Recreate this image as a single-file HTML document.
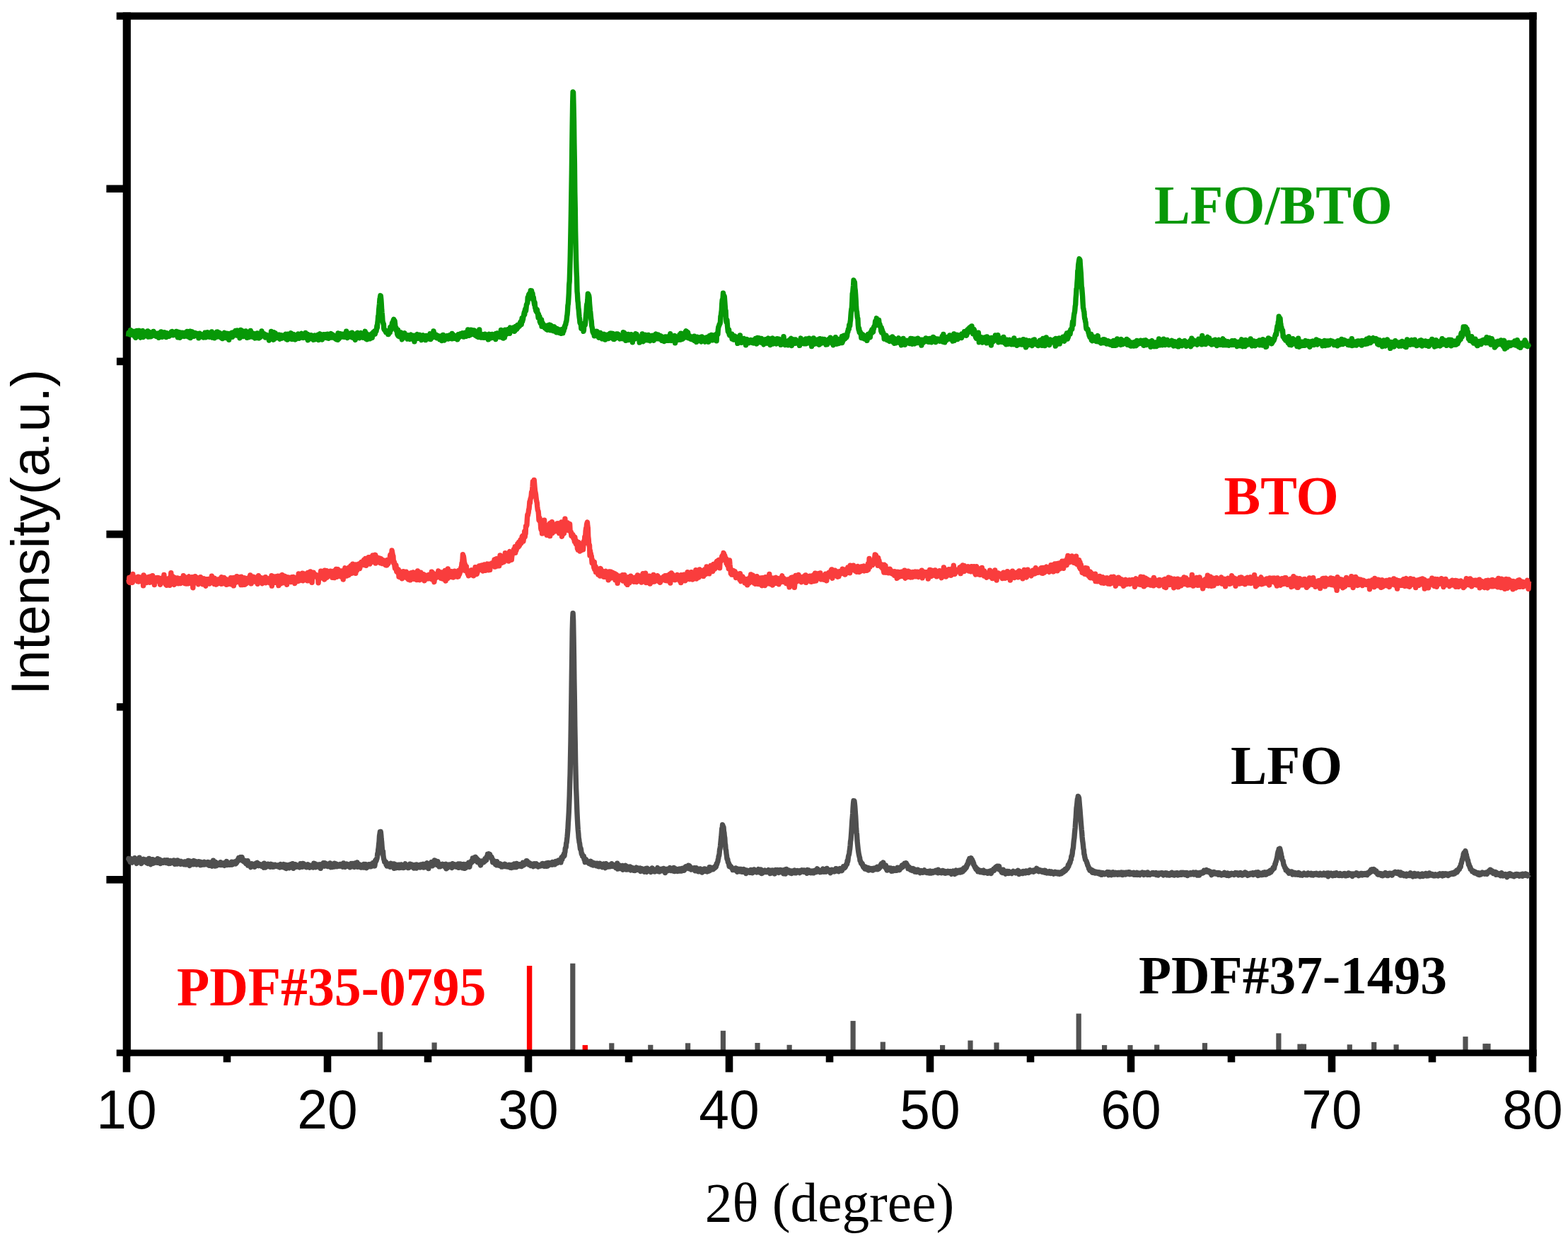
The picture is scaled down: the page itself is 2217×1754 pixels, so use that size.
<!DOCTYPE html>
<html lang="en"><head><meta charset="utf-8"><title>XRD patterns</title>
<style>html,body{margin:0;padding:0;background:#fff;overflow:hidden}svg{display:block}</style></head>
<body>
<svg width="2217" height="1754" viewBox="0 0 2217 1754">
<rect width="2217" height="1754" fill="#fff"/>
<g stroke="#000" stroke-width="10.5" fill="none" stroke-linecap="butt">
<line x1="164.70000000000002" y1="22.6" x2="2172.65" y2="22.6" stroke-width="10.4"/>
<line x1="179.3" y1="17.400000000000002" x2="179.3" y2="1492.75" stroke-width="11.2"/>
<line x1="2167.4" y1="17.400000000000002" x2="2167.4" y2="1492.75"/>
<line x1="179.0" y1="1488.1" x2="179.0" y2="1515.3999999999999" stroke-width="10.6"/>
<line x1="321.0" y1="1488.1" x2="321.0" y2="1501.3999999999999" stroke-width="10.6"/>
<line x1="463.0" y1="1488.1" x2="463.0" y2="1515.3999999999999" stroke-width="10.6"/>
<line x1="605.0" y1="1488.1" x2="605.0" y2="1501.3999999999999" stroke-width="10.6"/>
<line x1="747.0" y1="1488.1" x2="747.0" y2="1515.3999999999999" stroke-width="10.6"/>
<line x1="889.0" y1="1488.1" x2="889.0" y2="1501.3999999999999" stroke-width="10.6"/>
<line x1="1031.0" y1="1488.1" x2="1031.0" y2="1515.3999999999999" stroke-width="10.6"/>
<line x1="1173.0" y1="1488.1" x2="1173.0" y2="1501.3999999999999" stroke-width="10.6"/>
<line x1="1315.0" y1="1488.1" x2="1315.0" y2="1515.3999999999999" stroke-width="10.6"/>
<line x1="1457.0" y1="1488.1" x2="1457.0" y2="1501.3999999999999" stroke-width="10.6"/>
<line x1="1599.0" y1="1488.1" x2="1599.0" y2="1515.3999999999999" stroke-width="10.6"/>
<line x1="1741.0" y1="1488.1" x2="1741.0" y2="1501.3999999999999" stroke-width="10.6"/>
<line x1="1883.0" y1="1488.1" x2="1883.0" y2="1515.3999999999999" stroke-width="10.6"/>
<line x1="2025.0" y1="1488.1" x2="2025.0" y2="1501.3999999999999" stroke-width="10.6"/>
<line x1="2167.0" y1="1488.1" x2="2167.0" y2="1515.3999999999999" stroke-width="10.6"/>
<line x1="178.9" y1="266.8" x2="150.4" y2="266.8" stroke-width="10.6"/>
<line x1="178.9" y1="510.9" x2="164.9" y2="510.9" stroke-width="10.6"/>
<line x1="178.9" y1="755.1" x2="150.4" y2="755.1" stroke-width="10.6"/>
<line x1="178.9" y1="999.2" x2="164.9" y2="999.2" stroke-width="10.6"/>
<line x1="178.9" y1="1243.3" x2="150.4" y2="1243.3" stroke-width="10.6"/>
</g>
<g stroke="#525252" stroke-width="7.2" stroke-linecap="butt">
<line x1="537.4" y1="1488.1" x2="537.4" y2="1458.6"/>
<line x1="614.1" y1="1488.1" x2="614.1" y2="1473.5"/>
<line x1="809.8" y1="1488.1" x2="809.8" y2="1361.7"/>
<line x1="864.8" y1="1488.1" x2="864.8" y2="1474.3"/>
<line x1="919.8" y1="1488.1" x2="919.8" y2="1476.8"/>
<line x1="972.6" y1="1488.1" x2="972.6" y2="1474.3"/>
<line x1="1022.4" y1="1488.1" x2="1022.4" y2="1456.8"/>
<line x1="1071.0" y1="1488.1" x2="1071.0" y2="1474.0"/>
<line x1="1116.1" y1="1488.1" x2="1116.1" y2="1476.8"/>
<line x1="1206.1" y1="1488.1" x2="1206.1" y2="1442.9"/>
<line x1="1248.3" y1="1488.1" x2="1248.3" y2="1472.6"/>
<line x1="1332.6" y1="1488.1" x2="1332.6" y2="1477.1"/>
<line x1="1372.0" y1="1488.1" x2="1372.0" y2="1470.6"/>
<line x1="1409.0" y1="1488.1" x2="1409.0" y2="1473.5"/>
<line x1="1525.2" y1="1488.1" x2="1525.2" y2="1432.6"/>
<line x1="1561.6" y1="1488.1" x2="1561.6" y2="1477.1"/>
<line x1="1598.0" y1="1488.1" x2="1598.0" y2="1477.1"/>
<line x1="1635.7" y1="1488.1" x2="1635.7" y2="1476.6"/>
<line x1="1703.5" y1="1488.1" x2="1703.5" y2="1474.1"/>
<line x1="1807.9" y1="1488.1" x2="1807.9" y2="1460.4"/>
<line x1="1838.0" y1="1488.1" x2="1838.0" y2="1475.6"/>
<line x1="1843.5" y1="1488.1" x2="1843.5" y2="1475.6"/>
<line x1="1908.3" y1="1488.1" x2="1908.3" y2="1476.3"/>
<line x1="1942.7" y1="1488.1" x2="1942.7" y2="1472.9"/>
<line x1="1974.1" y1="1488.1" x2="1974.1" y2="1476.3"/>
<line x1="2072.0" y1="1488.1" x2="2072.0" y2="1465.1"/>
<line x1="2100.0" y1="1488.1" x2="2100.0" y2="1475.1"/>
<line x1="2104.0" y1="1488.1" x2="2104.0" y2="1475.1"/>
</g>
<g stroke="#f00" stroke-width="7.4" stroke-linecap="butt">
<line x1="748.6" y1="1488.1" x2="748.6" y2="1365.1"/>
<line x1="827.3" y1="1488.1" x2="827.3" y2="1477.1"/>
</g>
<line x1="164.70000000000002" y1="1488.1" x2="2172.65" y2="1488.1" stroke="#000" stroke-width="9.3"/>
<path d="M181.5,1215.8 L181.9,1213.6 L182.4,1215.1 L182.8,1214.6 L183.3,1216.1 L183.7,1215.8 L184.2,1218.3 L184.6,1217.5 L185.1,1218.7 L185.5,1216.7 L186.0,1213.8 L186.4,1217.9 L186.9,1219.1 L187.3,1215.3 L187.8,1218.1 L188.2,1215.9 L188.7,1216.6 L189.1,1216.2 L189.6,1215.0 L190.0,1214.8 L190.5,1212.7 L190.9,1215.9 L191.4,1216.5 L191.8,1217.9 L192.3,1217.0 L192.7,1217.7 L193.2,1220.4 L193.6,1218.3 L194.1,1216.2 L194.5,1216.5 L195.0,1215.9 L195.4,1218.0 L195.9,1215.2 L196.3,1217.6 L196.8,1216.6 L197.2,1212.2 L197.7,1217.4 L198.1,1216.2 L198.6,1215.9 L199.0,1217.1 L199.5,1217.4 L199.9,1220.5 L200.4,1216.8 L200.8,1215.4 L201.3,1216.5 L201.7,1217.2 L202.2,1214.9 L202.6,1216.0 L203.1,1214.2 L203.5,1215.0 L204.0,1216.3 L204.4,1218.0 L204.9,1215.3 L205.3,1215.3 L205.8,1216.4 L206.2,1215.1 L206.7,1215.9 L207.1,1215.4 L207.6,1219.6 L208.0,1216.5 L208.5,1219.6 L208.9,1217.9 L209.4,1220.4 L209.8,1216.0 L210.3,1217.6 L210.7,1213.4 L211.2,1219.1 L211.6,1218.1 L212.1,1216.7 L212.5,1220.4 L213.0,1221.7 L213.4,1219.5 L213.9,1219.4 L214.3,1216.8 L214.8,1215.6 L215.2,1214.8 L215.7,1219.0 L216.1,1214.7 L216.6,1217.3 L217.0,1220.2 L217.5,1218.1 L217.9,1215.5 L218.4,1216.0 L218.8,1219.4 L219.3,1216.1 L219.7,1217.3 L220.2,1215.9 L220.6,1217.9 L221.1,1216.8 L221.5,1219.1 L222.0,1215.8 L222.4,1216.6 L222.9,1213.7 L223.3,1219.4 L223.8,1219.2 L224.2,1217.0 L224.7,1217.9 L225.1,1218.6 L225.6,1219.4 L226.0,1214.9 L226.5,1215.7 L226.9,1220.5 L227.4,1219.0 L227.8,1218.2 L228.3,1217.4 L228.7,1218.7 L229.2,1219.0 L229.6,1219.2 L230.1,1216.5 L230.5,1218.5 L231.0,1219.3 L231.4,1219.2 L231.9,1216.8 L232.3,1217.6 L232.8,1215.9 L233.2,1216.5 L233.7,1217.4 L234.1,1218.2 L234.6,1218.6 L235.0,1219.4 L235.5,1218.0 L235.9,1215.8 L236.4,1218.0 L236.8,1217.5 L237.3,1215.9 L237.7,1217.8 L238.2,1219.6 L238.6,1220.5 L239.1,1218.7 L239.5,1216.6 L240.0,1218.6 L240.4,1217.4 L240.9,1220.3 L241.3,1216.5 L241.8,1219.8 L242.2,1218.1 L242.7,1219.1 L243.1,1217.4 L243.6,1219.2 L244.0,1218.3 L244.5,1218.0 L244.9,1216.7 L245.4,1217.7 L245.8,1216.0 L246.3,1219.9 L246.7,1218.7 L247.2,1221.3 L247.6,1216.4 L248.1,1221.0 L248.5,1219.1 L249.0,1217.7 L249.4,1219.3 L249.9,1216.9 L250.3,1217.0 L250.8,1221.0 L251.2,1215.9 L251.7,1218.6 L252.1,1220.4 L252.6,1218.3 L253.0,1220.2 L253.5,1217.9 L253.9,1217.5 L254.4,1220.6 L254.8,1220.5 L255.3,1219.1 L255.7,1221.3 L256.2,1217.3 L256.6,1220.4 L257.1,1218.0 L257.5,1218.9 L258.0,1218.6 L258.4,1218.8 L258.9,1219.5 L259.3,1221.2 L259.8,1221.6 L260.2,1219.8 L260.7,1219.8 L261.1,1217.9 L261.6,1221.7 L262.0,1220.5 L262.5,1218.1 L262.9,1219.5 L263.4,1221.9 L263.8,1218.9 L264.3,1220.5 L264.7,1220.0 L265.2,1219.3 L265.6,1219.7 L266.1,1216.4 L266.5,1220.9 L267.0,1218.7 L267.4,1219.8 L267.9,1217.7 L268.3,1223.5 L268.8,1220.9 L269.2,1217.1 L269.7,1219.2 L270.1,1219.8 L270.6,1219.0 L271.0,1218.3 L271.5,1218.1 L271.9,1218.4 L272.4,1219.7 L272.8,1219.8 L273.3,1221.7 L273.7,1219.7 L274.2,1216.6 L274.6,1219.7 L275.1,1221.5 L275.5,1217.9 L276.0,1219.8 L276.4,1219.8 L276.9,1217.5 L277.3,1218.8 L277.8,1217.9 L278.2,1222.0 L278.7,1220.9 L279.1,1220.0 L279.6,1220.8 L280.0,1220.6 L280.5,1218.2 L280.9,1217.7 L281.4,1217.8 L281.8,1218.4 L282.3,1221.7 L282.7,1222.1 L283.2,1222.7 L283.6,1218.2 L284.1,1220.0 L284.5,1221.6 L285.0,1222.3 L285.4,1219.0 L285.9,1219.0 L286.3,1219.3 L286.8,1220.7 L287.2,1221.3 L287.7,1221.4 L288.1,1219.1 L288.6,1222.0 L289.0,1218.2 L289.5,1220.7 L289.9,1221.8 L290.4,1221.6 L290.8,1220.8 L291.3,1219.8 L291.7,1220.6 L292.2,1219.8 L292.6,1219.9 L293.1,1219.2 L293.5,1222.1 L294.0,1218.4 L294.4,1219.1 L294.9,1222.3 L295.3,1221.1 L295.8,1223.3 L296.2,1223.1 L296.7,1221.3 L297.1,1222.3 L297.6,1218.9 L298.0,1220.9 L298.5,1223.0 L298.9,1220.9 L299.4,1220.5 L299.8,1224.2 L300.3,1221.3 L300.7,1217.9 L301.2,1221.8 L301.6,1216.2 L302.1,1220.9 L302.5,1220.7 L303.0,1219.3 L303.4,1218.8 L303.9,1219.3 L304.3,1224.1 L304.8,1218.4 L305.2,1219.1 L305.7,1220.3 L306.1,1220.1 L306.6,1223.6 L307.0,1221.6 L307.5,1220.9 L307.9,1222.1 L308.4,1221.3 L308.8,1220.4 L309.3,1220.0 L309.7,1220.1 L310.2,1220.2 L310.6,1219.9 L311.1,1220.5 L311.5,1222.5 L312.0,1218.6 L312.4,1221.0 L312.9,1221.5 L313.3,1220.2 L313.8,1220.5 L314.2,1222.6 L314.7,1220.6 L315.1,1222.3 L315.6,1222.2 L316.0,1221.6 L316.5,1221.5 L316.9,1222.4 L317.4,1223.3 L317.8,1219.4 L318.3,1222.3 L318.7,1219.6 L319.2,1219.1 L319.6,1220.6 L320.1,1220.5 L320.5,1217.6 L321.0,1222.6 L321.4,1219.6 L321.9,1221.6 L322.3,1221.4 L322.8,1221.9 L323.2,1221.0 L323.7,1221.1 L324.1,1220.7 L324.6,1220.1 L325.0,1222.3 L325.5,1220.6 L325.9,1220.7 L326.4,1219.3 L326.8,1219.4 L327.3,1220.7 L327.7,1218.2 L328.2,1222.2 L328.6,1219.2 L329.1,1219.2 L329.5,1218.7 L330.0,1219.5 L330.4,1220.1 L330.9,1220.6 L331.3,1218.8 L331.8,1218.1 L332.2,1219.4 L332.7,1219.2 L333.1,1218.2 L333.6,1220.9 L334.0,1217.1 L334.5,1216.8 L334.9,1218.9 L335.4,1216.4 L335.8,1216.3 L336.3,1215.1 L336.7,1214.1 L337.2,1214.5 L337.6,1212.5 L338.1,1215.4 L338.5,1214.1 L339.0,1215.8 L339.4,1212.5 L339.9,1211.7 L340.3,1214.0 L340.8,1211.8 L341.2,1214.4 L341.7,1212.7 L342.1,1211.5 L342.6,1214.3 L343.0,1214.9 L343.5,1216.7 L343.9,1215.8 L344.4,1217.5 L344.8,1217.9 L345.3,1216.7 L345.7,1216.7 L346.2,1217.5 L346.6,1216.4 L347.1,1219.2 L347.5,1220.4 L348.0,1219.4 L348.4,1219.2 L348.9,1218.5 L349.3,1221.1 L349.8,1221.6 L350.2,1216.8 L350.7,1223.1 L351.1,1222.7 L351.6,1219.9 L352.0,1220.8 L352.5,1221.2 L352.9,1221.8 L353.4,1221.1 L353.8,1222.7 L354.3,1223.2 L354.7,1225.7 L355.2,1221.8 L355.6,1220.8 L356.1,1223.3 L356.5,1221.9 L357.0,1222.2 L357.4,1222.1 L357.9,1221.5 L358.3,1221.5 L358.8,1221.6 L359.2,1221.3 L359.7,1222.0 L360.1,1225.3 L360.6,1222.5 L361.0,1221.2 L361.5,1220.5 L361.9,1223.5 L362.4,1220.8 L362.8,1222.2 L363.3,1219.8 L363.7,1219.5 L364.2,1222.9 L364.6,1220.0 L365.1,1222.7 L365.5,1223.6 L366.0,1221.2 L366.4,1221.8 L366.9,1222.0 L367.3,1221.7 L367.8,1222.2 L368.2,1222.2 L368.7,1222.6 L369.1,1223.2 L369.6,1224.1 L370.0,1223.9 L370.5,1223.2 L370.9,1221.9 L371.4,1223.7 L371.8,1224.0 L372.3,1223.0 L372.7,1222.3 L373.2,1226.2 L373.6,1220.2 L374.1,1224.4 L374.5,1223.7 L375.0,1225.5 L375.4,1225.9 L375.9,1224.2 L376.3,1222.7 L376.8,1224.3 L377.2,1222.0 L377.7,1223.9 L378.1,1222.7 L378.6,1224.5 L379.0,1221.2 L379.5,1223.0 L379.9,1223.7 L380.4,1223.2 L380.8,1223.1 L381.3,1222.5 L381.7,1223.0 L382.2,1225.3 L382.6,1222.4 L383.1,1221.4 L383.5,1221.9 L384.0,1222.7 L384.4,1224.2 L384.9,1222.7 L385.3,1224.2 L385.8,1225.2 L386.2,1222.1 L386.7,1223.9 L387.1,1223.3 L387.6,1225.0 L388.0,1224.8 L388.5,1224.2 L388.9,1222.2 L389.4,1223.5 L389.8,1224.1 L390.3,1224.2 L390.7,1223.3 L391.2,1224.3 L391.6,1224.5 L392.1,1224.6 L392.5,1223.3 L393.0,1223.9 L393.4,1222.7 L393.9,1223.3 L394.3,1225.3 L394.8,1224.2 L395.2,1224.3 L395.7,1226.0 L396.1,1223.4 L396.6,1223.9 L397.0,1221.6 L397.5,1224.9 L397.9,1223.4 L398.4,1225.0 L398.8,1225.3 L399.3,1224.4 L399.7,1225.2 L400.2,1222.3 L400.6,1223.6 L401.1,1221.6 L401.5,1225.7 L402.0,1225.2 L402.4,1226.4 L402.9,1226.2 L403.3,1226.4 L403.8,1224.0 L404.2,1222.3 L404.7,1223.9 L405.1,1227.5 L405.6,1225.3 L406.0,1226.2 L406.5,1225.6 L406.9,1225.4 L407.4,1224.0 L407.8,1222.6 L408.3,1225.4 L408.7,1222.9 L409.2,1226.8 L409.6,1225.4 L410.1,1225.6 L410.5,1224.5 L411.0,1221.8 L411.4,1222.8 L411.9,1225.3 L412.3,1222.0 L412.8,1221.9 L413.2,1225.7 L413.7,1220.6 L414.1,1223.8 L414.6,1224.7 L415.0,1227.3 L415.5,1226.2 L415.9,1225.3 L416.4,1222.0 L416.8,1223.9 L417.3,1221.7 L417.7,1224.5 L418.2,1222.0 L418.6,1225.4 L419.1,1225.0 L419.5,1223.5 L420.0,1224.9 L420.4,1224.4 L420.9,1224.0 L421.3,1223.7 L421.8,1224.8 L422.2,1223.9 L422.7,1223.2 L423.1,1224.4 L423.6,1223.0 L424.0,1225.9 L424.5,1225.2 L424.9,1220.8 L425.4,1223.1 L425.8,1223.2 L426.3,1223.3 L426.7,1224.0 L427.2,1225.2 L427.6,1225.3 L428.1,1220.4 L428.5,1224.5 L429.0,1220.7 L429.4,1224.8 L429.9,1223.8 L430.3,1221.9 L430.8,1222.4 L431.2,1222.4 L431.7,1224.8 L432.1,1222.2 L432.6,1222.5 L433.0,1223.9 L433.5,1225.8 L433.9,1222.7 L434.4,1223.9 L434.8,1222.5 L435.3,1225.0 L435.7,1221.8 L436.2,1224.0 L436.6,1223.9 L437.1,1222.8 L437.5,1225.1 L438.0,1226.2 L438.4,1223.5 L438.9,1223.8 L439.3,1223.5 L439.8,1225.1 L440.2,1224.8 L440.7,1224.0 L441.1,1224.0 L441.6,1223.1 L442.0,1223.8 L442.5,1224.0 L442.9,1226.1 L443.4,1224.7 L443.8,1220.2 L444.3,1222.5 L444.7,1224.9 L445.2,1224.7 L445.6,1220.6 L446.1,1223.2 L446.5,1225.8 L447.0,1222.6 L447.4,1223.0 L447.9,1223.7 L448.3,1222.1 L448.8,1224.9 L449.2,1223.4 L449.7,1223.3 L450.1,1222.1 L450.6,1224.9 L451.0,1223.2 L451.5,1222.7 L451.9,1223.6 L452.4,1221.9 L452.8,1223.0 L453.3,1227.3 L453.7,1223.0 L454.2,1222.9 L454.6,1224.1 L455.1,1224.4 L455.5,1224.3 L456.0,1223.8 L456.4,1220.9 L456.9,1222.4 L457.3,1219.7 L457.8,1223.7 L458.2,1223.3 L458.7,1224.0 L459.1,1220.7 L459.6,1219.9 L460.0,1222.9 L460.5,1221.5 L460.9,1221.5 L461.4,1222.4 L461.8,1221.6 L462.3,1221.2 L462.7,1224.3 L463.2,1224.1 L463.6,1224.5 L464.1,1223.7 L464.5,1223.4 L465.0,1224.0 L465.4,1223.0 L465.9,1223.5 L466.3,1223.0 L466.8,1220.0 L467.2,1223.8 L467.7,1225.6 L468.1,1225.2 L468.6,1222.6 L469.0,1223.6 L469.5,1223.5 L469.9,1225.6 L470.4,1225.4 L470.8,1222.0 L471.3,1221.9 L471.7,1222.3 L472.2,1222.1 L472.6,1225.1 L473.1,1220.2 L473.5,1221.3 L474.0,1220.8 L474.4,1221.8 L474.9,1223.5 L475.3,1220.9 L475.8,1223.5 L476.2,1224.7 L476.7,1222.8 L477.1,1224.6 L477.6,1222.8 L478.0,1223.5 L478.5,1222.4 L478.9,1224.2 L479.4,1223.0 L479.8,1223.4 L480.3,1223.8 L480.7,1224.1 L481.2,1221.4 L481.6,1223.4 L482.1,1222.2 L482.5,1222.8 L483.0,1223.4 L483.4,1224.3 L483.9,1223.3 L484.3,1223.0 L484.8,1225.2 L485.2,1223.9 L485.7,1220.0 L486.1,1223.3 L486.6,1222.0 L487.0,1223.6 L487.5,1223.9 L487.9,1225.4 L488.4,1222.7 L488.8,1224.7 L489.3,1223.4 L489.7,1222.7 L490.2,1221.0 L490.6,1223.1 L491.1,1224.4 L491.5,1221.8 L492.0,1223.7 L492.4,1222.4 L492.9,1223.8 L493.3,1222.7 L493.8,1223.8 L494.2,1221.7 L494.7,1224.1 L495.1,1225.8 L495.6,1224.7 L496.0,1222.4 L496.5,1220.5 L496.9,1223.3 L497.4,1221.4 L497.8,1222.9 L498.3,1224.8 L498.7,1220.4 L499.2,1223.3 L499.6,1223.4 L500.1,1224.5 L500.5,1223.9 L501.0,1225.4 L501.4,1223.4 L501.9,1223.7 L502.3,1219.9 L502.8,1223.0 L503.2,1222.7 L503.7,1223.0 L504.1,1224.4 L504.6,1220.9 L505.0,1218.9 L505.5,1225.2 L505.9,1222.4 L506.4,1222.2 L506.8,1224.8 L507.3,1223.9 L507.7,1223.2 L508.2,1223.7 L508.6,1224.5 L509.1,1222.1 L509.5,1223.3 L510.0,1225.9 L510.4,1223.8 L510.9,1223.6 L511.3,1226.1 L511.8,1223.4 L512.2,1225.1 L512.7,1223.3 L513.1,1222.9 L513.6,1224.0 L514.0,1223.9 L514.5,1221.4 L514.9,1226.1 L515.4,1223.7 L515.8,1226.0 L516.3,1221.9 L516.7,1222.6 L517.2,1221.6 L517.6,1223.3 L518.1,1224.6 L518.5,1226.7 L519.0,1223.0 L519.4,1223.1 L519.9,1224.8 L520.3,1224.0 L520.8,1222.1 L521.2,1222.2 L521.7,1221.8 L522.1,1224.4 L522.6,1221.9 L523.0,1222.4 L523.5,1224.7 L523.9,1222.4 L524.4,1224.8 L524.8,1221.1 L525.3,1221.8 L525.7,1224.4 L526.2,1223.2 L526.6,1221.0 L527.1,1220.5 L527.5,1219.5 L528.0,1221.9 L528.4,1220.7 L528.9,1221.2 L529.3,1220.3 L529.8,1223.9 L530.2,1221.2 L530.7,1216.5 L531.1,1218.3 L531.6,1215.3 L532.0,1216.5 L532.5,1214.5 L532.9,1213.7 L533.4,1211.1 L533.8,1206.5 L534.3,1207.8 L534.7,1201.0 L535.2,1198.0 L535.6,1193.3 L536.1,1189.1 L536.5,1181.7 L537.0,1178.6 L537.4,1175.8 L537.9,1177.6 L538.3,1175.5 L538.8,1180.6 L539.2,1186.2 L539.7,1190.5 L540.1,1196.3 L540.6,1202.0 L541.0,1203.4 L541.5,1203.2 L541.9,1209.4 L542.4,1212.4 L542.8,1214.5 L543.3,1215.9 L543.7,1218.2 L544.2,1217.8 L544.6,1217.8 L545.1,1217.8 L545.5,1218.2 L546.0,1222.0 L546.4,1220.3 L546.9,1220.5 L547.3,1224.1 L547.8,1220.3 L548.2,1223.4 L548.7,1220.8 L549.1,1221.5 L549.6,1221.7 L550.0,1223.2 L550.5,1222.4 L550.9,1224.4 L551.4,1222.0 L551.8,1225.4 L552.3,1222.2 L552.7,1220.3 L553.2,1221.7 L553.6,1221.9 L554.1,1223.7 L554.5,1221.2 L555.0,1224.7 L555.4,1221.5 L555.9,1222.2 L556.3,1225.0 L556.8,1220.9 L557.2,1227.2 L557.7,1222.9 L558.1,1221.3 L558.6,1226.4 L559.0,1224.1 L559.5,1222.0 L559.9,1225.5 L560.4,1226.7 L560.8,1226.3 L561.3,1224.7 L561.7,1222.5 L562.2,1223.4 L562.6,1225.8 L563.1,1225.4 L563.5,1224.2 L564.0,1226.5 L564.4,1222.3 L564.9,1226.5 L565.3,1222.5 L565.8,1223.5 L566.2,1224.3 L566.7,1225.6 L567.1,1226.1 L567.6,1222.0 L568.0,1223.0 L568.5,1223.5 L568.9,1224.4 L569.4,1223.3 L569.8,1222.8 L570.3,1226.6 L570.7,1225.6 L571.2,1224.8 L571.6,1226.2 L572.1,1224.3 L572.5,1221.9 L573.0,1220.9 L573.4,1224.3 L573.9,1223.4 L574.3,1223.7 L574.8,1222.7 L575.2,1224.5 L575.7,1224.5 L576.1,1226.0 L576.6,1226.0 L577.0,1223.2 L577.5,1226.6 L577.9,1225.1 L578.4,1226.1 L578.8,1223.6 L579.3,1225.2 L579.7,1221.3 L580.2,1225.4 L580.6,1222.8 L581.1,1224.6 L581.5,1223.1 L582.0,1224.1 L582.4,1224.2 L582.9,1222.1 L583.3,1224.1 L583.8,1225.3 L584.2,1224.0 L584.7,1225.5 L585.1,1227.1 L585.6,1224.0 L586.0,1226.0 L586.5,1224.5 L586.9,1222.6 L587.4,1225.3 L587.8,1222.1 L588.3,1223.8 L588.7,1227.1 L589.2,1222.8 L589.6,1222.1 L590.1,1223.2 L590.5,1224.4 L591.0,1225.1 L591.4,1223.1 L591.9,1223.0 L592.3,1224.6 L592.8,1223.4 L593.2,1225.1 L593.7,1222.6 L594.1,1226.1 L594.6,1224.6 L595.0,1224.2 L595.5,1221.9 L595.9,1223.7 L596.4,1223.8 L596.8,1225.4 L597.3,1223.8 L597.7,1222.1 L598.2,1221.5 L598.6,1224.8 L599.1,1221.8 L599.5,1226.1 L600.0,1224.0 L600.4,1222.9 L600.9,1222.4 L601.3,1225.6 L601.8,1223.5 L602.2,1224.0 L602.7,1220.7 L603.1,1223.6 L603.6,1221.7 L604.0,1219.8 L604.5,1222.9 L604.9,1223.2 L605.4,1221.6 L605.8,1227.6 L606.3,1221.8 L606.7,1222.2 L607.2,1223.8 L607.6,1223.6 L608.1,1223.1 L608.5,1221.8 L609.0,1224.0 L609.4,1220.2 L609.9,1218.5 L610.3,1219.4 L610.8,1220.7 L611.2,1221.0 L611.7,1223.8 L612.1,1220.3 L612.6,1219.1 L613.0,1218.2 L613.5,1217.2 L613.9,1219.0 L614.4,1216.0 L614.8,1219.8 L615.3,1216.6 L615.7,1217.4 L616.2,1219.0 L616.6,1217.0 L617.1,1220.0 L617.5,1220.2 L618.0,1222.6 L618.4,1222.1 L618.9,1217.8 L619.3,1222.1 L619.8,1220.3 L620.2,1220.4 L620.7,1220.7 L621.1,1224.9 L621.6,1221.3 L622.0,1221.9 L622.5,1223.2 L622.9,1224.7 L623.4,1221.8 L623.8,1223.0 L624.3,1223.4 L624.7,1223.2 L625.2,1222.8 L625.6,1221.3 L626.1,1222.2 L626.5,1221.9 L627.0,1221.8 L627.4,1222.6 L627.9,1223.5 L628.3,1222.8 L628.8,1223.3 L629.2,1225.1 L629.7,1224.8 L630.1,1222.4 L630.6,1221.4 L631.0,1227.8 L631.5,1223.8 L631.9,1226.5 L632.4,1223.9 L632.8,1226.5 L633.3,1224.5 L633.7,1223.7 L634.2,1222.9 L634.6,1223.3 L635.1,1222.2 L635.5,1223.9 L636.0,1223.4 L636.4,1224.2 L636.9,1224.3 L637.3,1222.0 L637.8,1224.2 L638.2,1224.0 L638.7,1225.7 L639.1,1226.5 L639.6,1223.4 L640.0,1220.7 L640.5,1223.5 L640.9,1223.4 L641.4,1222.0 L641.8,1224.2 L642.3,1223.4 L642.7,1224.7 L643.2,1221.8 L643.6,1223.9 L644.1,1223.3 L644.5,1223.5 L645.0,1225.2 L645.4,1222.8 L645.9,1223.0 L646.3,1224.8 L646.8,1221.7 L647.2,1225.2 L647.7,1223.3 L648.1,1221.1 L648.6,1226.3 L649.0,1226.3 L649.5,1223.8 L649.9,1222.2 L650.4,1221.0 L650.8,1224.0 L651.3,1225.6 L651.7,1221.2 L652.2,1223.2 L652.6,1225.7 L653.1,1224.8 L653.5,1223.5 L654.0,1226.7 L654.4,1221.7 L654.9,1224.1 L655.3,1224.8 L655.8,1221.4 L656.2,1222.8 L656.7,1222.8 L657.1,1227.3 L657.6,1223.0 L658.0,1222.8 L658.5,1222.0 L658.9,1226.5 L659.4,1225.6 L659.8,1221.4 L660.3,1221.4 L660.7,1223.1 L661.2,1222.3 L661.6,1222.4 L662.1,1220.7 L662.5,1219.2 L663.0,1222.0 L663.4,1220.3 L663.9,1225.2 L664.3,1221.4 L664.8,1221.1 L665.2,1220.9 L665.7,1218.9 L666.1,1219.6 L666.6,1217.1 L667.0,1218.2 L667.5,1218.4 L667.9,1217.3 L668.4,1212.9 L668.8,1217.4 L669.3,1214.9 L669.7,1216.8 L670.2,1214.9 L670.6,1214.1 L671.1,1214.1 L671.5,1211.7 L672.0,1212.1 L672.4,1211.3 L672.9,1213.0 L673.3,1214.3 L673.8,1212.9 L674.2,1214.4 L674.7,1214.4 L675.1,1218.4 L675.6,1214.9 L676.0,1216.4 L676.5,1216.7 L676.9,1216.2 L677.4,1218.9 L677.8,1218.3 L678.3,1220.7 L678.7,1218.4 L679.2,1220.4 L679.6,1222.9 L680.1,1220.7 L680.5,1219.1 L681.0,1220.2 L681.4,1217.0 L681.9,1219.4 L682.3,1219.1 L682.8,1219.1 L683.2,1218.8 L683.7,1218.8 L684.1,1216.6 L684.6,1216.5 L685.0,1215.5 L685.5,1217.4 L685.9,1213.6 L686.4,1215.1 L686.8,1213.2 L687.3,1213.9 L687.7,1215.9 L688.2,1211.0 L688.6,1212.3 L689.1,1211.7 L689.5,1207.3 L690.0,1208.1 L690.4,1208.4 L690.9,1206.7 L691.3,1207.0 L691.8,1207.2 L692.2,1208.0 L692.7,1207.7 L693.1,1210.9 L693.6,1211.1 L694.0,1211.2 L694.5,1212.7 L694.9,1211.0 L695.4,1212.3 L695.8,1213.3 L696.3,1216.2 L696.7,1218.7 L697.2,1216.6 L697.6,1216.0 L698.1,1216.6 L698.5,1218.6 L699.0,1217.0 L699.4,1217.9 L699.9,1220.4 L700.3,1221.5 L700.8,1220.5 L701.2,1221.1 L701.7,1221.3 L702.1,1222.8 L702.6,1217.8 L703.0,1222.0 L703.5,1222.1 L703.9,1221.6 L704.4,1221.7 L704.8,1222.9 L705.3,1221.6 L705.7,1223.1 L706.2,1221.2 L706.6,1222.9 L707.1,1223.6 L707.5,1220.8 L708.0,1223.7 L708.4,1223.2 L708.9,1223.4 L709.3,1225.1 L709.8,1223.9 L710.2,1222.0 L710.7,1224.0 L711.1,1224.8 L711.6,1222.8 L712.0,1222.9 L712.5,1222.7 L712.9,1222.0 L713.4,1221.3 L713.8,1223.6 L714.3,1224.5 L714.7,1221.6 L715.2,1223.4 L715.6,1223.1 L716.1,1224.5 L716.5,1224.8 L717.0,1223.8 L717.4,1224.9 L717.9,1224.6 L718.3,1224.3 L718.8,1224.3 L719.2,1225.2 L719.7,1223.1 L720.1,1222.3 L720.6,1224.9 L721.0,1225.0 L721.5,1226.1 L721.9,1223.9 L722.4,1222.6 L722.8,1224.9 L723.3,1226.4 L723.7,1223.6 L724.2,1224.3 L724.6,1223.6 L725.1,1222.0 L725.5,1225.6 L726.0,1223.2 L726.4,1225.8 L726.9,1222.9 L727.3,1221.0 L727.8,1222.2 L728.2,1222.2 L728.7,1222.4 L729.1,1222.9 L729.6,1222.8 L730.0,1225.7 L730.5,1220.4 L730.9,1222.1 L731.4,1223.5 L731.8,1224.3 L732.3,1223.4 L732.7,1223.2 L733.2,1224.0 L733.6,1223.1 L734.1,1223.0 L734.5,1224.0 L735.0,1221.7 L735.4,1223.7 L735.9,1222.3 L736.3,1223.4 L736.8,1222.6 L737.2,1224.6 L737.7,1223.7 L738.1,1223.3 L738.6,1221.7 L739.0,1223.2 L739.5,1219.1 L739.9,1223.0 L740.4,1222.8 L740.8,1221.8 L741.3,1222.2 L741.7,1219.2 L742.2,1220.2 L742.6,1219.3 L743.1,1220.7 L743.5,1219.9 L744.0,1220.6 L744.4,1216.6 L744.9,1216.6 L745.3,1218.5 L745.8,1217.5 L746.2,1218.2 L746.7,1220.7 L747.1,1220.3 L747.6,1219.7 L748.0,1222.1 L748.5,1221.0 L748.9,1219.8 L749.4,1221.8 L749.8,1222.3 L750.3,1221.3 L750.7,1223.6 L751.2,1222.4 L751.6,1222.7 L752.1,1222.8 L752.5,1221.4 L753.0,1221.9 L753.4,1222.8 L753.9,1222.3 L754.3,1224.7 L754.8,1221.5 L755.2,1220.8 L755.7,1223.3 L756.1,1222.5 L756.6,1220.9 L757.0,1223.8 L757.5,1223.7 L757.9,1221.4 L758.4,1220.8 L758.8,1223.5 L759.3,1223.4 L759.7,1223.7 L760.2,1222.3 L760.6,1224.0 L761.1,1225.0 L761.5,1223.7 L762.0,1223.6 L762.4,1224.2 L762.9,1223.4 L763.3,1222.8 L763.8,1223.2 L764.2,1224.0 L764.7,1223.1 L765.1,1223.6 L765.6,1222.3 L766.0,1222.8 L766.5,1220.8 L766.9,1223.6 L767.4,1222.6 L767.8,1220.6 L768.3,1222.5 L768.7,1220.8 L769.2,1222.5 L769.6,1224.3 L770.1,1221.9 L770.5,1220.8 L771.0,1221.4 L771.4,1222.5 L771.9,1221.7 L772.3,1223.2 L772.8,1219.9 L773.2,1224.4 L773.7,1222.3 L774.1,1222.3 L774.6,1223.9 L775.0,1223.2 L775.5,1219.4 L775.9,1219.7 L776.4,1222.6 L776.8,1220.8 L777.3,1220.0 L777.7,1222.2 L778.2,1221.0 L778.6,1221.9 L779.1,1220.4 L779.5,1220.7 L780.0,1220.8 L780.4,1221.3 L780.9,1222.1 L781.3,1218.4 L781.8,1219.4 L782.2,1219.4 L782.7,1220.5 L783.1,1219.4 L783.6,1220.4 L784.0,1221.7 L784.5,1220.3 L784.9,1221.6 L785.4,1219.8 L785.8,1217.5 L786.3,1219.7 L786.7,1219.7 L787.2,1217.9 L787.6,1218.2 L788.1,1219.8 L788.5,1218.7 L789.0,1216.6 L789.4,1216.2 L789.9,1218.5 L790.3,1218.2 L790.8,1215.7 L791.2,1217.0 L791.7,1217.1 L792.1,1218.0 L792.6,1217.4 L793.0,1219.0 L793.5,1214.5 L793.9,1212.3 L794.4,1213.9 L794.8,1214.7 L795.3,1211.0 L795.7,1210.1 L796.2,1210.9 L796.6,1209.7 L797.1,1210.5 L797.5,1206.9 L798.0,1209.7 L798.4,1205.7 L798.9,1203.9 L799.3,1198.8 L799.8,1198.6 L800.2,1197.5 L800.7,1191.6 L801.1,1191.2 L801.6,1186.3 L802.0,1182.9 L802.5,1177.2 L802.9,1172.6 L803.4,1162.4 L803.8,1157.0 L804.3,1147.6 L804.7,1137.8 L805.2,1124.6 L805.6,1108.8 L806.1,1093.5 L806.5,1072.8 L807.0,1048.0 L807.4,1021.0 L807.9,987.4 L808.3,955.3 L808.8,921.7 L809.2,890.8 L809.7,873.8 L810.1,866.7 L810.6,876.7 L811.0,897.7 L811.5,930.3 L811.9,962.9 L812.4,992.2 L812.8,1025.3 L813.3,1052.3 L813.7,1077.2 L814.2,1098.3 L814.6,1114.1 L815.1,1125.7 L815.5,1137.0 L816.0,1149.9 L816.4,1158.1 L816.9,1167.1 L817.3,1173.1 L817.8,1178.1 L818.2,1184.2 L818.7,1186.8 L819.1,1190.7 L819.6,1192.1 L820.0,1195.8 L820.5,1199.9 L820.9,1198.4 L821.4,1200.3 L821.8,1203.2 L822.3,1207.0 L822.7,1207.1 L823.2,1207.3 L823.6,1210.1 L824.1,1210.1 L824.5,1211.0 L825.0,1210.1 L825.4,1210.2 L825.9,1214.3 L826.3,1213.8 L826.8,1216.2 L827.2,1218.5 L827.7,1217.2 L828.1,1214.4 L828.6,1216.3 L829.0,1215.3 L829.5,1216.9 L829.9,1218.3 L830.4,1217.3 L830.8,1218.9 L831.3,1218.5 L831.7,1219.1 L832.2,1219.9 L832.6,1218.9 L833.1,1220.6 L833.5,1220.7 L834.0,1217.7 L834.4,1218.7 L834.9,1219.3 L835.3,1217.3 L835.8,1219.0 L836.2,1222.0 L836.7,1221.1 L837.1,1220.3 L837.6,1220.5 L838.0,1221.7 L838.5,1219.2 L838.9,1223.0 L839.4,1220.4 L839.8,1220.8 L840.3,1220.1 L840.7,1222.1 L841.2,1220.6 L841.6,1221.5 L842.1,1220.3 L842.5,1223.1 L843.0,1223.6 L843.4,1221.1 L843.9,1220.3 L844.3,1220.3 L844.8,1223.1 L845.2,1220.6 L845.7,1221.5 L846.1,1222.8 L846.6,1224.8 L847.0,1222.7 L847.5,1222.1 L847.9,1223.4 L848.4,1220.3 L848.8,1221.3 L849.3,1224.2 L849.7,1224.6 L850.2,1223.8 L850.6,1223.5 L851.1,1222.7 L851.5,1222.9 L852.0,1225.7 L852.4,1222.1 L852.9,1225.0 L853.3,1223.1 L853.8,1221.0 L854.2,1224.0 L854.7,1222.5 L855.1,1224.3 L855.6,1224.3 L856.0,1226.7 L856.5,1222.6 L856.9,1220.7 L857.4,1224.0 L857.8,1224.6 L858.3,1223.6 L858.7,1223.1 L859.2,1224.8 L859.6,1225.0 L860.1,1223.4 L860.5,1225.1 L861.0,1224.1 L861.4,1224.0 L861.9,1222.4 L862.3,1222.9 L862.8,1224.3 L863.2,1224.6 L863.7,1223.9 L864.1,1222.0 L864.6,1221.8 L865.0,1220.8 L865.5,1221.1 L865.9,1221.9 L866.4,1223.9 L866.8,1224.4 L867.3,1223.6 L867.7,1224.2 L868.2,1222.5 L868.6,1223.7 L869.1,1225.0 L869.5,1224.3 L870.0,1225.0 L870.4,1222.6 L870.9,1226.5 L871.3,1224.2 L871.8,1223.9 L872.2,1225.0 L872.7,1220.1 L873.1,1224.7 L873.6,1228.1 L874.0,1224.9 L874.5,1227.1 L874.9,1223.8 L875.4,1224.1 L875.8,1223.7 L876.3,1227.6 L876.7,1223.1 L877.2,1225.8 L877.6,1224.4 L878.1,1226.4 L878.5,1224.2 L879.0,1224.6 L879.4,1226.1 L879.9,1223.5 L880.3,1223.4 L880.8,1229.2 L881.2,1227.0 L881.7,1227.8 L882.1,1227.2 L882.6,1227.6 L883.0,1227.0 L883.5,1227.5 L883.9,1225.2 L884.4,1223.4 L884.8,1226.0 L885.3,1228.9 L885.7,1226.0 L886.2,1224.5 L886.6,1229.1 L887.1,1228.7 L887.5,1226.5 L888.0,1228.3 L888.4,1228.0 L888.9,1225.6 L889.3,1228.7 L889.8,1227.7 L890.2,1227.5 L890.7,1228.6 L891.1,1224.9 L891.6,1227.5 L892.0,1229.9 L892.5,1229.6 L892.9,1226.0 L893.4,1228.8 L893.8,1227.1 L894.3,1228.4 L894.7,1226.6 L895.2,1229.2 L895.6,1230.2 L896.1,1229.0 L896.5,1229.3 L897.0,1228.4 L897.4,1228.1 L897.9,1230.5 L898.3,1229.6 L898.8,1228.6 L899.2,1227.0 L899.7,1226.2 L900.1,1228.9 L900.6,1229.2 L901.0,1228.4 L901.5,1228.8 L901.9,1226.9 L902.4,1228.0 L902.8,1227.7 L903.3,1229.7 L903.7,1228.7 L904.2,1229.1 L904.6,1228.4 L905.1,1229.4 L905.5,1227.1 L906.0,1231.5 L906.4,1229.1 L906.9,1229.5 L907.3,1229.4 L907.8,1227.7 L908.2,1230.6 L908.7,1229.1 L909.1,1228.9 L909.6,1230.8 L910.0,1228.6 L910.5,1230.7 L910.9,1232.1 L911.4,1228.9 L911.8,1230.1 L912.3,1227.9 L912.7,1230.1 L913.2,1230.0 L913.6,1227.4 L914.1,1231.6 L914.5,1232.3 L915.0,1227.3 L915.4,1230.5 L915.9,1229.5 L916.3,1229.8 L916.8,1230.7 L917.2,1230.2 L917.7,1229.8 L918.1,1230.4 L918.6,1229.4 L919.0,1230.2 L919.5,1228.9 L919.9,1230.9 L920.4,1232.5 L920.8,1230.0 L921.3,1229.5 L921.7,1231.5 L922.2,1227.0 L922.6,1229.4 L923.1,1228.3 L923.5,1229.3 L924.0,1228.7 L924.4,1229.8 L924.9,1231.8 L925.3,1229.1 L925.8,1230.0 L926.2,1231.9 L926.7,1231.0 L927.1,1231.1 L927.6,1229.9 L928.0,1229.5 L928.5,1229.8 L928.9,1229.8 L929.4,1228.3 L929.8,1226.6 L930.3,1228.9 L930.7,1230.0 L931.2,1229.4 L931.6,1231.8 L932.1,1231.9 L932.5,1230.2 L933.0,1229.3 L933.4,1230.0 L933.9,1228.7 L934.3,1229.1 L934.8,1228.4 L935.2,1228.8 L935.7,1230.6 L936.1,1229.5 L936.6,1230.8 L937.0,1230.1 L937.5,1230.2 L937.9,1230.6 L938.4,1227.5 L938.8,1229.8 L939.3,1230.6 L939.7,1232.0 L940.2,1230.8 L940.6,1233.5 L941.1,1232.0 L941.5,1230.4 L942.0,1228.4 L942.4,1229.5 L942.9,1229.6 L943.3,1230.1 L943.8,1230.4 L944.2,1228.2 L944.7,1230.6 L945.1,1229.6 L945.6,1228.9 L946.0,1228.0 L946.5,1229.9 L946.9,1228.9 L947.4,1226.5 L947.8,1229.5 L948.3,1229.3 L948.7,1227.5 L949.2,1230.6 L949.6,1229.4 L950.1,1230.3 L950.5,1228.4 L951.0,1229.6 L951.4,1230.9 L951.9,1231.2 L952.3,1229.2 L952.8,1226.4 L953.2,1230.0 L953.7,1229.5 L954.1,1231.6 L954.6,1228.5 L955.0,1230.5 L955.5,1227.8 L955.9,1230.0 L956.4,1228.9 L956.8,1229.6 L957.3,1229.3 L957.7,1229.2 L958.2,1231.5 L958.6,1231.1 L959.1,1229.6 L959.5,1228.3 L960.0,1228.3 L960.4,1230.6 L960.9,1229.2 L961.3,1228.2 L961.8,1228.4 L962.2,1231.1 L962.7,1229.5 L963.1,1228.0 L963.6,1231.1 L964.0,1229.8 L964.5,1227.4 L964.9,1227.3 L965.4,1229.0 L965.8,1227.4 L966.3,1227.5 L966.7,1230.2 L967.2,1230.2 L967.6,1229.9 L968.1,1227.9 L968.5,1227.4 L969.0,1225.2 L969.4,1224.9 L969.9,1226.2 L970.3,1225.8 L970.8,1226.4 L971.2,1225.9 L971.7,1225.2 L972.1,1225.3 L972.6,1224.8 L973.0,1226.3 L973.5,1223.3 L973.9,1227.6 L974.4,1226.0 L974.8,1223.6 L975.3,1225.9 L975.7,1228.0 L976.2,1225.3 L976.6,1227.2 L977.1,1226.8 L977.5,1229.1 L978.0,1227.8 L978.4,1226.9 L978.9,1228.5 L979.3,1228.8 L979.8,1228.6 L980.2,1228.0 L980.7,1227.0 L981.1,1228.8 L981.6,1226.7 L982.0,1227.9 L982.5,1229.3 L982.9,1230.8 L983.4,1230.5 L983.8,1226.9 L984.3,1230.4 L984.7,1226.6 L985.2,1229.7 L985.6,1229.7 L986.1,1230.9 L986.5,1230.2 L987.0,1231.6 L987.4,1229.7 L987.9,1230.3 L988.3,1231.6 L988.8,1229.7 L989.2,1229.5 L989.7,1230.2 L990.1,1228.0 L990.6,1229.7 L991.0,1228.6 L991.5,1231.8 L991.9,1231.5 L992.4,1231.0 L992.8,1233.1 L993.3,1230.7 L993.7,1230.0 L994.2,1230.9 L994.6,1230.8 L995.1,1229.8 L995.5,1230.3 L996.0,1228.0 L996.4,1228.4 L996.9,1230.1 L997.3,1228.2 L997.8,1231.3 L998.2,1230.4 L998.7,1229.2 L999.1,1231.5 L999.6,1230.4 L1000.0,1232.0 L1000.5,1229.3 L1000.9,1228.7 L1001.4,1230.0 L1001.8,1228.3 L1002.3,1231.1 L1002.7,1230.5 L1003.2,1225.8 L1003.6,1229.9 L1004.1,1230.1 L1004.5,1228.1 L1005.0,1229.1 L1005.4,1228.8 L1005.9,1226.3 L1006.3,1228.9 L1006.8,1228.3 L1007.2,1227.3 L1007.7,1227.4 L1008.1,1227.7 L1008.6,1228.6 L1009.0,1227.4 L1009.5,1226.1 L1009.9,1225.6 L1010.4,1225.2 L1010.8,1226.7 L1011.3,1225.5 L1011.7,1223.9 L1012.2,1225.6 L1012.6,1224.2 L1013.1,1221.1 L1013.5,1221.7 L1014.0,1219.9 L1014.4,1218.7 L1014.9,1217.7 L1015.3,1214.8 L1015.8,1212.8 L1016.2,1209.9 L1016.7,1209.2 L1017.1,1205.9 L1017.6,1200.7 L1018.0,1199.4 L1018.5,1195.9 L1018.9,1191.5 L1019.4,1186.4 L1019.8,1183.0 L1020.3,1176.7 L1020.7,1171.3 L1021.2,1171.8 L1021.6,1165.8 L1022.1,1167.2 L1022.5,1169.8 L1023.0,1169.1 L1023.4,1174.7 L1023.9,1177.1 L1024.3,1181.7 L1024.8,1184.4 L1025.2,1191.9 L1025.7,1194.5 L1026.1,1200.3 L1026.6,1201.9 L1027.0,1206.5 L1027.5,1209.5 L1027.9,1213.5 L1028.4,1214.9 L1028.8,1214.3 L1029.3,1218.7 L1029.7,1219.0 L1030.2,1219.7 L1030.6,1221.4 L1031.1,1224.4 L1031.5,1222.1 L1032.0,1224.1 L1032.4,1223.7 L1032.9,1225.5 L1033.3,1225.6 L1033.8,1224.9 L1034.2,1226.4 L1034.7,1226.9 L1035.1,1227.1 L1035.6,1227.9 L1036.0,1229.5 L1036.5,1228.2 L1036.9,1228.5 L1037.4,1229.4 L1037.8,1228.4 L1038.3,1228.5 L1038.7,1228.4 L1039.2,1228.8 L1039.6,1229.0 L1040.1,1230.2 L1040.5,1227.0 L1041.0,1229.4 L1041.4,1230.3 L1041.9,1231.5 L1042.3,1232.2 L1042.8,1228.4 L1043.2,1229.4 L1043.7,1230.2 L1044.1,1228.3 L1044.6,1229.8 L1045.0,1231.0 L1045.5,1230.5 L1045.9,1228.5 L1046.4,1231.7 L1046.8,1229.6 L1047.3,1230.6 L1047.7,1228.5 L1048.2,1230.7 L1048.6,1232.0 L1049.1,1232.3 L1049.5,1232.3 L1050.0,1231.9 L1050.4,1230.0 L1050.9,1229.0 L1051.3,1232.2 L1051.8,1228.6 L1052.2,1229.2 L1052.7,1231.7 L1053.1,1231.3 L1053.6,1233.1 L1054.0,1230.8 L1054.5,1232.4 L1054.9,1234.5 L1055.4,1230.0 L1055.8,1230.7 L1056.3,1230.3 L1056.7,1230.9 L1057.2,1230.7 L1057.6,1232.2 L1058.1,1232.4 L1058.5,1231.5 L1059.0,1232.4 L1059.4,1230.4 L1059.9,1232.3 L1060.3,1231.2 L1060.8,1233.3 L1061.2,1232.4 L1061.7,1229.4 L1062.1,1231.6 L1062.6,1229.7 L1063.0,1230.7 L1063.5,1232.4 L1063.9,1233.8 L1064.4,1231.9 L1064.8,1231.9 L1065.3,1231.9 L1065.7,1231.0 L1066.2,1228.9 L1066.6,1232.1 L1067.1,1231.1 L1067.5,1230.8 L1068.0,1231.5 L1068.4,1231.9 L1068.9,1231.4 L1069.3,1232.5 L1069.8,1231.2 L1070.2,1232.9 L1070.7,1231.4 L1071.1,1231.6 L1071.6,1230.7 L1072.0,1230.7 L1072.5,1228.5 L1072.9,1230.1 L1073.4,1231.4 L1073.8,1232.9 L1074.3,1230.4 L1074.7,1230.9 L1075.2,1231.0 L1075.6,1231.3 L1076.1,1229.1 L1076.5,1231.1 L1077.0,1234.6 L1077.4,1233.4 L1077.9,1231.5 L1078.3,1232.6 L1078.8,1233.5 L1079.2,1231.7 L1079.7,1232.6 L1080.1,1232.0 L1080.6,1230.8 L1081.0,1231.8 L1081.5,1230.1 L1081.9,1231.5 L1082.4,1232.2 L1082.8,1231.3 L1083.3,1232.6 L1083.7,1232.1 L1084.2,1231.8 L1084.6,1231.2 L1085.1,1230.7 L1085.5,1231.7 L1086.0,1231.7 L1086.4,1232.8 L1086.9,1229.6 L1087.3,1232.4 L1087.8,1231.7 L1088.2,1231.4 L1088.7,1230.3 L1089.1,1234.6 L1089.6,1232.7 L1090.0,1232.0 L1090.5,1232.7 L1090.9,1230.2 L1091.4,1231.9 L1091.8,1232.1 L1092.3,1231.7 L1092.7,1230.1 L1093.2,1231.4 L1093.6,1233.8 L1094.1,1232.9 L1094.5,1232.2 L1095.0,1232.5 L1095.4,1234.9 L1095.9,1232.3 L1096.3,1230.8 L1096.8,1229.5 L1097.2,1232.0 L1097.7,1232.2 L1098.1,1230.1 L1098.6,1231.9 L1099.0,1232.3 L1099.5,1232.0 L1099.9,1229.6 L1100.4,1230.8 L1100.8,1230.6 L1101.3,1233.4 L1101.7,1231.3 L1102.2,1230.0 L1102.6,1232.2 L1103.1,1229.4 L1103.5,1231.2 L1104.0,1232.5 L1104.4,1230.7 L1104.9,1230.6 L1105.3,1229.8 L1105.8,1231.0 L1106.2,1233.0 L1106.7,1232.5 L1107.1,1233.1 L1107.6,1231.0 L1108.0,1234.8 L1108.5,1229.7 L1108.9,1230.7 L1109.4,1229.3 L1109.8,1232.8 L1110.3,1232.6 L1110.7,1235.0 L1111.2,1231.9 L1111.6,1232.1 L1112.1,1228.4 L1112.5,1229.5 L1113.0,1232.1 L1113.4,1230.9 L1113.9,1232.3 L1114.3,1230.3 L1114.8,1232.0 L1115.2,1232.1 L1115.7,1230.2 L1116.1,1233.1 L1116.6,1233.6 L1117.0,1232.1 L1117.5,1232.9 L1117.9,1232.8 L1118.4,1231.9 L1118.8,1233.1 L1119.3,1234.5 L1119.7,1230.9 L1120.2,1232.6 L1120.6,1231.6 L1121.1,1232.0 L1121.5,1231.6 L1122.0,1231.7 L1122.4,1232.4 L1122.9,1231.7 L1123.3,1232.9 L1123.8,1230.1 L1124.2,1233.8 L1124.7,1232.0 L1125.1,1231.8 L1125.6,1233.8 L1126.0,1233.1 L1126.5,1232.8 L1126.9,1232.6 L1127.4,1232.1 L1127.8,1230.6 L1128.3,1232.7 L1128.7,1232.4 L1129.2,1232.5 L1129.6,1231.5 L1130.1,1231.5 L1130.5,1231.0 L1131.0,1233.7 L1131.4,1231.1 L1131.9,1232.5 L1132.3,1231.2 L1132.8,1230.3 L1133.2,1231.3 L1133.7,1229.7 L1134.1,1231.1 L1134.6,1231.7 L1135.0,1230.9 L1135.5,1231.7 L1135.9,1232.1 L1136.4,1231.6 L1136.8,1229.9 L1137.3,1231.4 L1137.7,1230.6 L1138.2,1230.6 L1138.6,1231.6 L1139.1,1231.5 L1139.5,1232.9 L1140.0,1232.0 L1140.4,1231.1 L1140.9,1234.3 L1141.3,1233.3 L1141.8,1229.4 L1142.2,1230.2 L1142.7,1230.6 L1143.1,1233.0 L1143.6,1230.0 L1144.0,1231.3 L1144.5,1231.2 L1144.9,1233.3 L1145.4,1231.7 L1145.8,1233.0 L1146.3,1232.2 L1146.7,1233.7 L1147.2,1232.3 L1147.6,1232.4 L1148.1,1231.0 L1148.5,1231.2 L1149.0,1232.6 L1149.4,1233.8 L1149.9,1231.5 L1150.3,1232.3 L1150.8,1230.7 L1151.2,1233.8 L1151.7,1230.6 L1152.1,1232.3 L1152.6,1232.0 L1153.0,1230.3 L1153.5,1229.7 L1153.9,1231.1 L1154.4,1232.5 L1154.8,1229.6 L1155.3,1230.6 L1155.7,1227.8 L1156.2,1230.9 L1156.6,1229.9 L1157.1,1230.8 L1157.5,1231.4 L1158.0,1230.4 L1158.4,1232.0 L1158.9,1232.5 L1159.3,1232.7 L1159.8,1231.1 L1160.2,1230.5 L1160.7,1231.9 L1161.1,1232.3 L1161.6,1230.4 L1162.0,1231.0 L1162.5,1230.6 L1162.9,1231.7 L1163.4,1230.2 L1163.8,1228.1 L1164.3,1231.8 L1164.7,1232.2 L1165.2,1231.3 L1165.6,1232.0 L1166.1,1231.0 L1166.5,1229.7 L1167.0,1231.6 L1167.4,1230.4 L1167.9,1229.4 L1168.3,1232.2 L1168.8,1230.9 L1169.2,1227.5 L1169.7,1231.5 L1170.1,1230.7 L1170.6,1229.9 L1171.0,1229.9 L1171.5,1231.1 L1171.9,1231.4 L1172.4,1231.5 L1172.8,1232.0 L1173.3,1229.7 L1173.7,1232.3 L1174.2,1233.7 L1174.6,1230.8 L1175.1,1231.4 L1175.5,1231.6 L1176.0,1232.3 L1176.4,1229.1 L1176.9,1231.8 L1177.3,1229.8 L1177.8,1230.5 L1178.2,1231.1 L1178.7,1231.5 L1179.1,1230.6 L1179.6,1231.2 L1180.0,1231.9 L1180.5,1230.5 L1180.9,1231.6 L1181.4,1229.7 L1181.8,1227.7 L1182.3,1229.9 L1182.7,1229.9 L1183.2,1229.9 L1183.6,1228.1 L1184.1,1228.5 L1184.5,1229.9 L1185.0,1230.6 L1185.4,1230.3 L1185.9,1231.7 L1186.3,1230.7 L1186.8,1230.2 L1187.2,1229.4 L1187.7,1227.6 L1188.1,1229.5 L1188.6,1228.3 L1189.0,1228.7 L1189.5,1230.3 L1189.9,1228.1 L1190.4,1230.7 L1190.8,1227.6 L1191.3,1227.5 L1191.7,1226.8 L1192.2,1227.8 L1192.6,1224.8 L1193.1,1227.2 L1193.5,1227.0 L1194.0,1227.0 L1194.4,1226.0 L1194.9,1225.9 L1195.3,1225.2 L1195.8,1223.8 L1196.2,1223.3 L1196.7,1221.4 L1197.1,1220.6 L1197.6,1221.3 L1198.0,1216.8 L1198.5,1218.1 L1198.9,1216.1 L1199.4,1211.6 L1199.8,1209.3 L1200.3,1208.1 L1200.7,1206.3 L1201.2,1202.2 L1201.6,1200.0 L1202.1,1195.1 L1202.5,1189.4 L1203.0,1186.8 L1203.4,1181.8 L1203.9,1174.7 L1204.3,1168.3 L1204.8,1160.1 L1205.2,1155.6 L1205.7,1149.7 L1206.1,1141.6 L1206.6,1134.9 L1207.0,1131.8 L1207.5,1132.4 L1207.9,1132.2 L1208.4,1136.3 L1208.8,1140.3 L1209.3,1147.9 L1209.7,1153.0 L1210.2,1162.6 L1210.6,1170.4 L1211.1,1176.9 L1211.5,1179.4 L1212.0,1188.1 L1212.4,1192.1 L1212.9,1196.8 L1213.3,1200.6 L1213.8,1204.2 L1214.2,1206.8 L1214.7,1209.1 L1215.1,1211.0 L1215.6,1212.4 L1216.0,1216.3 L1216.5,1216.7 L1216.9,1217.7 L1217.4,1220.1 L1217.8,1220.5 L1218.3,1220.7 L1218.7,1221.8 L1219.2,1220.5 L1219.6,1222.2 L1220.1,1223.8 L1220.5,1225.2 L1221.0,1225.8 L1221.4,1224.3 L1221.9,1225.6 L1222.3,1226.8 L1222.8,1227.9 L1223.2,1226.1 L1223.7,1225.9 L1224.1,1225.4 L1224.6,1227.0 L1225.0,1227.7 L1225.5,1228.7 L1225.9,1227.4 L1226.4,1228.8 L1226.8,1227.8 L1227.3,1228.1 L1227.7,1226.5 L1228.2,1230.1 L1228.6,1228.1 L1229.1,1229.8 L1229.5,1229.3 L1230.0,1228.1 L1230.4,1227.7 L1230.9,1229.2 L1231.3,1227.7 L1231.8,1227.7 L1232.2,1227.8 L1232.7,1227.7 L1233.1,1227.6 L1233.6,1230.0 L1234.0,1228.5 L1234.5,1229.9 L1234.9,1229.3 L1235.4,1228.6 L1235.8,1228.1 L1236.3,1227.1 L1236.7,1228.4 L1237.2,1228.0 L1237.6,1227.9 L1238.1,1227.8 L1238.5,1228.5 L1239.0,1227.2 L1239.4,1226.3 L1239.9,1226.8 L1240.3,1225.3 L1240.8,1227.4 L1241.2,1228.8 L1241.7,1226.2 L1242.1,1227.4 L1242.6,1228.0 L1243.0,1224.9 L1243.5,1225.4 L1243.9,1225.2 L1244.4,1225.9 L1244.8,1224.2 L1245.3,1222.4 L1245.7,1222.0 L1246.2,1220.9 L1246.6,1221.4 L1247.1,1222.1 L1247.5,1222.0 L1248.0,1220.6 L1248.4,1221.6 L1248.9,1219.1 L1249.3,1221.4 L1249.8,1223.7 L1250.2,1222.9 L1250.7,1223.1 L1251.1,1225.5 L1251.6,1225.9 L1252.0,1224.9 L1252.5,1223.0 L1252.9,1226.8 L1253.4,1228.7 L1253.8,1226.1 L1254.3,1230.0 L1254.7,1226.6 L1255.2,1229.0 L1255.6,1229.0 L1256.1,1229.0 L1256.5,1227.4 L1257.0,1229.2 L1257.4,1226.8 L1257.9,1228.5 L1258.3,1228.5 L1258.8,1228.8 L1259.2,1227.6 L1259.7,1228.2 L1260.1,1227.2 L1260.6,1231.4 L1261.0,1229.9 L1261.5,1228.9 L1261.9,1229.9 L1262.4,1229.4 L1262.8,1230.9 L1263.3,1228.3 L1263.7,1230.3 L1264.2,1227.6 L1264.6,1229.3 L1265.1,1230.1 L1265.5,1229.2 L1266.0,1230.4 L1266.4,1229.2 L1266.9,1228.2 L1267.3,1228.3 L1267.8,1230.3 L1268.2,1228.6 L1268.7,1227.9 L1269.1,1226.3 L1269.6,1226.4 L1270.0,1226.8 L1270.5,1228.5 L1270.9,1228.9 L1271.4,1226.7 L1271.8,1229.7 L1272.3,1227.4 L1272.7,1227.1 L1273.2,1227.0 L1273.6,1225.5 L1274.1,1227.1 L1274.5,1225.7 L1275.0,1225.8 L1275.4,1222.8 L1275.9,1222.7 L1276.3,1224.7 L1276.8,1225.0 L1277.2,1222.8 L1277.7,1222.3 L1278.1,1222.1 L1278.6,1221.1 L1279.0,1220.1 L1279.5,1220.1 L1279.9,1222.9 L1280.4,1220.8 L1280.8,1222.3 L1281.3,1219.8 L1281.7,1222.4 L1282.2,1223.4 L1282.6,1222.1 L1283.1,1224.2 L1283.5,1224.3 L1284.0,1227.6 L1284.4,1225.2 L1284.9,1225.7 L1285.3,1225.3 L1285.8,1226.8 L1286.2,1228.1 L1286.7,1226.6 L1287.1,1229.1 L1287.6,1227.2 L1288.0,1228.3 L1288.5,1229.9 L1288.9,1228.0 L1289.4,1229.2 L1289.8,1229.2 L1290.3,1228.9 L1290.7,1230.6 L1291.2,1227.6 L1291.6,1228.9 L1292.1,1230.0 L1292.5,1230.6 L1293.0,1229.3 L1293.4,1228.8 L1293.9,1232.1 L1294.3,1231.2 L1294.8,1231.4 L1295.2,1231.1 L1295.7,1232.4 L1296.1,1231.5 L1296.6,1229.6 L1297.0,1231.0 L1297.5,1232.1 L1297.9,1229.2 L1298.4,1230.6 L1298.8,1231.6 L1299.3,1231.7 L1299.7,1231.0 L1300.2,1231.8 L1300.6,1231.9 L1301.1,1233.6 L1301.5,1230.8 L1302.0,1231.7 L1302.4,1230.5 L1302.9,1233.0 L1303.3,1232.2 L1303.8,1232.4 L1304.2,1232.0 L1304.7,1233.3 L1305.1,1230.8 L1305.6,1231.5 L1306.0,1232.0 L1306.5,1230.3 L1306.9,1229.9 L1307.4,1232.6 L1307.8,1231.9 L1308.3,1232.8 L1308.7,1232.0 L1309.2,1231.9 L1309.6,1232.0 L1310.1,1232.4 L1310.5,1231.8 L1311.0,1231.8 L1311.4,1233.6 L1311.9,1233.2 L1312.3,1231.9 L1312.8,1233.7 L1313.2,1231.4 L1313.7,1233.1 L1314.1,1233.3 L1314.6,1231.8 L1315.0,1234.0 L1315.5,1231.1 L1315.9,1232.3 L1316.4,1231.8 L1316.8,1234.0 L1317.3,1232.9 L1317.7,1231.7 L1318.2,1232.4 L1318.6,1231.7 L1319.1,1233.6 L1319.5,1231.6 L1320.0,1231.5 L1320.4,1232.8 L1320.9,1231.8 L1321.3,1232.7 L1321.8,1232.7 L1322.2,1232.0 L1322.7,1231.0 L1323.1,1230.3 L1323.6,1232.7 L1324.0,1232.1 L1324.5,1232.9 L1324.9,1232.6 L1325.4,1232.6 L1325.8,1232.5 L1326.3,1233.8 L1326.7,1229.3 L1327.2,1230.6 L1327.6,1232.7 L1328.1,1232.1 L1328.5,1231.4 L1329.0,1231.7 L1329.4,1233.2 L1329.9,1232.9 L1330.3,1232.8 L1330.8,1230.9 L1331.2,1233.8 L1331.7,1231.9 L1332.1,1233.1 L1332.6,1232.9 L1333.0,1230.5 L1333.5,1230.9 L1333.9,1230.8 L1334.4,1231.5 L1334.8,1233.4 L1335.3,1233.9 L1335.7,1232.9 L1336.2,1232.3 L1336.6,1231.7 L1337.1,1234.2 L1337.5,1232.8 L1338.0,1232.1 L1338.4,1233.0 L1338.9,1233.5 L1339.3,1232.3 L1339.8,1232.3 L1340.2,1231.2 L1340.7,1233.5 L1341.1,1232.1 L1341.6,1233.4 L1342.0,1232.7 L1342.5,1232.7 L1342.9,1231.8 L1343.4,1233.1 L1343.8,1231.6 L1344.3,1233.1 L1344.7,1234.6 L1345.2,1235.4 L1345.6,1231.9 L1346.1,1233.5 L1346.5,1232.9 L1347.0,1232.3 L1347.4,1233.4 L1347.9,1231.0 L1348.3,1233.1 L1348.8,1231.6 L1349.2,1234.2 L1349.7,1233.2 L1350.1,1235.4 L1350.6,1233.8 L1351.0,1232.6 L1351.5,1231.1 L1351.9,1230.2 L1352.4,1233.1 L1352.8,1232.5 L1353.3,1233.8 L1353.7,1231.7 L1354.2,1232.5 L1354.6,1231.6 L1355.1,1232.7 L1355.5,1232.5 L1356.0,1230.3 L1356.4,1231.7 L1356.9,1232.8 L1357.3,1232.0 L1357.8,1232.9 L1358.2,1230.7 L1358.7,1229.7 L1359.1,1230.6 L1359.6,1230.0 L1360.0,1232.6 L1360.5,1230.7 L1360.9,1231.2 L1361.4,1231.6 L1361.8,1230.0 L1362.3,1227.4 L1362.7,1227.0 L1363.2,1229.9 L1363.6,1229.6 L1364.1,1227.0 L1364.5,1228.1 L1365.0,1227.8 L1365.4,1226.9 L1365.9,1224.8 L1366.3,1226.5 L1366.8,1223.3 L1367.2,1224.0 L1367.7,1221.2 L1368.1,1220.9 L1368.6,1221.5 L1369.0,1218.1 L1369.5,1216.2 L1369.9,1216.6 L1370.4,1215.4 L1370.8,1213.4 L1371.3,1214.2 L1371.7,1213.9 L1372.2,1213.2 L1372.6,1214.7 L1373.1,1212.8 L1373.5,1215.6 L1374.0,1215.1 L1374.4,1214.9 L1374.9,1216.2 L1375.3,1217.2 L1375.8,1217.9 L1376.2,1221.3 L1376.7,1220.1 L1377.1,1222.5 L1377.6,1223.8 L1378.0,1224.2 L1378.5,1226.1 L1378.9,1224.7 L1379.4,1225.8 L1379.8,1228.4 L1380.3,1228.9 L1380.7,1228.1 L1381.2,1227.6 L1381.6,1228.2 L1382.1,1230.1 L1382.5,1231.6 L1383.0,1229.4 L1383.4,1230.2 L1383.9,1229.6 L1384.3,1231.8 L1384.8,1230.9 L1385.2,1231.4 L1385.7,1230.4 L1386.1,1232.6 L1386.6,1232.0 L1387.0,1232.5 L1387.5,1231.2 L1387.9,1230.9 L1388.4,1232.1 L1388.8,1232.1 L1389.3,1233.1 L1389.7,1233.1 L1390.2,1230.6 L1390.6,1230.1 L1391.1,1233.5 L1391.5,1232.1 L1392.0,1232.2 L1392.4,1233.5 L1392.9,1232.8 L1393.3,1232.5 L1393.8,1232.8 L1394.2,1232.0 L1394.7,1232.2 L1395.1,1232.0 L1395.6,1232.8 L1396.0,1232.1 L1396.5,1234.3 L1396.9,1233.0 L1397.4,1232.1 L1397.8,1233.0 L1398.3,1232.4 L1398.7,1233.1 L1399.2,1233.1 L1399.6,1231.2 L1400.1,1233.7 L1400.5,1233.3 L1401.0,1231.8 L1401.4,1234.6 L1401.9,1230.5 L1402.3,1232.7 L1402.8,1231.0 L1403.2,1230.8 L1403.7,1231.3 L1404.1,1231.2 L1404.6,1230.7 L1405.0,1228.2 L1405.5,1230.5 L1405.9,1228.4 L1406.4,1228.6 L1406.8,1228.5 L1407.3,1226.3 L1407.7,1228.2 L1408.2,1226.4 L1408.6,1225.1 L1409.1,1225.2 L1409.5,1224.3 L1410.0,1224.2 L1410.4,1225.8 L1410.9,1226.0 L1411.3,1227.1 L1411.8,1228.4 L1412.2,1227.3 L1412.7,1224.3 L1413.1,1227.9 L1413.6,1228.0 L1414.0,1229.2 L1414.5,1230.2 L1414.9,1230.0 L1415.4,1231.2 L1415.8,1231.3 L1416.3,1232.9 L1416.7,1230.2 L1417.2,1229.8 L1417.6,1230.6 L1418.1,1233.6 L1418.5,1229.1 L1419.0,1231.3 L1419.4,1230.7 L1419.9,1232.2 L1420.3,1233.1 L1420.8,1232.0 L1421.2,1234.3 L1421.7,1235.0 L1422.1,1232.2 L1422.6,1233.3 L1423.0,1231.5 L1423.5,1231.5 L1423.9,1233.5 L1424.4,1233.6 L1424.8,1231.6 L1425.3,1233.4 L1425.7,1234.4 L1426.2,1232.5 L1426.6,1231.6 L1427.1,1233.4 L1427.5,1234.1 L1428.0,1232.9 L1428.4,1233.5 L1428.9,1232.5 L1429.3,1233.6 L1429.8,1233.4 L1430.2,1234.0 L1430.7,1234.5 L1431.1,1233.5 L1431.6,1233.3 L1432.0,1231.8 L1432.5,1231.3 L1432.9,1232.5 L1433.4,1232.9 L1433.8,1232.5 L1434.3,1232.9 L1434.7,1232.5 L1435.2,1232.5 L1435.6,1232.4 L1436.1,1233.0 L1436.5,1233.9 L1437.0,1232.9 L1437.4,1231.5 L1437.9,1232.3 L1438.3,1232.1 L1438.8,1233.0 L1439.2,1233.9 L1439.7,1230.3 L1440.1,1232.4 L1440.6,1232.6 L1441.0,1235.5 L1441.5,1232.5 L1441.9,1233.7 L1442.4,1234.7 L1442.8,1232.8 L1443.3,1233.1 L1443.7,1233.2 L1444.2,1233.4 L1444.6,1232.4 L1445.1,1233.3 L1445.5,1232.6 L1446.0,1232.3 L1446.4,1234.5 L1446.9,1231.5 L1447.3,1233.9 L1447.8,1232.8 L1448.2,1233.1 L1448.7,1232.7 L1449.1,1233.5 L1449.6,1233.8 L1450.0,1232.0 L1450.5,1233.6 L1450.9,1230.9 L1451.4,1232.1 L1451.8,1231.6 L1452.3,1232.6 L1452.7,1233.2 L1453.2,1231.5 L1453.6,1232.3 L1454.1,1231.9 L1454.5,1233.4 L1455.0,1230.3 L1455.4,1230.2 L1455.9,1231.5 L1456.3,1229.7 L1456.8,1231.8 L1457.2,1231.9 L1457.7,1230.9 L1458.1,1230.9 L1458.6,1231.8 L1459.0,1231.8 L1459.5,1231.0 L1459.9,1231.7 L1460.4,1230.3 L1460.8,1231.3 L1461.3,1232.2 L1461.7,1232.0 L1462.2,1229.9 L1462.6,1229.8 L1463.1,1229.6 L1463.5,1230.6 L1464.0,1230.8 L1464.4,1229.0 L1464.9,1228.9 L1465.3,1230.0 L1465.8,1227.3 L1466.2,1230.4 L1466.7,1229.6 L1467.1,1229.0 L1467.6,1230.9 L1468.0,1229.9 L1468.5,1229.1 L1468.9,1231.8 L1469.4,1229.6 L1469.8,1229.9 L1470.3,1230.3 L1470.7,1230.0 L1471.2,1230.8 L1471.6,1230.0 L1472.1,1231.4 L1472.5,1230.9 L1473.0,1231.1 L1473.4,1232.3 L1473.9,1230.5 L1474.3,1231.9 L1474.8,1232.6 L1475.2,1232.7 L1475.7,1231.4 L1476.1,1231.1 L1476.6,1232.7 L1477.0,1230.2 L1477.5,1233.2 L1477.9,1230.5 L1478.4,1231.4 L1478.8,1233.5 L1479.3,1232.8 L1479.7,1232.1 L1480.2,1234.0 L1480.6,1233.0 L1481.1,1232.1 L1481.5,1233.3 L1482.0,1233.3 L1482.4,1232.9 L1482.9,1233.9 L1483.3,1233.5 L1483.8,1231.5 L1484.2,1233.0 L1484.7,1233.2 L1485.1,1233.7 L1485.6,1232.6 L1486.0,1234.5 L1486.5,1232.0 L1486.9,1232.9 L1487.4,1233.0 L1487.8,1233.3 L1488.3,1233.1 L1488.7,1233.4 L1489.2,1233.7 L1489.6,1235.1 L1490.1,1232.9 L1490.5,1234.0 L1491.0,1233.2 L1491.4,1233.2 L1491.9,1232.3 L1492.3,1232.6 L1492.8,1234.5 L1493.2,1233.4 L1493.7,1234.0 L1494.1,1232.7 L1494.6,1234.5 L1495.0,1234.4 L1495.5,1234.3 L1495.9,1234.9 L1496.4,1233.9 L1496.8,1233.2 L1497.3,1234.1 L1497.7,1234.1 L1498.2,1235.4 L1498.6,1233.2 L1499.1,1233.5 L1499.5,1234.4 L1500.0,1232.7 L1500.4,1234.8 L1500.9,1234.6 L1501.3,1232.4 L1501.8,1232.8 L1502.2,1232.9 L1502.7,1231.2 L1503.1,1230.8 L1503.6,1232.7 L1504.0,1232.4 L1504.5,1230.9 L1504.9,1230.3 L1505.4,1229.3 L1505.8,1228.7 L1506.3,1230.8 L1506.7,1230.3 L1507.2,1229.5 L1507.6,1227.8 L1508.1,1227.7 L1508.5,1228.1 L1509.0,1226.2 L1509.4,1226.9 L1509.9,1225.5 L1510.3,1222.8 L1510.8,1224.8 L1511.2,1222.8 L1511.7,1220.6 L1512.1,1221.2 L1512.6,1218.6 L1513.0,1219.3 L1513.5,1216.6 L1513.9,1215.3 L1514.4,1214.9 L1514.8,1210.5 L1515.3,1210.5 L1515.7,1209.1 L1516.2,1206.1 L1516.6,1201.7 L1517.1,1199.8 L1517.5,1197.7 L1518.0,1191.3 L1518.4,1187.5 L1518.9,1184.2 L1519.3,1178.9 L1519.8,1173.7 L1520.2,1170.1 L1520.7,1162.0 L1521.1,1157.4 L1521.6,1149.3 L1522.0,1141.9 L1522.5,1139.0 L1522.9,1134.8 L1523.4,1129.6 L1523.8,1128.7 L1524.3,1125.5 L1524.7,1125.8 L1525.2,1126.7 L1525.6,1128.2 L1526.1,1134.3 L1526.5,1139.3 L1527.0,1144.7 L1527.4,1150.3 L1527.9,1156.2 L1528.3,1161.7 L1528.8,1167.8 L1529.2,1172.6 L1529.7,1176.9 L1530.1,1183.1 L1530.6,1188.1 L1531.0,1190.6 L1531.5,1195.0 L1531.9,1199.5 L1532.4,1201.2 L1532.8,1207.1 L1533.3,1208.0 L1533.7,1211.1 L1534.2,1212.9 L1534.6,1215.0 L1535.1,1215.7 L1535.5,1216.2 L1536.0,1217.0 L1536.4,1218.2 L1536.9,1220.2 L1537.3,1220.4 L1537.8,1223.0 L1538.2,1223.4 L1538.7,1224.7 L1539.1,1225.4 L1539.6,1227.7 L1540.0,1226.9 L1540.5,1227.3 L1540.9,1230.0 L1541.4,1228.5 L1541.8,1230.5 L1542.3,1229.1 L1542.7,1229.8 L1543.2,1230.7 L1543.6,1229.6 L1544.1,1232.8 L1544.5,1233.2 L1545.0,1231.3 L1545.4,1232.9 L1545.9,1232.2 L1546.3,1231.4 L1546.8,1233.5 L1547.2,1231.3 L1547.7,1232.6 L1548.1,1234.0 L1548.6,1233.1 L1549.0,1233.9 L1549.5,1232.2 L1549.9,1233.2 L1550.4,1233.5 L1550.8,1232.4 L1551.3,1233.0 L1551.7,1233.4 L1552.2,1233.8 L1552.6,1234.4 L1553.1,1233.9 L1553.5,1232.7 L1554.0,1234.2 L1554.4,1235.2 L1554.9,1233.9 L1555.3,1233.5 L1555.8,1234.1 L1556.2,1234.9 L1556.7,1233.2 L1557.1,1236.2 L1557.6,1234.3 L1558.0,1236.3 L1558.5,1233.8 L1558.9,1233.6 L1559.4,1234.8 L1559.8,1235.5 L1560.3,1235.1 L1560.7,1235.0 L1561.2,1235.2 L1561.6,1235.1 L1562.1,1235.7 L1562.5,1234.4 L1563.0,1235.0 L1563.4,1233.8 L1563.9,1234.1 L1564.3,1233.6 L1564.8,1234.0 L1565.2,1233.7 L1565.7,1232.7 L1566.1,1235.1 L1566.6,1234.7 L1567.0,1235.0 L1567.5,1236.8 L1567.9,1232.7 L1568.4,1235.0 L1568.8,1234.6 L1569.3,1235.4 L1569.7,1233.8 L1570.2,1233.9 L1570.6,1233.5 L1571.1,1235.3 L1571.5,1236.6 L1572.0,1234.1 L1572.4,1235.0 L1572.9,1235.0 L1573.3,1234.1 L1573.8,1232.8 L1574.2,1235.7 L1574.7,1233.3 L1575.1,1236.0 L1575.6,1233.7 L1576.0,1235.8 L1576.5,1236.0 L1576.9,1234.1 L1577.4,1233.4 L1577.8,1234.5 L1578.3,1234.8 L1578.7,1233.8 L1579.2,1234.7 L1579.6,1235.9 L1580.1,1235.6 L1580.5,1236.1 L1581.0,1233.4 L1581.4,1233.9 L1581.9,1234.6 L1582.3,1234.6 L1582.8,1235.5 L1583.2,1233.4 L1583.7,1235.9 L1584.1,1235.4 L1584.6,1235.1 L1585.0,1234.2 L1585.5,1233.0 L1585.9,1233.3 L1586.4,1235.6 L1586.8,1234.7 L1587.3,1236.6 L1587.7,1235.0 L1588.2,1233.2 L1588.6,1235.6 L1589.1,1234.4 L1589.5,1234.9 L1590.0,1235.5 L1590.4,1233.5 L1590.9,1233.6 L1591.3,1236.0 L1591.8,1233.2 L1592.2,1233.4 L1592.7,1233.3 L1593.1,1233.3 L1593.6,1234.1 L1594.0,1234.2 L1594.5,1233.8 L1594.9,1234.3 L1595.4,1235.2 L1595.8,1232.7 L1596.3,1234.1 L1596.7,1234.2 L1597.2,1232.7 L1597.6,1235.7 L1598.1,1234.9 L1598.5,1234.7 L1599.0,1235.3 L1599.4,1235.0 L1599.9,1234.5 L1600.3,1234.6 L1600.8,1233.8 L1601.2,1235.3 L1601.7,1235.1 L1602.1,1234.0 L1602.6,1235.5 L1603.0,1236.2 L1603.5,1233.3 L1603.9,1236.1 L1604.4,1235.5 L1604.8,1235.3 L1605.3,1234.3 L1605.7,1236.2 L1606.2,1234.4 L1606.6,1235.2 L1607.1,1234.0 L1607.5,1233.4 L1608.0,1235.5 L1608.4,1236.4 L1608.9,1234.0 L1609.3,1235.1 L1609.8,1234.4 L1610.2,1234.1 L1610.7,1234.8 L1611.1,1236.2 L1611.6,1236.5 L1612.0,1235.5 L1612.5,1235.1 L1612.9,1235.5 L1613.4,1233.8 L1613.8,1234.8 L1614.3,1234.0 L1614.7,1234.8 L1615.2,1233.0 L1615.6,1235.1 L1616.1,1234.5 L1616.5,1235.1 L1617.0,1235.2 L1617.4,1236.5 L1617.9,1234.9 L1618.3,1233.6 L1618.8,1235.9 L1619.2,1235.5 L1619.7,1234.1 L1620.1,1235.7 L1620.6,1235.7 L1621.0,1233.7 L1621.5,1234.1 L1621.9,1233.8 L1622.4,1236.4 L1622.8,1233.0 L1623.3,1233.7 L1623.7,1235.2 L1624.2,1236.1 L1624.6,1236.3 L1625.1,1235.6 L1625.5,1235.9 L1626.0,1236.3 L1626.4,1235.6 L1626.9,1234.9 L1627.3,1235.3 L1627.8,1235.5 L1628.2,1235.4 L1628.7,1234.9 L1629.1,1233.9 L1629.6,1234.8 L1630.0,1235.2 L1630.5,1233.5 L1630.9,1233.9 L1631.4,1235.1 L1631.8,1235.5 L1632.3,1234.8 L1632.7,1234.9 L1633.2,1235.2 L1633.6,1234.8 L1634.1,1234.8 L1634.5,1233.5 L1635.0,1234.9 L1635.4,1236.5 L1635.9,1234.2 L1636.3,1234.3 L1636.8,1235.3 L1637.2,1235.6 L1637.7,1237.0 L1638.1,1234.5 L1638.6,1235.5 L1639.0,1234.1 L1639.5,1234.2 L1639.9,1234.3 L1640.4,1234.8 L1640.8,1235.4 L1641.3,1235.1 L1641.7,1233.9 L1642.2,1234.7 L1642.6,1233.8 L1643.1,1234.5 L1643.5,1234.0 L1644.0,1234.8 L1644.4,1235.3 L1644.9,1236.9 L1645.3,1234.2 L1645.8,1235.4 L1646.2,1235.1 L1646.7,1234.5 L1647.1,1234.3 L1647.6,1234.0 L1648.0,1235.4 L1648.5,1234.8 L1648.9,1235.4 L1649.4,1236.3 L1649.8,1234.0 L1650.3,1236.8 L1650.7,1234.5 L1651.2,1235.6 L1651.6,1235.4 L1652.1,1235.0 L1652.5,1235.8 L1653.0,1236.8 L1653.4,1235.5 L1653.9,1236.2 L1654.3,1236.9 L1654.8,1235.2 L1655.2,1234.4 L1655.7,1234.8 L1656.1,1235.4 L1656.6,1235.9 L1657.0,1233.2 L1657.5,1234.8 L1657.9,1234.3 L1658.4,1236.5 L1658.8,1234.1 L1659.3,1235.7 L1659.7,1235.4 L1660.2,1236.2 L1660.6,1237.0 L1661.1,1235.1 L1661.5,1234.0 L1662.0,1236.3 L1662.4,1234.3 L1662.9,1235.1 L1663.3,1235.7 L1663.8,1233.7 L1664.2,1234.6 L1664.7,1235.4 L1665.1,1234.6 L1665.6,1237.0 L1666.0,1234.1 L1666.5,1236.1 L1666.9,1234.6 L1667.4,1235.1 L1667.8,1234.3 L1668.3,1235.5 L1668.7,1236.2 L1669.2,1235.8 L1669.6,1235.3 L1670.1,1233.3 L1670.5,1235.5 L1671.0,1233.4 L1671.4,1236.2 L1671.9,1234.1 L1672.3,1233.3 L1672.8,1233.5 L1673.2,1235.0 L1673.7,1234.2 L1674.1,1235.0 L1674.6,1233.6 L1675.0,1235.4 L1675.5,1236.2 L1675.9,1234.9 L1676.4,1233.9 L1676.8,1233.6 L1677.3,1234.2 L1677.7,1236.0 L1678.2,1234.5 L1678.6,1233.7 L1679.1,1237.6 L1679.5,1236.5 L1680.0,1236.4 L1680.4,1234.4 L1680.9,1235.9 L1681.3,1234.3 L1681.8,1234.7 L1682.2,1235.7 L1682.7,1234.0 L1683.1,1235.0 L1683.6,1233.7 L1684.0,1235.9 L1684.5,1234.8 L1684.9,1235.5 L1685.4,1235.6 L1685.8,1234.6 L1686.3,1234.8 L1686.7,1234.6 L1687.2,1233.0 L1687.6,1235.5 L1688.1,1236.1 L1688.5,1236.1 L1689.0,1234.9 L1689.4,1235.7 L1689.9,1234.1 L1690.3,1234.7 L1690.8,1233.1 L1691.2,1234.2 L1691.7,1235.2 L1692.1,1233.3 L1692.6,1234.7 L1693.0,1237.0 L1693.5,1235.6 L1693.9,1234.8 L1694.4,1235.7 L1694.8,1235.1 L1695.3,1233.8 L1695.7,1237.0 L1696.2,1235.1 L1696.6,1234.9 L1697.1,1234.9 L1697.5,1233.2 L1698.0,1233.8 L1698.4,1234.5 L1698.9,1233.2 L1699.3,1233.3 L1699.8,1232.7 L1700.2,1232.5 L1700.7,1233.9 L1701.1,1232.1 L1701.6,1233.6 L1702.0,1232.6 L1702.5,1230.3 L1702.9,1230.7 L1703.4,1230.6 L1703.8,1232.2 L1704.3,1230.5 L1704.7,1231.5 L1705.2,1231.9 L1705.6,1230.9 L1706.1,1229.7 L1706.5,1230.5 L1707.0,1231.3 L1707.4,1230.8 L1707.9,1232.0 L1708.3,1231.1 L1708.8,1230.8 L1709.2,1231.8 L1709.7,1232.8 L1710.1,1231.3 L1710.6,1233.2 L1711.0,1232.6 L1711.5,1232.1 L1711.9,1234.1 L1712.4,1235.5 L1712.8,1233.1 L1713.3,1236.7 L1713.7,1234.5 L1714.2,1233.6 L1714.6,1234.9 L1715.1,1233.0 L1715.5,1235.0 L1716.0,1234.8 L1716.4,1232.4 L1716.9,1232.7 L1717.3,1233.5 L1717.8,1234.2 L1718.2,1234.9 L1718.7,1234.2 L1719.1,1233.5 L1719.6,1235.0 L1720.0,1235.1 L1720.5,1234.8 L1720.9,1234.4 L1721.4,1233.7 L1721.8,1234.5 L1722.3,1236.2 L1722.7,1235.4 L1723.2,1236.0 L1723.6,1233.6 L1724.1,1235.2 L1724.5,1233.8 L1725.0,1235.5 L1725.4,1235.5 L1725.9,1235.7 L1726.3,1236.6 L1726.8,1235.3 L1727.2,1236.9 L1727.7,1235.9 L1728.1,1235.0 L1728.6,1235.0 L1729.0,1235.9 L1729.5,1234.7 L1729.9,1236.2 L1730.4,1235.8 L1730.8,1235.1 L1731.3,1233.3 L1731.7,1235.7 L1732.2,1236.4 L1732.6,1234.9 L1733.1,1236.1 L1733.5,1234.5 L1734.0,1236.6 L1734.4,1237.1 L1734.9,1235.8 L1735.3,1235.9 L1735.8,1234.1 L1736.2,1236.8 L1736.7,1234.8 L1737.1,1236.1 L1737.6,1237.6 L1738.0,1236.0 L1738.5,1235.8 L1738.9,1235.8 L1739.4,1234.6 L1739.8,1234.6 L1740.3,1236.4 L1740.7,1234.7 L1741.2,1235.2 L1741.6,1234.3 L1742.1,1235.8 L1742.5,1234.6 L1743.0,1235.4 L1743.4,1235.4 L1743.9,1235.5 L1744.3,1234.8 L1744.8,1235.1 L1745.2,1236.4 L1745.7,1236.1 L1746.1,1235.7 L1746.6,1235.6 L1747.0,1233.6 L1747.5,1234.9 L1747.9,1235.5 L1748.4,1235.5 L1748.8,1235.7 L1749.3,1233.9 L1749.7,1235.5 L1750.2,1234.7 L1750.6,1235.6 L1751.1,1236.9 L1751.5,1235.8 L1752.0,1235.2 L1752.4,1234.4 L1752.9,1236.3 L1753.3,1233.7 L1753.8,1235.0 L1754.2,1233.5 L1754.7,1235.5 L1755.1,1234.8 L1755.6,1234.9 L1756.0,1234.4 L1756.5,1237.1 L1756.9,1236.0 L1757.4,1236.0 L1757.8,1234.7 L1758.3,1236.2 L1758.7,1235.6 L1759.2,1235.4 L1759.6,1234.3 L1760.1,1235.7 L1760.5,1233.0 L1761.0,1234.8 L1761.4,1233.6 L1761.9,1236.1 L1762.3,1236.2 L1762.8,1236.3 L1763.2,1234.1 L1763.7,1236.4 L1764.1,1237.4 L1764.6,1235.2 L1765.0,1235.0 L1765.5,1235.2 L1765.9,1235.2 L1766.4,1236.5 L1766.8,1235.1 L1767.3,1235.9 L1767.7,1235.4 L1768.2,1234.5 L1768.6,1235.4 L1769.1,1235.4 L1769.5,1235.6 L1770.0,1235.9 L1770.4,1235.3 L1770.9,1235.9 L1771.3,1233.7 L1771.8,1234.7 L1772.2,1236.4 L1772.7,1235.7 L1773.1,1235.3 L1773.6,1235.0 L1774.0,1235.1 L1774.5,1235.4 L1774.9,1233.6 L1775.4,1234.7 L1775.8,1234.8 L1776.3,1233.1 L1776.7,1233.6 L1777.2,1235.2 L1777.6,1235.1 L1778.1,1237.2 L1778.5,1237.4 L1779.0,1232.6 L1779.4,1234.7 L1779.9,1236.5 L1780.3,1235.8 L1780.8,1236.8 L1781.2,1236.5 L1781.7,1235.1 L1782.1,1236.3 L1782.6,1235.3 L1783.0,1234.3 L1783.5,1235.6 L1783.9,1236.6 L1784.4,1236.0 L1784.8,1234.7 L1785.3,1236.4 L1785.7,1236.3 L1786.2,1236.3 L1786.6,1233.2 L1787.1,1234.1 L1787.5,1234.4 L1788.0,1234.3 L1788.4,1232.9 L1788.9,1234.0 L1789.3,1235.4 L1789.8,1233.3 L1790.2,1236.2 L1790.7,1233.2 L1791.1,1234.4 L1791.6,1233.8 L1792.0,1232.8 L1792.5,1234.0 L1792.9,1233.7 L1793.4,1233.3 L1793.8,1234.3 L1794.3,1233.7 L1794.7,1231.4 L1795.2,1233.9 L1795.6,1231.6 L1796.1,1230.4 L1796.5,1232.6 L1797.0,1232.6 L1797.4,1230.4 L1797.9,1230.8 L1798.3,1229.6 L1798.8,1230.3 L1799.2,1228.5 L1799.7,1228.5 L1800.1,1226.4 L1800.6,1227.3 L1801.0,1226.0 L1801.5,1227.5 L1801.9,1225.5 L1802.4,1222.8 L1802.8,1221.0 L1803.3,1221.5 L1803.7,1218.4 L1804.2,1217.9 L1804.6,1216.1 L1805.1,1214.4 L1805.5,1212.4 L1806.0,1210.1 L1806.4,1206.8 L1806.9,1204.7 L1807.3,1203.0 L1807.8,1202.8 L1808.2,1199.9 L1808.7,1199.8 L1809.1,1200.7 L1809.6,1199.3 L1810.0,1201.2 L1810.5,1203.2 L1810.9,1204.8 L1811.4,1207.0 L1811.8,1210.1 L1812.3,1211.0 L1812.7,1214.4 L1813.2,1215.5 L1813.6,1216.0 L1814.1,1216.5 L1814.5,1219.6 L1815.0,1222.4 L1815.4,1223.0 L1815.9,1223.7 L1816.3,1225.2 L1816.8,1226.6 L1817.2,1227.0 L1817.7,1227.1 L1818.1,1229.8 L1818.6,1229.0 L1819.0,1229.9 L1819.5,1229.4 L1819.9,1230.6 L1820.4,1231.9 L1820.8,1230.6 L1821.3,1231.7 L1821.7,1232.0 L1822.2,1231.6 L1822.6,1234.3 L1823.1,1231.8 L1823.5,1233.4 L1824.0,1232.3 L1824.4,1232.9 L1824.9,1232.9 L1825.3,1233.0 L1825.8,1233.8 L1826.2,1231.9 L1826.7,1233.4 L1827.1,1234.5 L1827.6,1235.9 L1828.0,1234.4 L1828.5,1233.5 L1828.9,1235.1 L1829.4,1234.7 L1829.8,1233.4 L1830.3,1233.9 L1830.7,1233.6 L1831.2,1235.9 L1831.6,1233.8 L1832.1,1233.8 L1832.5,1235.0 L1833.0,1235.9 L1833.4,1234.6 L1833.9,1236.0 L1834.3,1234.3 L1834.8,1236.3 L1835.2,1235.7 L1835.7,1235.6 L1836.1,1233.5 L1836.6,1236.3 L1837.0,1235.3 L1837.5,1235.4 L1837.9,1234.3 L1838.4,1236.9 L1838.8,1235.4 L1839.3,1236.3 L1839.7,1235.8 L1840.2,1235.7 L1840.6,1236.6 L1841.1,1236.4 L1841.5,1237.1 L1842.0,1235.4 L1842.4,1236.5 L1842.9,1234.8 L1843.3,1235.8 L1843.8,1234.1 L1844.2,1235.7 L1844.7,1235.5 L1845.1,1235.0 L1845.6,1234.9 L1846.0,1235.4 L1846.5,1236.6 L1846.9,1235.4 L1847.4,1235.4 L1847.8,1235.7 L1848.3,1236.7 L1848.7,1236.5 L1849.2,1236.1 L1849.6,1234.0 L1850.1,1236.1 L1850.5,1234.9 L1851.0,1235.9 L1851.4,1234.7 L1851.9,1235.9 L1852.3,1235.0 L1852.8,1234.9 L1853.2,1235.6 L1853.7,1234.2 L1854.1,1236.7 L1854.6,1235.7 L1855.0,1235.7 L1855.5,1235.1 L1855.9,1236.6 L1856.4,1235.1 L1856.8,1237.1 L1857.3,1235.3 L1857.7,1235.9 L1858.2,1234.8 L1858.6,1235.3 L1859.1,1235.9 L1859.5,1234.7 L1860.0,1234.5 L1860.4,1235.6 L1860.9,1235.1 L1861.3,1235.8 L1861.8,1234.4 L1862.2,1235.1 L1862.7,1236.4 L1863.1,1236.0 L1863.6,1235.0 L1864.0,1235.8 L1864.5,1236.3 L1864.9,1236.8 L1865.4,1235.1 L1865.8,1235.9 L1866.3,1234.9 L1866.7,1234.3 L1867.2,1236.6 L1867.6,1236.2 L1868.1,1236.2 L1868.5,1236.5 L1869.0,1235.4 L1869.4,1236.8 L1869.9,1236.5 L1870.3,1235.2 L1870.8,1235.6 L1871.2,1234.6 L1871.7,1234.2 L1872.1,1236.6 L1872.6,1236.6 L1873.0,1235.4 L1873.5,1236.7 L1873.9,1236.1 L1874.4,1234.6 L1874.8,1236.3 L1875.3,1236.0 L1875.7,1236.0 L1876.2,1234.7 L1876.6,1234.1 L1877.1,1235.9 L1877.5,1236.6 L1878.0,1238.8 L1878.4,1234.0 L1878.9,1235.5 L1879.3,1236.7 L1879.8,1236.3 L1880.2,1236.8 L1880.7,1234.7 L1881.1,1234.8 L1881.6,1236.6 L1882.0,1234.2 L1882.5,1235.6 L1882.9,1234.6 L1883.4,1236.3 L1883.8,1236.0 L1884.3,1237.6 L1884.7,1236.0 L1885.2,1237.4 L1885.6,1236.3 L1886.1,1235.6 L1886.5,1234.4 L1887.0,1236.2 L1887.4,1235.1 L1887.9,1237.3 L1888.3,1235.7 L1888.8,1236.4 L1889.2,1236.6 L1889.7,1233.7 L1890.1,1235.3 L1890.6,1236.0 L1891.0,1236.2 L1891.5,1235.7 L1891.9,1237.2 L1892.4,1236.9 L1892.8,1237.0 L1893.3,1237.4 L1893.7,1235.0 L1894.2,1237.1 L1894.6,1235.9 L1895.1,1234.6 L1895.5,1236.4 L1896.0,1237.1 L1896.4,1236.8 L1896.9,1236.5 L1897.3,1235.5 L1897.8,1237.6 L1898.2,1236.4 L1898.7,1235.6 L1899.1,1235.1 L1899.6,1236.1 L1900.0,1234.7 L1900.5,1237.1 L1900.9,1237.0 L1901.4,1235.7 L1901.8,1234.7 L1902.3,1235.6 L1902.7,1237.8 L1903.2,1237.6 L1903.6,1236.6 L1904.1,1237.5 L1904.5,1237.0 L1905.0,1235.7 L1905.4,1235.4 L1905.9,1236.6 L1906.3,1237.0 L1906.8,1234.0 L1907.2,1236.0 L1907.7,1235.1 L1908.1,1234.4 L1908.6,1235.5 L1909.0,1236.2 L1909.5,1236.5 L1909.9,1236.5 L1910.4,1236.9 L1910.8,1235.9 L1911.3,1235.2 L1911.7,1238.3 L1912.2,1238.5 L1912.6,1235.4 L1913.1,1235.5 L1913.5,1235.1 L1914.0,1236.3 L1914.4,1236.3 L1914.9,1235.7 L1915.3,1236.5 L1915.8,1236.4 L1916.2,1236.5 L1916.7,1235.8 L1917.1,1235.3 L1917.6,1235.7 L1918.0,1233.8 L1918.5,1235.5 L1918.9,1234.1 L1919.4,1235.9 L1919.8,1236.0 L1920.3,1235.5 L1920.7,1235.5 L1921.2,1237.7 L1921.6,1237.3 L1922.1,1237.0 L1922.5,1235.9 L1923.0,1236.6 L1923.4,1235.7 L1923.9,1236.7 L1924.3,1234.4 L1924.8,1236.5 L1925.2,1234.4 L1925.7,1235.7 L1926.1,1235.8 L1926.6,1236.8 L1927.0,1235.4 L1927.5,1235.0 L1927.9,1236.1 L1928.4,1236.2 L1928.8,1235.9 L1929.3,1235.2 L1929.7,1236.0 L1930.2,1234.5 L1930.6,1235.6 L1931.1,1235.0 L1931.5,1236.3 L1932.0,1234.7 L1932.4,1236.6 L1932.9,1236.7 L1933.3,1235.2 L1933.8,1233.9 L1934.2,1235.4 L1934.7,1234.4 L1935.1,1234.4 L1935.6,1234.3 L1936.0,1234.0 L1936.5,1233.6 L1936.9,1231.6 L1937.4,1232.8 L1937.8,1231.7 L1938.3,1232.3 L1938.7,1229.2 L1939.2,1230.3 L1939.6,1230.2 L1940.1,1228.9 L1940.5,1230.3 L1941.0,1230.2 L1941.4,1229.9 L1941.9,1228.9 L1942.3,1228.6 L1942.8,1230.4 L1943.2,1229.1 L1943.7,1231.7 L1944.1,1231.3 L1944.6,1230.7 L1945.0,1232.8 L1945.5,1233.2 L1945.9,1230.9 L1946.4,1233.2 L1946.8,1233.2 L1947.3,1233.5 L1947.7,1235.5 L1948.2,1235.1 L1948.6,1236.1 L1949.1,1235.3 L1949.5,1234.7 L1950.0,1234.4 L1950.4,1235.8 L1950.9,1236.0 L1951.3,1235.1 L1951.8,1234.9 L1952.2,1236.0 L1952.7,1235.5 L1953.1,1237.3 L1953.6,1235.1 L1954.0,1236.2 L1954.5,1235.9 L1954.9,1237.8 L1955.4,1235.5 L1955.8,1235.1 L1956.3,1235.7 L1956.7,1235.3 L1957.2,1236.9 L1957.6,1236.6 L1958.1,1236.2 L1958.5,1235.7 L1959.0,1233.5 L1959.4,1234.5 L1959.9,1235.1 L1960.3,1234.6 L1960.8,1236.3 L1961.2,1237.3 L1961.7,1235.3 L1962.1,1234.9 L1962.6,1236.0 L1963.0,1237.4 L1963.5,1235.7 L1963.9,1235.0 L1964.4,1236.0 L1964.8,1234.3 L1965.3,1234.5 L1965.7,1235.8 L1966.2,1234.4 L1966.6,1235.4 L1967.1,1235.3 L1967.5,1234.5 L1968.0,1235.9 L1968.4,1237.1 L1968.9,1235.6 L1969.3,1234.1 L1969.8,1234.0 L1970.2,1234.7 L1970.7,1233.7 L1971.1,1233.3 L1971.6,1232.9 L1972.0,1233.4 L1972.5,1233.2 L1972.9,1232.5 L1973.4,1233.1 L1973.8,1233.3 L1974.3,1234.0 L1974.7,1233.1 L1975.2,1233.3 L1975.6,1233.5 L1976.1,1233.0 L1976.5,1234.4 L1977.0,1232.5 L1977.4,1235.0 L1977.9,1234.1 L1978.3,1234.9 L1978.8,1236.0 L1979.2,1235.9 L1979.7,1236.8 L1980.1,1232.9 L1980.6,1236.4 L1981.0,1235.5 L1981.5,1237.0 L1981.9,1235.3 L1982.4,1236.4 L1982.8,1235.2 L1983.3,1235.5 L1983.7,1234.6 L1984.2,1236.0 L1984.6,1235.4 L1985.1,1235.6 L1985.5,1237.7 L1986.0,1235.5 L1986.4,1237.4 L1986.9,1236.2 L1987.3,1235.9 L1987.8,1236.1 L1988.2,1235.4 L1988.7,1238.2 L1989.1,1235.1 L1989.6,1235.8 L1990.0,1236.4 L1990.5,1237.4 L1990.9,1237.1 L1991.4,1236.9 L1991.8,1236.2 L1992.3,1236.7 L1992.7,1237.6 L1993.2,1237.6 L1993.6,1235.2 L1994.1,1233.8 L1994.5,1236.7 L1995.0,1236.0 L1995.4,1236.2 L1995.9,1235.2 L1996.3,1236.7 L1996.8,1237.1 L1997.2,1238.0 L1997.7,1238.8 L1998.1,1236.8 L1998.6,1236.6 L1999.0,1236.5 L1999.5,1236.6 L1999.9,1234.4 L2000.4,1236.2 L2000.8,1236.3 L2001.3,1238.3 L2001.7,1237.5 L2002.2,1236.1 L2002.6,1236.1 L2003.1,1235.8 L2003.5,1235.3 L2004.0,1237.0 L2004.4,1237.5 L2004.9,1236.5 L2005.3,1235.1 L2005.8,1236.9 L2006.2,1237.8 L2006.7,1236.9 L2007.1,1236.1 L2007.6,1236.8 L2008.0,1238.8 L2008.5,1236.8 L2008.9,1237.1 L2009.4,1235.7 L2009.8,1236.6 L2010.3,1235.4 L2010.7,1236.8 L2011.2,1235.0 L2011.6,1235.2 L2012.1,1238.5 L2012.5,1236.4 L2013.0,1237.6 L2013.4,1236.4 L2013.9,1237.7 L2014.3,1235.7 L2014.8,1235.5 L2015.2,1237.5 L2015.7,1237.0 L2016.1,1234.5 L2016.6,1235.7 L2017.0,1236.5 L2017.5,1237.9 L2017.9,1236.6 L2018.4,1236.6 L2018.8,1235.5 L2019.3,1237.8 L2019.7,1237.4 L2020.2,1234.9 L2020.6,1236.9 L2021.1,1233.9 L2021.5,1236.2 L2022.0,1235.4 L2022.4,1236.4 L2022.9,1235.0 L2023.3,1237.0 L2023.8,1235.5 L2024.2,1236.3 L2024.7,1235.7 L2025.1,1235.5 L2025.6,1237.4 L2026.0,1236.5 L2026.5,1237.6 L2026.9,1236.4 L2027.4,1236.9 L2027.8,1237.8 L2028.3,1236.4 L2028.7,1236.2 L2029.2,1235.9 L2029.6,1236.3 L2030.1,1237.6 L2030.5,1237.0 L2031.0,1236.5 L2031.4,1236.8 L2031.9,1237.4 L2032.3,1237.5 L2032.8,1236.0 L2033.2,1235.9 L2033.7,1238.0 L2034.1,1236.2 L2034.6,1236.7 L2035.0,1235.6 L2035.5,1235.0 L2035.9,1235.3 L2036.4,1237.0 L2036.8,1235.6 L2037.3,1237.0 L2037.7,1236.6 L2038.2,1235.1 L2038.6,1235.6 L2039.1,1236.7 L2039.5,1237.9 L2040.0,1237.2 L2040.4,1234.7 L2040.9,1237.3 L2041.3,1236.6 L2041.8,1236.7 L2042.2,1237.0 L2042.7,1235.1 L2043.1,1236.9 L2043.6,1235.7 L2044.0,1235.0 L2044.5,1236.4 L2044.9,1235.0 L2045.4,1235.1 L2045.8,1235.4 L2046.3,1236.6 L2046.7,1237.0 L2047.2,1235.4 L2047.6,1237.5 L2048.1,1235.7 L2048.5,1236.3 L2049.0,1236.2 L2049.4,1235.8 L2049.9,1234.8 L2050.3,1236.0 L2050.8,1235.3 L2051.2,1234.9 L2051.7,1234.4 L2052.1,1235.4 L2052.6,1234.7 L2053.0,1235.2 L2053.5,1234.6 L2053.9,1233.7 L2054.4,1233.6 L2054.8,1235.5 L2055.3,1234.9 L2055.7,1234.7 L2056.2,1234.9 L2056.6,1233.1 L2057.1,1234.7 L2057.5,1232.2 L2058.0,1232.8 L2058.4,1232.4 L2058.9,1232.1 L2059.3,1230.6 L2059.8,1232.9 L2060.2,1230.1 L2060.7,1232.0 L2061.1,1231.1 L2061.6,1230.3 L2062.0,1229.2 L2062.5,1228.4 L2062.9,1227.4 L2063.4,1228.6 L2063.8,1226.0 L2064.3,1224.8 L2064.7,1225.4 L2065.2,1225.3 L2065.6,1221.1 L2066.1,1220.7 L2066.5,1219.2 L2067.0,1216.7 L2067.4,1214.8 L2067.9,1214.3 L2068.3,1211.8 L2068.8,1210.7 L2069.2,1207.1 L2069.7,1206.0 L2070.1,1205.1 L2070.6,1204.8 L2071.0,1204.5 L2071.5,1203.8 L2071.9,1202.8 L2072.4,1204.7 L2072.8,1208.1 L2073.3,1207.8 L2073.7,1210.6 L2074.2,1211.8 L2074.6,1214.4 L2075.1,1216.5 L2075.5,1215.8 L2076.0,1218.8 L2076.4,1221.8 L2076.9,1221.2 L2077.3,1222.6 L2077.8,1224.6 L2078.2,1226.1 L2078.7,1225.3 L2079.1,1228.3 L2079.6,1228.0 L2080.0,1228.8 L2080.5,1229.6 L2080.9,1229.8 L2081.4,1231.4 L2081.8,1230.8 L2082.3,1231.8 L2082.7,1231.7 L2083.2,1232.4 L2083.6,1232.4 L2084.1,1231.5 L2084.5,1233.5 L2085.0,1232.1 L2085.4,1233.9 L2085.9,1233.7 L2086.3,1232.5 L2086.8,1233.5 L2087.2,1233.3 L2087.7,1234.0 L2088.1,1233.4 L2088.6,1235.4 L2089.0,1234.9 L2089.5,1235.8 L2089.9,1234.5 L2090.4,1234.4 L2090.8,1235.4 L2091.3,1233.9 L2091.7,1234.6 L2092.2,1236.5 L2092.6,1234.7 L2093.1,1235.3 L2093.5,1234.0 L2094.0,1236.0 L2094.4,1234.0 L2094.9,1234.0 L2095.3,1235.2 L2095.8,1234.1 L2096.2,1233.1 L2096.7,1233.6 L2097.1,1234.6 L2097.6,1233.8 L2098.0,1234.5 L2098.5,1234.7 L2098.9,1234.5 L2099.4,1235.1 L2099.8,1233.9 L2100.3,1234.9 L2100.7,1233.4 L2101.2,1234.5 L2101.6,1233.9 L2102.1,1233.8 L2102.5,1235.4 L2103.0,1232.7 L2103.4,1232.7 L2103.9,1232.5 L2104.3,1232.1 L2104.8,1231.3 L2105.2,1231.2 L2105.7,1230.5 L2106.1,1230.1 L2106.6,1229.5 L2107.0,1230.7 L2107.5,1230.1 L2107.9,1229.6 L2108.4,1232.5 L2108.8,1232.4 L2109.3,1231.9 L2109.7,1231.0 L2110.2,1232.4 L2110.6,1232.9 L2111.1,1232.7 L2111.5,1234.6 L2112.0,1234.4 L2112.4,1232.7 L2112.9,1234.1 L2113.3,1232.4 L2113.8,1234.4 L2114.2,1234.8 L2114.7,1235.6 L2115.1,1232.6 L2115.6,1236.4 L2116.0,1234.2 L2116.5,1235.4 L2116.9,1233.8 L2117.4,1234.9 L2117.8,1235.7 L2118.3,1235.4 L2118.7,1236.2 L2119.2,1235.4 L2119.6,1235.4 L2120.1,1235.5 L2120.5,1235.0 L2121.0,1236.3 L2121.4,1235.8 L2121.9,1237.7 L2122.3,1235.9 L2122.8,1237.3 L2123.2,1233.8 L2123.7,1236.4 L2124.1,1236.3 L2124.6,1237.1 L2125.0,1237.8 L2125.5,1236.6 L2125.9,1237.7 L2126.4,1236.0 L2126.8,1235.9 L2127.3,1237.4 L2127.7,1236.8 L2128.2,1237.4 L2128.6,1235.5 L2129.1,1235.9 L2129.5,1236.6 L2130.0,1236.8 L2130.4,1237.9 L2130.9,1239.6 L2131.3,1236.8 L2131.8,1238.0 L2132.2,1236.5 L2132.7,1235.4 L2133.1,1235.4 L2133.6,1236.0 L2134.0,1235.1 L2134.5,1236.8 L2134.9,1237.4 L2135.4,1234.8 L2135.8,1236.3 L2136.3,1235.5 L2136.7,1237.7 L2137.2,1237.7 L2137.6,1236.9 L2138.1,1236.7 L2138.5,1236.3 L2139.0,1236.7 L2139.4,1238.3 L2139.9,1237.6 L2140.3,1237.4 L2140.8,1238.8 L2141.2,1237.4 L2141.7,1237.5 L2142.1,1236.8 L2142.6,1235.8 L2143.0,1237.2 L2143.5,1236.6 L2143.9,1237.5 L2144.4,1235.4 L2144.8,1235.5 L2145.3,1236.7 L2145.7,1236.1 L2146.2,1236.4 L2146.6,1236.9 L2147.1,1235.9 L2147.5,1236.5 L2148.0,1238.2 L2148.4,1236.7 L2148.9,1236.4 L2149.3,1237.0 L2149.8,1236.1 L2150.2,1237.2 L2150.7,1237.7 L2151.1,1236.4 L2151.6,1236.4 L2152.0,1237.2 L2152.5,1235.4 L2152.9,1238.3 L2153.4,1236.5 L2153.8,1235.4 L2154.3,1237.0 L2154.7,1235.8 L2155.2,1235.5 L2155.6,1235.8 L2156.1,1236.7 L2156.5,1237.0 L2157.0,1234.9 L2157.4,1236.4 L2157.9,1235.7 L2158.3,1236.5 L2158.8,1237.4 L2159.2,1237.2 L2159.7,1237.9 L2160.1,1236.0 L2160.6,1236.8 L2161.0,1237.1 L2161.5,1236.2" fill="none" stroke="#4f4f4f" stroke-width="7.4" stroke-linejoin="round" stroke-linecap="butt"/>
<path d="M181.5,818.8 L181.9,819.3 L182.4,822.3 L182.8,816.4 L183.3,817.3 L183.7,823.6 L184.2,817.3 L184.6,820.2 L185.1,818.9 L185.5,815.3 L186.0,819.8 L186.4,817.7 L186.9,817.8 L187.3,823.2 L187.8,811.5 L188.2,819.1 L188.7,817.9 L189.1,818.7 L189.6,816.9 L190.0,815.6 L190.5,817.4 L190.9,818.7 L191.4,819.4 L191.8,816.3 L192.3,819.6 L192.7,817.8 L193.2,816.3 L193.6,820.3 L194.1,819.9 L194.5,821.5 L195.0,819.0 L195.4,815.3 L195.9,822.1 L196.3,819.0 L196.8,816.6 L197.2,815.8 L197.7,821.2 L198.1,819.9 L198.6,821.3 L199.0,818.6 L199.5,816.3 L199.9,817.3 L200.4,820.7 L200.8,817.0 L201.3,819.5 L201.7,818.1 L202.2,817.9 L202.6,827.8 L203.1,813.0 L203.5,819.1 L204.0,814.5 L204.4,823.3 L204.9,816.6 L205.3,817.6 L205.8,819.9 L206.2,821.0 L206.7,819.1 L207.1,823.5 L207.6,820.2 L208.0,823.3 L208.5,819.3 L208.9,817.7 L209.4,819.0 L209.8,817.9 L210.3,815.4 L210.7,817.3 L211.2,815.9 L211.6,820.9 L212.1,823.2 L212.5,815.0 L213.0,818.1 L213.4,815.4 L213.9,821.0 L214.3,822.0 L214.8,816.6 L215.2,820.5 L215.7,813.8 L216.1,820.4 L216.6,821.9 L217.0,819.9 L217.5,821.0 L217.9,822.6 L218.4,826.6 L218.8,820.6 L219.3,820.5 L219.7,822.3 L220.2,817.6 L220.6,821.9 L221.1,816.6 L221.5,819.8 L222.0,817.5 L222.4,816.7 L222.9,820.3 L223.3,817.5 L223.8,816.5 L224.2,819.0 L224.7,816.9 L225.1,820.4 L225.6,821.4 L226.0,821.6 L226.5,826.2 L226.9,821.1 L227.4,820.2 L227.8,821.7 L228.3,819.6 L228.7,817.2 L229.2,822.4 L229.6,818.1 L230.1,817.6 L230.5,818.7 L231.0,819.7 L231.4,817.9 L231.9,812.5 L232.3,818.9 L232.8,819.8 L233.2,820.4 L233.7,824.8 L234.1,817.6 L234.6,826.3 L235.0,822.6 L235.5,820.0 L235.9,827.3 L236.4,821.3 L236.8,824.8 L237.3,818.2 L237.7,824.2 L238.2,823.3 L238.6,819.6 L239.1,824.7 L239.5,816.9 L240.0,827.4 L240.4,816.6 L240.9,821.0 L241.3,819.4 L241.8,809.6 L242.2,819.9 L242.7,818.3 L243.1,816.5 L243.6,817.4 L244.0,814.6 L244.5,822.2 L244.9,816.6 L245.4,819.5 L245.8,825.1 L246.3,826.3 L246.7,816.2 L247.2,821.7 L247.6,824.9 L248.1,824.5 L248.5,817.8 L249.0,819.8 L249.4,821.9 L249.9,823.9 L250.3,823.4 L250.8,816.9 L251.2,822.4 L251.7,823.3 L252.1,824.7 L252.6,822.2 L253.0,818.5 L253.5,822.1 L253.9,821.9 L254.4,817.6 L254.8,817.6 L255.3,822.9 L255.7,824.5 L256.2,820.8 L256.6,821.4 L257.1,819.0 L257.5,819.7 L258.0,821.9 L258.4,822.2 L258.9,819.6 L259.3,813.6 L259.8,820.7 L260.2,816.4 L260.7,814.9 L261.1,818.4 L261.6,824.6 L262.0,815.9 L262.5,820.7 L262.9,821.6 L263.4,825.0 L263.8,819.2 L264.3,821.4 L264.7,818.7 L265.2,819.9 L265.6,823.6 L266.1,824.8 L266.5,815.6 L267.0,815.0 L267.4,819.3 L267.9,824.2 L268.3,818.6 L268.8,824.3 L269.2,821.1 L269.7,820.5 L270.1,824.4 L270.6,822.6 L271.0,823.1 L271.5,815.6 L271.9,821.8 L272.4,821.4 L272.8,830.7 L273.3,820.6 L273.7,820.9 L274.2,823.4 L274.6,823.0 L275.1,821.7 L275.5,823.7 L276.0,814.8 L276.4,820.3 L276.9,819.2 L277.3,821.2 L277.8,816.1 L278.2,823.3 L278.7,820.4 L279.1,823.6 L279.6,822.4 L280.0,823.8 L280.5,825.8 L280.9,819.9 L281.4,817.2 L281.8,821.3 L282.3,819.5 L282.7,821.7 L283.2,820.4 L283.6,815.6 L284.1,818.8 L284.5,818.9 L285.0,821.7 L285.4,822.6 L285.9,824.4 L286.3,821.1 L286.8,825.9 L287.2,825.1 L287.7,819.5 L288.1,819.9 L288.6,817.8 L289.0,820.8 L289.5,819.9 L289.9,822.4 L290.4,826.6 L290.8,828.1 L291.3,823.4 L291.7,818.8 L292.2,822.3 L292.6,822.6 L293.1,818.7 L293.5,820.6 L294.0,823.8 L294.4,819.9 L294.9,818.5 L295.3,821.0 L295.8,822.3 L296.2,825.0 L296.7,818.5 L297.1,822.8 L297.6,821.3 L298.0,823.2 L298.5,823.3 L298.9,819.9 L299.4,814.3 L299.8,818.1 L300.3,821.6 L300.7,821.1 L301.2,822.2 L301.6,821.0 L302.1,821.8 L302.5,820.5 L303.0,825.4 L303.4,817.3 L303.9,819.3 L304.3,818.7 L304.8,821.0 L305.2,823.3 L305.7,826.0 L306.1,823.6 L306.6,823.6 L307.0,825.4 L307.5,824.7 L307.9,824.6 L308.4,819.0 L308.8,819.9 L309.3,823.6 L309.7,822.0 L310.2,820.3 L310.6,824.2 L311.1,819.3 L311.5,821.4 L312.0,820.0 L312.4,817.2 L312.9,825.3 L313.3,815.7 L313.8,817.1 L314.2,819.6 L314.7,824.7 L315.1,824.7 L315.6,819.0 L316.0,822.8 L316.5,819.6 L316.9,816.5 L317.4,819.9 L317.8,819.2 L318.3,818.0 L318.7,822.8 L319.2,824.1 L319.6,818.8 L320.1,826.3 L320.5,822.9 L321.0,820.9 L321.4,826.0 L321.9,823.4 L322.3,823.0 L322.8,822.2 L323.2,819.3 L323.7,822.4 L324.1,821.2 L324.6,819.5 L325.0,818.7 L325.5,822.6 L325.9,823.8 L326.4,816.6 L326.8,825.8 L327.3,823.1 L327.7,823.9 L328.2,820.3 L328.6,822.8 L329.1,822.8 L329.5,816.8 L330.0,823.7 L330.4,827.8 L330.9,819.5 L331.3,816.5 L331.8,819.4 L332.2,824.1 L332.7,823.1 L333.1,819.2 L333.6,819.9 L334.0,816.3 L334.5,821.4 L334.9,814.6 L335.4,820.1 L335.8,816.8 L336.3,820.2 L336.7,822.4 L337.2,819.8 L337.6,820.9 L338.1,821.4 L338.5,820.0 L339.0,818.7 L339.4,815.6 L339.9,821.3 L340.3,824.4 L340.8,826.6 L341.2,815.2 L341.7,817.8 L342.1,822.4 L342.6,826.5 L343.0,818.0 L343.5,821.5 L343.9,821.8 L344.4,819.5 L344.8,820.8 L345.3,820.1 L345.7,816.8 L346.2,826.3 L346.6,821.7 L347.1,819.6 L347.5,824.7 L348.0,820.7 L348.4,824.7 L348.9,819.0 L349.3,823.8 L349.8,821.9 L350.2,817.5 L350.7,821.7 L351.1,822.6 L351.6,819.9 L352.0,816.5 L352.5,816.5 L352.9,820.0 L353.4,821.4 L353.8,813.0 L354.3,822.0 L354.7,821.1 L355.2,824.9 L355.6,820.1 L356.1,820.3 L356.5,822.5 L357.0,817.3 L357.4,821.0 L357.9,815.1 L358.3,817.4 L358.8,819.9 L359.2,819.3 L359.7,816.0 L360.1,820.7 L360.6,819.8 L361.0,822.1 L361.5,818.4 L361.9,819.6 L362.4,821.8 L362.8,816.9 L363.3,821.2 L363.7,817.7 L364.2,825.2 L364.6,817.9 L365.1,821.7 L365.5,813.7 L366.0,818.7 L366.4,820.7 L366.9,820.0 L367.3,819.5 L367.8,818.0 L368.2,821.2 L368.7,820.4 L369.1,820.7 L369.6,818.6 L370.0,816.8 L370.5,823.4 L370.9,824.8 L371.4,823.9 L371.8,821.7 L372.3,821.7 L372.7,820.7 L373.2,821.6 L373.6,821.3 L374.1,817.9 L374.5,816.3 L375.0,820.1 L375.4,815.8 L375.9,823.8 L376.3,818.7 L376.8,821.8 L377.2,820.0 L377.7,818.7 L378.1,820.0 L378.6,819.5 L379.0,821.1 L379.5,820.4 L379.9,822.8 L380.4,818.8 L380.8,820.7 L381.3,817.5 L381.7,824.0 L382.2,820.0 L382.6,821.0 L383.1,818.6 L383.5,817.4 L384.0,813.7 L384.4,828.1 L384.9,824.7 L385.3,818.3 L385.8,819.3 L386.2,814.8 L386.7,821.2 L387.1,820.5 L387.6,821.7 L388.0,817.6 L388.5,820.8 L388.9,818.6 L389.4,814.9 L389.8,823.2 L390.3,818.5 L390.7,822.1 L391.2,821.5 L391.6,821.3 L392.1,820.9 L392.5,818.6 L393.0,814.1 L393.4,820.9 L393.9,827.6 L394.3,819.4 L394.8,822.5 L395.2,820.6 L395.7,819.4 L396.1,821.0 L396.6,825.1 L397.0,823.4 L397.5,820.5 L397.9,820.8 L398.4,813.0 L398.8,814.8 L399.3,812.5 L399.7,818.9 L400.2,823.7 L400.6,823.4 L401.1,817.9 L401.5,820.6 L402.0,819.8 L402.4,823.4 L402.9,814.5 L403.3,814.9 L403.8,819.3 L404.2,817.7 L404.7,815.3 L405.1,819.5 L405.6,826.2 L406.0,820.9 L406.5,817.5 L406.9,822.7 L407.4,816.0 L407.8,819.1 L408.3,818.2 L408.7,820.1 L409.2,819.2 L409.6,820.7 L410.1,816.9 L410.5,819.3 L411.0,821.7 L411.4,816.3 L411.9,822.6 L412.3,820.7 L412.8,815.8 L413.2,821.5 L413.7,819.5 L414.1,815.8 L414.6,820.5 L415.0,815.5 L415.5,817.1 L415.9,817.7 L416.4,821.2 L416.8,824.5 L417.3,818.4 L417.7,819.6 L418.2,818.9 L418.6,819.4 L419.1,821.2 L419.5,817.9 L420.0,820.0 L420.4,819.9 L420.9,815.6 L421.3,818.4 L421.8,821.4 L422.2,810.9 L422.7,815.9 L423.1,820.8 L423.6,819.5 L424.0,817.3 L424.5,818.0 L424.9,814.4 L425.4,817.5 L425.8,816.9 L426.3,817.3 L426.7,814.3 L427.2,815.9 L427.6,810.3 L428.1,817.9 L428.5,820.8 L429.0,813.5 L429.4,816.5 L429.9,810.9 L430.3,818.2 L430.8,814.4 L431.2,816.2 L431.7,814.5 L432.1,813.8 L432.6,818.4 L433.0,817.1 L433.5,818.4 L433.9,817.4 L434.4,812.9 L434.8,820.8 L435.3,809.5 L435.7,816.8 L436.2,816.7 L436.6,819.1 L437.1,811.4 L437.5,816.4 L438.0,811.5 L438.4,820.9 L438.9,807.9 L439.3,815.6 L439.8,816.9 L440.2,813.2 L440.7,812.7 L441.1,823.4 L441.6,812.9 L442.0,812.9 L442.5,814.9 L442.9,814.0 L443.4,809.3 L443.8,810.7 L444.3,811.5 L444.7,812.1 L445.2,814.3 L445.6,812.3 L446.1,812.5 L446.5,814.8 L447.0,812.3 L447.4,814.1 L447.9,815.1 L448.3,813.3 L448.8,813.4 L449.2,817.3 L449.7,816.7 L450.1,823.8 L450.6,817.0 L451.0,815.9 L451.5,817.4 L451.9,815.7 L452.4,816.6 L452.8,812.7 L453.3,810.9 L453.7,807.1 L454.2,815.4 L454.6,808.4 L455.1,816.9 L455.5,810.6 L456.0,809.8 L456.4,810.1 L456.9,810.9 L457.3,814.2 L457.8,812.9 L458.2,811.1 L458.7,819.0 L459.1,806.1 L459.6,812.1 L460.0,812.4 L460.5,812.8 L460.9,816.8 L461.4,812.1 L461.8,806.7 L462.3,815.9 L462.7,809.7 L463.2,809.8 L463.6,813.6 L464.1,810.0 L464.5,811.2 L465.0,813.4 L465.4,808.7 L465.9,814.0 L466.3,808.5 L466.8,810.2 L467.2,807.1 L467.7,813.6 L468.1,814.2 L468.6,811.2 L469.0,810.8 L469.5,807.9 L469.9,816.4 L470.4,809.6 L470.8,810.1 L471.3,812.3 L471.7,808.9 L472.2,807.1 L472.6,816.6 L473.1,810.2 L473.5,808.2 L474.0,811.8 L474.4,808.1 L474.9,807.2 L475.3,804.4 L475.8,811.6 L476.2,815.4 L476.7,805.0 L477.1,810.2 L477.6,804.7 L478.0,813.0 L478.5,809.3 L478.9,812.0 L479.4,808.2 L479.8,807.4 L480.3,809.0 L480.7,812.6 L481.2,810.7 L481.6,807.0 L482.1,814.9 L482.5,811.1 L483.0,810.7 L483.4,809.0 L483.9,809.2 L484.3,810.4 L484.8,806.8 L485.2,819.0 L485.7,809.1 L486.1,806.4 L486.6,811.4 L487.0,806.7 L487.5,805.5 L487.9,802.8 L488.4,805.9 L488.8,808.3 L489.3,804.5 L489.7,809.6 L490.2,814.1 L490.6,811.3 L491.1,809.8 L491.5,806.9 L492.0,812.5 L492.4,808.0 L492.9,812.9 L493.3,802.2 L493.8,805.7 L494.2,806.8 L494.7,806.4 L495.1,807.7 L495.6,808.5 L496.0,799.8 L496.5,810.6 L496.9,807.5 L497.4,810.3 L497.8,807.0 L498.3,806.2 L498.7,797.3 L499.2,805.1 L499.6,799.3 L500.1,806.6 L500.5,800.3 L501.0,804.2 L501.4,804.8 L501.9,802.5 L502.3,800.1 L502.8,810.3 L503.2,798.0 L503.7,800.9 L504.1,800.2 L504.6,806.7 L505.0,804.5 L505.5,800.4 L505.9,798.1 L506.4,799.0 L506.8,802.1 L507.3,803.7 L507.7,797.0 L508.2,797.2 L508.6,803.5 L509.1,801.5 L509.5,797.5 L510.0,795.5 L510.4,797.3 L510.9,794.4 L511.3,796.3 L511.8,796.7 L512.2,797.1 L512.7,795.7 L513.1,797.3 L513.6,795.9 L514.0,793.5 L514.5,791.4 L514.9,792.6 L515.4,798.6 L515.8,794.4 L516.3,796.8 L516.7,789.4 L517.2,794.9 L517.6,799.2 L518.1,789.7 L518.5,797.1 L519.0,791.7 L519.4,792.9 L519.9,790.8 L520.3,791.4 L520.8,791.7 L521.2,787.8 L521.7,793.2 L522.1,790.5 L522.6,789.6 L523.0,797.0 L523.5,793.5 L523.9,789.7 L524.4,792.3 L524.8,790.8 L525.3,787.0 L525.7,794.2 L526.2,787.4 L526.6,790.9 L527.1,785.0 L527.5,792.4 L528.0,789.8 L528.4,791.9 L528.9,790.8 L529.3,791.2 L529.8,790.0 L530.2,787.7 L530.7,784.3 L531.1,796.0 L531.6,789.1 L532.0,794.6 L532.5,792.0 L532.9,788.5 L533.4,788.0 L533.8,792.0 L534.3,792.6 L534.7,791.5 L535.2,791.5 L535.6,792.7 L536.1,790.5 L536.5,788.9 L537.0,795.2 L537.4,791.5 L537.9,795.7 L538.3,793.4 L538.8,790.6 L539.2,790.0 L539.7,791.0 L540.1,793.2 L540.6,793.9 L541.0,796.6 L541.5,793.4 L541.9,793.5 L542.4,792.3 L542.8,796.5 L543.3,792.2 L543.7,793.8 L544.2,796.8 L544.6,798.3 L545.1,798.7 L545.5,798.4 L546.0,797.2 L546.4,795.6 L546.9,798.9 L547.3,794.9 L547.8,791.5 L548.2,797.4 L548.7,794.5 L549.1,796.5 L549.6,792.9 L550.0,790.5 L550.5,793.6 L550.9,791.2 L551.4,787.7 L551.8,784.1 L552.3,784.0 L552.7,788.0 L553.2,788.1 L553.6,784.1 L554.1,778.0 L554.5,780.1 L555.0,782.8 L555.4,786.8 L555.9,785.7 L556.3,793.6 L556.8,796.3 L557.2,793.7 L557.7,795.5 L558.1,800.9 L558.6,803.5 L559.0,803.8 L559.5,799.6 L559.9,798.6 L560.4,804.7 L560.8,808.1 L561.3,808.4 L561.7,804.0 L562.2,808.9 L562.6,809.8 L563.1,806.7 L563.5,805.1 L564.0,815.1 L564.4,810.1 L564.9,811.3 L565.3,815.6 L565.8,811.0 L566.2,807.9 L566.7,810.0 L567.1,815.9 L567.6,813.0 L568.0,811.3 L568.5,817.8 L568.9,812.6 L569.4,812.9 L569.8,814.6 L570.3,807.6 L570.7,811.9 L571.2,813.9 L571.6,812.5 L572.1,815.0 L572.5,809.5 L573.0,809.0 L573.4,811.7 L573.9,811.8 L574.3,808.3 L574.8,813.6 L575.2,816.8 L575.7,811.9 L576.1,809.9 L576.6,818.3 L577.0,818.8 L577.5,812.3 L577.9,815.4 L578.4,811.2 L578.8,813.4 L579.3,810.8 L579.7,814.9 L580.2,819.9 L580.6,815.7 L581.1,816.9 L581.5,809.8 L582.0,815.8 L582.4,814.4 L582.9,817.1 L583.3,811.8 L583.8,814.7 L584.2,809.0 L584.7,812.5 L585.1,818.2 L585.6,815.0 L586.0,811.6 L586.5,818.2 L586.9,816.2 L587.4,814.1 L587.8,815.2 L588.3,813.2 L588.7,815.8 L589.2,819.5 L589.6,808.7 L590.1,815.4 L590.5,806.9 L591.0,814.4 L591.4,812.2 L591.9,816.9 L592.3,816.5 L592.8,819.5 L593.2,817.6 L593.7,819.7 L594.1,811.4 L594.6,810.9 L595.0,809.2 L595.5,813.1 L595.9,812.0 L596.4,818.2 L596.8,817.4 L597.3,815.3 L597.7,814.2 L598.2,816.7 L598.6,811.7 L599.1,817.7 L599.5,814.4 L600.0,820.7 L600.4,815.6 L600.9,815.0 L601.3,812.8 L601.8,816.2 L602.2,817.2 L602.7,818.4 L603.1,813.8 L603.6,816.0 L604.0,813.7 L604.5,816.0 L604.9,815.4 L605.4,813.1 L605.8,812.7 L606.3,817.9 L606.7,816.2 L607.2,813.1 L607.6,813.7 L608.1,816.8 L608.5,814.0 L609.0,817.3 L609.4,816.1 L609.9,813.4 L610.3,808.1 L610.8,818.8 L611.2,818.1 L611.7,809.4 L612.1,815.3 L612.6,811.7 L613.0,815.3 L613.5,820.3 L613.9,822.6 L614.4,817.1 L614.8,817.9 L615.3,814.2 L615.7,817.3 L616.2,816.4 L616.6,816.4 L617.1,812.6 L617.5,811.1 L618.0,815.6 L618.4,815.4 L618.9,812.3 L619.3,812.0 L619.8,806.9 L620.2,809.2 L620.7,813.8 L621.1,815.0 L621.6,810.1 L622.0,813.1 L622.5,812.5 L622.9,812.6 L623.4,817.4 L623.8,817.4 L624.3,808.9 L624.7,817.7 L625.2,815.8 L625.6,813.4 L626.1,816.7 L626.5,815.1 L627.0,818.2 L627.4,815.0 L627.9,811.8 L628.3,810.4 L628.8,815.8 L629.2,806.4 L629.7,814.1 L630.1,821.0 L630.6,815.7 L631.0,814.7 L631.5,811.4 L631.9,808.3 L632.4,812.8 L632.8,817.5 L633.3,803.9 L633.7,809.9 L634.2,811.9 L634.6,812.7 L635.1,809.1 L635.5,815.8 L636.0,809.4 L636.4,813.1 L636.9,807.8 L637.3,813.1 L637.8,811.3 L638.2,807.7 L638.7,812.1 L639.1,815.5 L639.6,815.9 L640.0,815.8 L640.5,810.0 L640.9,816.0 L641.4,812.4 L641.8,813.0 L642.3,814.4 L642.7,807.2 L643.2,814.7 L643.6,808.9 L644.1,814.5 L644.5,810.8 L645.0,812.9 L645.4,809.6 L645.9,809.1 L646.3,813.2 L646.8,810.2 L647.2,815.2 L647.7,809.5 L648.1,814.9 L648.6,806.4 L649.0,812.8 L649.5,808.9 L649.9,811.2 L650.4,806.1 L650.8,808.1 L651.3,807.8 L651.7,802.7 L652.2,804.3 L652.6,800.5 L653.1,795.7 L653.5,798.4 L654.0,791.6 L654.4,783.8 L654.9,788.0 L655.3,785.7 L655.8,789.1 L656.2,792.7 L656.7,797.1 L657.1,796.4 L657.6,799.1 L658.0,806.5 L658.5,803.5 L658.9,805.6 L659.4,800.8 L659.8,807.7 L660.3,806.2 L660.7,807.3 L661.2,810.6 L661.6,809.5 L662.1,809.4 L662.5,813.7 L663.0,811.9 L663.4,810.9 L663.9,809.2 L664.3,809.6 L664.8,812.7 L665.2,806.6 L665.7,806.7 L666.1,807.4 L666.6,805.8 L667.0,806.4 L667.5,809.3 L667.9,811.4 L668.4,808.7 L668.8,809.8 L669.3,810.1 L669.7,813.8 L670.2,807.8 L670.6,808.2 L671.1,808.3 L671.5,807.7 L672.0,801.7 L672.4,808.9 L672.9,811.7 L673.3,803.0 L673.8,806.8 L674.2,811.5 L674.7,808.7 L675.1,808.7 L675.6,802.2 L676.0,805.3 L676.5,803.9 L676.9,802.0 L677.4,799.9 L677.8,800.4 L678.3,800.0 L678.7,801.9 L679.2,803.8 L679.6,802.8 L680.1,801.6 L680.5,802.9 L681.0,805.6 L681.4,799.0 L681.9,804.6 L682.3,800.4 L682.8,807.0 L683.2,802.0 L683.7,802.7 L684.1,803.8 L684.6,805.9 L685.0,797.9 L685.5,801.5 L685.9,798.7 L686.4,806.4 L686.8,798.0 L687.3,802.8 L687.7,799.2 L688.2,804.2 L688.6,798.4 L689.1,797.1 L689.5,802.3 L690.0,797.4 L690.4,797.6 L690.9,805.8 L691.3,805.4 L691.8,797.2 L692.2,797.9 L692.7,805.4 L693.1,799.8 L693.6,797.6 L694.0,797.4 L694.5,797.8 L694.9,797.3 L695.4,796.1 L695.8,796.2 L696.3,798.9 L696.7,797.7 L697.2,796.6 L697.6,799.0 L698.1,799.5 L698.5,796.1 L699.0,791.1 L699.4,797.7 L699.9,801.1 L700.3,790.5 L700.8,796.8 L701.2,793.4 L701.7,800.3 L702.1,789.8 L702.6,792.8 L703.0,794.2 L703.5,793.4 L703.9,795.9 L704.4,798.9 L704.8,792.0 L705.3,791.3 L705.7,799.9 L706.2,795.5 L706.6,789.3 L707.1,785.0 L707.5,793.5 L708.0,791.0 L708.4,795.2 L708.9,791.1 L709.3,794.8 L709.8,795.4 L710.2,787.0 L710.7,788.4 L711.1,790.2 L711.6,790.9 L712.0,790.1 L712.5,794.3 L712.9,792.0 L713.4,793.0 L713.8,786.3 L714.3,781.8 L714.7,787.0 L715.2,786.4 L715.6,788.4 L716.1,787.4 L716.5,786.3 L717.0,789.8 L717.4,787.7 L717.9,786.6 L718.3,788.5 L718.8,784.8 L719.2,793.1 L719.7,788.9 L720.1,781.3 L720.6,779.6 L721.0,785.1 L721.5,783.8 L721.9,783.3 L722.4,782.3 L722.8,782.5 L723.3,791.3 L723.7,786.7 L724.2,784.3 L724.6,780.6 L725.1,779.4 L725.5,778.8 L726.0,780.2 L726.4,776.7 L726.9,779.3 L727.3,780.4 L727.8,775.5 L728.2,772.7 L728.7,781.4 L729.1,774.3 L729.6,775.2 L730.0,777.9 L730.5,774.6 L730.9,772.6 L731.4,771.8 L731.8,768.6 L732.3,770.7 L732.7,772.0 L733.2,773.0 L733.6,766.4 L734.1,769.6 L734.5,771.2 L735.0,767.8 L735.4,768.7 L735.9,762.8 L736.3,762.7 L736.8,768.0 L737.2,766.9 L737.7,762.6 L738.1,758.8 L738.6,762.7 L739.0,757.5 L739.5,759.4 L739.9,765.0 L740.4,761.3 L740.8,759.8 L741.3,756.9 L741.7,751.1 L742.2,758.7 L742.6,755.4 L743.1,754.3 L743.5,743.8 L744.0,744.3 L744.4,743.4 L744.9,742.0 L745.3,734.2 L745.8,727.7 L746.2,728.9 L746.7,726.1 L747.1,724.8 L747.6,720.1 L748.0,719.7 L748.5,714.5 L748.9,709.1 L749.4,711.2 L749.8,706.2 L750.3,704.2 L750.7,703.6 L751.2,700.2 L751.6,695.3 L752.1,694.6 L752.5,693.6 L753.0,687.7 L753.4,680.7 L753.9,683.2 L754.3,680.1 L754.8,684.0 L755.2,678.4 L755.7,684.4 L756.1,689.4 L756.6,694.3 L757.0,695.9 L757.5,698.7 L757.9,702.4 L758.4,706.6 L758.8,708.7 L759.3,710.6 L759.7,715.9 L760.2,720.3 L760.6,721.7 L761.1,722.7 L761.5,727.0 L762.0,735.1 L762.4,732.2 L762.9,731.8 L763.3,736.8 L763.8,735.6 L764.2,738.9 L764.7,746.3 L765.1,748.7 L765.6,745.7 L766.0,743.6 L766.5,754.0 L766.9,749.0 L767.4,753.8 L767.8,742.2 L768.3,745.7 L768.7,745.1 L769.2,739.9 L769.6,735.2 L770.1,752.2 L770.5,747.7 L771.0,747.2 L771.4,748.3 L771.9,747.5 L772.3,749.5 L772.8,743.7 L773.2,756.3 L773.7,748.8 L774.1,745.3 L774.6,742.4 L775.0,750.5 L775.5,754.4 L775.9,745.6 L776.4,747.1 L776.8,741.4 L777.3,739.7 L777.7,757.6 L778.2,744.5 L778.6,746.0 L779.1,752.6 L779.5,746.9 L780.0,751.6 L780.4,737.7 L780.9,753.5 L781.3,744.5 L781.8,750.1 L782.2,741.8 L782.7,744.2 L783.1,749.4 L783.6,748.2 L784.0,747.2 L784.5,751.0 L784.9,746.5 L785.4,746.2 L785.8,747.3 L786.3,742.4 L786.7,742.7 L787.2,749.3 L787.6,740.0 L788.1,741.6 L788.5,740.2 L789.0,739.8 L789.4,740.8 L789.9,752.2 L790.3,753.5 L790.8,741.5 L791.2,750.3 L791.7,750.6 L792.1,752.7 L792.6,748.9 L793.0,754.2 L793.5,754.8 L793.9,738.0 L794.4,758.2 L794.8,749.5 L795.3,751.3 L795.7,755.2 L796.2,751.1 L796.6,743.9 L797.1,753.2 L797.5,754.0 L798.0,747.1 L798.4,747.3 L798.9,733.3 L799.3,749.6 L799.8,749.6 L800.2,741.7 L800.7,742.7 L801.1,745.3 L801.6,739.9 L802.0,748.2 L802.5,738.9 L802.9,747.6 L803.4,741.6 L803.8,749.6 L804.3,742.8 L804.7,748.1 L805.2,748.0 L805.6,740.7 L806.1,750.5 L806.5,751.6 L807.0,752.2 L807.4,752.2 L807.9,757.2 L808.3,754.4 L808.8,756.6 L809.2,755.3 L809.7,755.4 L810.1,756.0 L810.6,760.4 L811.0,759.8 L811.5,761.3 L811.9,762.9 L812.4,765.6 L812.8,759.3 L813.3,763.3 L813.7,765.6 L814.2,768.6 L814.6,765.7 L815.1,764.8 L815.5,768.3 L816.0,768.6 L816.4,775.2 L816.9,771.8 L817.3,777.1 L817.8,774.6 L818.2,766.6 L818.7,773.5 L819.1,775.0 L819.6,775.8 L820.0,779.0 L820.5,773.6 L820.9,775.3 L821.4,774.3 L821.8,777.7 L822.3,773.4 L822.7,773.1 L823.2,772.1 L823.6,773.5 L824.1,769.9 L824.5,776.8 L825.0,768.6 L825.4,765.3 L825.9,767.8 L826.3,768.4 L826.8,758.8 L827.2,761.5 L827.7,758.0 L828.1,750.6 L828.6,746.8 L829.0,748.9 L829.5,741.3 L829.9,739.7 L830.4,738.0 L830.8,743.2 L831.3,746.1 L831.7,758.1 L832.2,762.2 L832.6,768.6 L833.1,771.4 L833.5,770.3 L834.0,785.1 L834.4,778.2 L834.9,782.9 L835.3,782.1 L835.8,786.6 L836.2,785.6 L836.7,790.8 L837.1,795.6 L837.6,791.2 L838.0,793.9 L838.5,796.3 L838.9,795.7 L839.4,799.0 L839.8,802.3 L840.3,794.4 L840.7,804.7 L841.2,800.7 L841.6,802.6 L842.1,800.5 L842.5,808.5 L843.0,803.8 L843.4,805.9 L843.9,804.8 L844.3,805.9 L844.8,807.3 L845.2,809.9 L845.7,812.0 L846.1,805.9 L846.6,804.2 L847.0,810.8 L847.5,809.9 L847.9,808.9 L848.4,814.0 L848.8,805.7 L849.3,803.5 L849.7,810.5 L850.2,810.4 L850.6,807.7 L851.1,806.6 L851.5,808.6 L852.0,811.9 L852.4,811.1 L852.9,812.5 L853.3,811.5 L853.8,815.3 L854.2,812.0 L854.7,811.8 L855.1,808.9 L855.6,815.2 L856.0,808.9 L856.5,807.2 L856.9,814.5 L857.4,809.7 L857.8,814.4 L858.3,813.5 L858.7,811.3 L859.2,816.1 L859.6,812.7 L860.1,819.8 L860.5,809.4 L861.0,811.0 L861.4,808.0 L861.9,817.8 L862.3,812.5 L862.8,815.2 L863.2,816.8 L863.7,808.1 L864.1,814.2 L864.6,816.2 L865.0,816.7 L865.5,814.4 L865.9,815.1 L866.4,809.4 L866.8,812.2 L867.3,812.3 L867.7,815.4 L868.2,810.4 L868.6,813.5 L869.1,810.6 L869.5,815.6 L870.0,819.8 L870.4,817.1 L870.9,816.9 L871.3,811.9 L871.8,812.8 L872.2,817.9 L872.7,816.8 L873.1,824.3 L873.6,818.8 L874.0,817.7 L874.5,817.7 L874.9,818.9 L875.4,818.3 L875.8,814.1 L876.3,819.0 L876.7,819.1 L877.2,814.8 L877.6,816.9 L878.1,816.5 L878.5,817.5 L879.0,818.6 L879.4,813.9 L879.9,816.8 L880.3,812.8 L880.8,821.1 L881.2,818.9 L881.7,819.4 L882.1,816.8 L882.6,819.3 L883.0,812.8 L883.5,818.4 L883.9,819.0 L884.4,818.4 L884.8,816.8 L885.3,824.6 L885.7,821.4 L886.2,820.6 L886.6,818.6 L887.1,826.4 L887.5,820.7 L888.0,816.6 L888.4,822.9 L888.9,823.2 L889.3,815.4 L889.8,823.9 L890.2,819.5 L890.7,822.9 L891.1,816.2 L891.6,821.3 L892.0,814.2 L892.5,815.1 L892.9,818.0 L893.4,817.6 L893.8,816.0 L894.3,817.9 L894.7,817.1 L895.2,817.1 L895.6,817.6 L896.1,817.4 L896.5,822.2 L897.0,816.5 L897.4,821.1 L897.9,820.8 L898.3,821.1 L898.8,818.6 L899.2,817.0 L899.7,815.8 L900.1,822.5 L900.6,819.0 L901.0,816.3 L901.5,812.9 L901.9,819.2 L902.4,820.1 L902.8,819.3 L903.3,814.8 L903.7,820.2 L904.2,820.2 L904.6,814.2 L905.1,820.8 L905.5,821.6 L906.0,818.8 L906.4,815.6 L906.9,823.1 L907.3,814.8 L907.8,819.7 L908.2,821.1 L908.7,819.6 L909.1,810.6 L909.6,816.2 L910.0,816.7 L910.5,815.4 L910.9,821.2 L911.4,816.9 L911.8,821.9 L912.3,818.6 L912.7,810.3 L913.2,814.8 L913.6,823.6 L914.1,813.8 L914.5,822.4 L915.0,820.9 L915.4,823.2 L915.9,821.3 L916.3,818.0 L916.8,820.1 L917.2,819.0 L917.7,819.7 L918.1,814.1 L918.6,819.2 L919.0,825.1 L919.5,819.9 L919.9,819.7 L920.4,821.2 L920.8,823.1 L921.3,816.6 L921.7,815.9 L922.2,820.5 L922.6,818.1 L923.1,817.2 L923.5,817.2 L924.0,812.5 L924.4,815.6 L924.9,819.3 L925.3,822.1 L925.8,819.5 L926.2,821.1 L926.7,820.3 L927.1,816.5 L927.6,814.4 L928.0,820.2 L928.5,815.0 L928.9,814.8 L929.4,817.8 L929.8,813.6 L930.3,816.3 L930.7,815.2 L931.2,821.4 L931.6,816.6 L932.1,818.1 L932.5,819.4 L933.0,820.0 L933.4,823.4 L933.9,819.8 L934.3,821.9 L934.8,817.0 L935.2,817.2 L935.7,819.3 L936.1,816.8 L936.6,818.7 L937.0,816.9 L937.5,819.6 L937.9,817.2 L938.4,815.1 L938.8,816.6 L939.3,816.5 L939.7,819.0 L940.2,819.4 L940.6,813.6 L941.1,820.6 L941.5,817.3 L942.0,817.3 L942.4,819.8 L942.9,820.7 L943.3,816.0 L943.8,816.4 L944.2,813.1 L944.7,818.7 L945.1,817.5 L945.6,817.4 L946.0,815.8 L946.5,817.0 L946.9,811.7 L947.4,817.7 L947.8,824.0 L948.3,816.1 L948.7,820.2 L949.2,809.9 L949.6,818.0 L950.1,814.8 L950.5,818.1 L951.0,812.0 L951.4,814.4 L951.9,814.8 L952.3,817.1 L952.8,818.2 L953.2,815.0 L953.7,815.5 L954.1,815.7 L954.6,819.7 L955.0,815.3 L955.5,818.4 L955.9,815.0 L956.4,815.0 L956.8,814.1 L957.3,815.8 L957.7,812.4 L958.2,813.6 L958.6,814.9 L959.1,815.5 L959.5,819.0 L960.0,815.9 L960.4,818.0 L960.9,820.7 L961.3,816.1 L961.8,814.5 L962.2,814.6 L962.7,823.6 L963.1,812.6 L963.6,818.0 L964.0,815.9 L964.5,820.2 L964.9,816.9 L965.4,816.0 L965.8,813.9 L966.3,813.4 L966.7,814.7 L967.2,812.2 L967.6,819.3 L968.1,813.1 L968.5,820.8 L969.0,815.5 L969.4,820.0 L969.9,816.5 L970.3,813.4 L970.8,815.6 L971.2,815.0 L971.7,817.1 L972.1,808.6 L972.6,813.4 L973.0,817.3 L973.5,818.0 L973.9,810.6 L974.4,816.9 L974.8,817.6 L975.3,818.5 L975.7,817.5 L976.2,814.4 L976.6,811.6 L977.1,812.8 L977.5,808.7 L978.0,816.8 L978.4,814.1 L978.9,815.2 L979.3,819.0 L979.8,815.5 L980.2,811.6 L980.7,810.4 L981.1,810.6 L981.6,813.7 L982.0,811.7 L982.5,813.0 L982.9,810.0 L983.4,814.9 L983.8,805.8 L984.3,809.0 L984.7,818.1 L985.2,814.0 L985.6,814.5 L986.1,812.9 L986.5,813.5 L987.0,810.1 L987.4,809.2 L987.9,816.0 L988.3,808.3 L988.8,814.9 L989.2,804.9 L989.7,810.6 L990.1,810.7 L990.6,808.5 L991.0,807.0 L991.5,810.8 L991.9,812.7 L992.4,807.9 L992.8,811.4 L993.3,806.7 L993.7,808.2 L994.2,809.1 L994.6,814.4 L995.1,810.6 L995.5,806.1 L996.0,810.2 L996.4,804.9 L996.9,806.9 L997.3,811.7 L997.8,807.8 L998.2,809.0 L998.7,807.0 L999.1,801.0 L999.6,806.5 L1000.0,810.5 L1000.5,806.1 L1000.9,808.5 L1001.4,807.1 L1001.8,804.8 L1002.3,801.7 L1002.7,810.9 L1003.2,803.9 L1003.6,808.1 L1004.1,801.7 L1004.5,806.4 L1005.0,799.4 L1005.4,805.0 L1005.9,801.3 L1006.3,800.4 L1006.8,803.2 L1007.2,804.2 L1007.7,807.5 L1008.1,802.1 L1008.6,803.1 L1009.0,797.4 L1009.5,800.1 L1009.9,802.9 L1010.4,804.3 L1010.8,804.0 L1011.3,802.9 L1011.7,797.4 L1012.2,801.5 L1012.6,799.6 L1013.1,794.0 L1013.5,793.3 L1014.0,795.7 L1014.4,797.4 L1014.9,797.1 L1015.3,793.4 L1015.8,792.9 L1016.2,791.5 L1016.7,796.3 L1017.1,798.6 L1017.6,802.9 L1018.0,794.8 L1018.5,791.3 L1018.9,793.0 L1019.4,793.1 L1019.8,790.0 L1020.3,790.5 L1020.7,786.4 L1021.2,790.9 L1021.6,785.1 L1022.1,787.8 L1022.5,788.4 L1023.0,781.4 L1023.4,782.3 L1023.9,786.5 L1024.3,787.0 L1024.8,785.0 L1025.2,789.7 L1025.7,792.1 L1026.1,790.5 L1026.6,789.2 L1027.0,796.1 L1027.5,791.8 L1027.9,793.3 L1028.4,798.6 L1028.8,797.4 L1029.3,792.0 L1029.7,797.2 L1030.2,803.7 L1030.6,795.1 L1031.1,799.9 L1031.5,792.0 L1032.0,798.1 L1032.4,801.6 L1032.9,803.6 L1033.3,810.6 L1033.8,806.5 L1034.2,805.7 L1034.7,812.1 L1035.1,806.3 L1035.6,807.7 L1036.0,810.6 L1036.5,809.2 L1036.9,806.6 L1037.4,812.4 L1037.8,809.0 L1038.3,809.8 L1038.7,811.0 L1039.2,807.7 L1039.6,810.4 L1040.1,811.8 L1040.5,816.5 L1041.0,810.7 L1041.4,811.9 L1041.9,816.1 L1042.3,813.3 L1042.8,812.1 L1043.2,814.8 L1043.7,811.6 L1044.1,813.0 L1044.6,813.9 L1045.0,812.6 L1045.5,813.4 L1045.9,819.2 L1046.4,810.6 L1046.8,816.7 L1047.3,817.1 L1047.7,821.6 L1048.2,819.1 L1048.6,819.5 L1049.1,820.6 L1049.5,819.8 L1050.0,814.9 L1050.4,816.1 L1050.9,818.9 L1051.3,820.8 L1051.8,817.5 L1052.2,817.7 L1052.7,820.7 L1053.1,823.8 L1053.6,820.6 L1054.0,823.4 L1054.5,824.5 L1054.9,822.1 L1055.4,820.0 L1055.8,820.3 L1056.3,818.5 L1056.7,826.7 L1057.2,818.8 L1057.6,818.3 L1058.1,819.6 L1058.5,818.8 L1059.0,817.9 L1059.4,824.1 L1059.9,822.9 L1060.3,816.2 L1060.8,818.8 L1061.2,818.6 L1061.7,811.9 L1062.1,818.0 L1062.6,820.1 L1063.0,820.8 L1063.5,819.1 L1063.9,822.1 L1064.4,813.1 L1064.8,817.2 L1065.3,823.3 L1065.7,814.9 L1066.2,817.0 L1066.6,824.4 L1067.1,818.1 L1067.5,817.9 L1068.0,825.3 L1068.4,824.0 L1068.9,824.9 L1069.3,820.3 L1069.8,820.2 L1070.2,814.8 L1070.7,819.8 L1071.1,825.3 L1071.6,822.8 L1072.0,819.0 L1072.5,819.0 L1072.9,825.6 L1073.4,820.9 L1073.8,820.3 L1074.3,823.3 L1074.7,823.0 L1075.2,820.7 L1075.6,816.9 L1076.1,825.0 L1076.5,822.4 L1077.0,817.4 L1077.4,827.7 L1077.9,823.3 L1078.3,816.7 L1078.8,821.9 L1079.2,818.5 L1079.7,819.6 L1080.1,819.3 L1080.6,820.3 L1081.0,819.6 L1081.5,827.5 L1081.9,824.5 L1082.4,815.6 L1082.8,824.3 L1083.3,820.7 L1083.7,819.6 L1084.2,819.5 L1084.6,822.7 L1085.1,817.2 L1085.5,823.5 L1086.0,820.7 L1086.4,824.9 L1086.9,820.6 L1087.3,823.4 L1087.8,811.5 L1088.2,820.6 L1088.7,820.7 L1089.1,817.7 L1089.6,822.2 L1090.0,825.6 L1090.5,816.8 L1090.9,817.2 L1091.4,823.1 L1091.8,820.5 L1092.3,827.0 L1092.7,822.2 L1093.2,824.6 L1093.6,817.3 L1094.1,822.2 L1094.5,820.5 L1095.0,822.3 L1095.4,822.6 L1095.9,817.9 L1096.3,816.6 L1096.8,816.3 L1097.2,824.4 L1097.7,818.6 L1098.1,823.7 L1098.6,819.3 L1099.0,820.7 L1099.5,818.5 L1099.9,820.2 L1100.4,817.6 L1100.8,817.9 L1101.3,825.8 L1101.7,824.0 L1102.2,818.4 L1102.6,820.5 L1103.1,821.3 L1103.5,819.2 L1104.0,821.8 L1104.4,822.7 L1104.9,821.8 L1105.3,815.7 L1105.8,813.9 L1106.2,820.2 L1106.7,820.7 L1107.1,820.5 L1107.6,818.7 L1108.0,817.2 L1108.5,818.8 L1108.9,818.5 L1109.4,822.7 L1109.8,819.9 L1110.3,820.6 L1110.7,819.1 L1111.2,823.0 L1111.6,824.5 L1112.1,820.1 L1112.5,819.9 L1113.0,821.0 L1113.4,820.8 L1113.9,821.9 L1114.3,818.9 L1114.8,819.7 L1115.2,826.7 L1115.7,825.3 L1116.1,829.8 L1116.6,819.0 L1117.0,821.3 L1117.5,819.5 L1117.9,820.1 L1118.4,816.5 L1118.8,816.3 L1119.3,820.7 L1119.7,820.1 L1120.2,819.2 L1120.6,820.0 L1121.1,816.0 L1121.5,816.9 L1122.0,819.9 L1122.4,819.7 L1122.9,818.3 L1123.3,830.4 L1123.8,825.7 L1124.2,820.9 L1124.7,816.8 L1125.1,813.5 L1125.6,815.8 L1126.0,819.6 L1126.5,815.7 L1126.9,821.7 L1127.4,819.4 L1127.8,818.1 L1128.3,817.1 L1128.7,817.7 L1129.2,812.5 L1129.6,814.9 L1130.1,819.8 L1130.5,816.8 L1131.0,816.2 L1131.4,815.4 L1131.9,820.4 L1132.3,819.3 L1132.8,815.8 L1133.2,822.7 L1133.7,818.2 L1134.1,820.1 L1134.6,817.5 L1135.0,817.3 L1135.5,815.6 L1135.9,815.2 L1136.4,816.5 L1136.8,817.6 L1137.3,816.6 L1137.7,819.2 L1138.2,813.8 L1138.6,817.0 L1139.1,812.9 L1139.5,823.4 L1140.0,815.4 L1140.4,816.0 L1140.9,820.4 L1141.3,817.0 L1141.8,815.8 L1142.2,818.0 L1142.7,819.4 L1143.1,818.4 L1143.6,818.5 L1144.0,815.3 L1144.5,818.6 L1144.9,814.2 L1145.4,818.3 L1145.8,818.0 L1146.3,822.1 L1146.7,814.2 L1147.2,822.2 L1147.6,819.4 L1148.1,816.3 L1148.5,816.3 L1149.0,820.4 L1149.4,813.6 L1149.9,816.8 L1150.3,821.6 L1150.8,812.5 L1151.2,814.2 L1151.7,813.5 L1152.1,817.5 L1152.6,810.3 L1153.0,821.1 L1153.5,817.4 L1153.9,820.8 L1154.4,816.9 L1154.8,816.6 L1155.3,813.1 L1155.7,817.3 L1156.2,816.3 L1156.6,817.3 L1157.1,810.6 L1157.5,813.2 L1158.0,815.4 L1158.4,814.5 L1158.9,813.9 L1159.3,814.8 L1159.8,809.9 L1160.2,815.2 L1160.7,812.4 L1161.1,818.9 L1161.6,815.6 L1162.0,818.8 L1162.5,815.7 L1162.9,817.2 L1163.4,815.6 L1163.8,815.8 L1164.3,814.0 L1164.7,816.4 L1165.2,819.2 L1165.6,817.3 L1166.1,814.4 L1166.5,815.6 L1167.0,815.5 L1167.4,811.2 L1167.9,813.4 L1168.3,811.5 L1168.8,820.7 L1169.2,812.0 L1169.7,815.5 L1170.1,811.8 L1170.6,812.1 L1171.0,813.5 L1171.5,813.4 L1171.9,809.4 L1172.4,809.4 L1172.8,814.7 L1173.3,809.0 L1173.7,814.3 L1174.2,808.4 L1174.6,810.0 L1175.1,806.1 L1175.5,809.7 L1176.0,805.0 L1176.4,815.1 L1176.9,817.2 L1177.3,814.0 L1177.8,809.9 L1178.2,814.0 L1178.7,809.7 L1179.1,807.9 L1179.6,812.0 L1180.0,811.3 L1180.5,806.3 L1180.9,812.9 L1181.4,811.6 L1181.8,807.5 L1182.3,810.5 L1182.7,808.6 L1183.2,812.9 L1183.6,814.7 L1184.1,815.1 L1184.5,811.4 L1185.0,808.0 L1185.4,809.2 L1185.9,814.7 L1186.3,809.5 L1186.8,812.2 L1187.2,812.0 L1187.7,811.4 L1188.1,807.4 L1188.6,807.0 L1189.0,806.9 L1189.5,808.9 L1189.9,808.0 L1190.4,810.6 L1190.8,808.3 L1191.3,804.1 L1191.7,807.0 L1192.2,808.8 L1192.6,810.4 L1193.1,806.9 L1193.5,805.9 L1194.0,809.0 L1194.4,807.3 L1194.9,812.1 L1195.3,806.3 L1195.8,809.2 L1196.2,806.2 L1196.7,804.6 L1197.1,808.4 L1197.6,807.0 L1198.0,809.6 L1198.5,808.9 L1198.9,801.9 L1199.4,808.1 L1199.8,806.0 L1200.3,806.3 L1200.7,805.9 L1201.2,803.3 L1201.6,809.9 L1202.1,799.1 L1202.5,806.4 L1203.0,803.9 L1203.4,802.3 L1203.9,801.6 L1204.3,803.5 L1204.8,801.3 L1205.2,804.2 L1205.7,804.8 L1206.1,804.4 L1206.6,799.2 L1207.0,805.9 L1207.5,805.9 L1207.9,803.7 L1208.4,806.0 L1208.8,805.2 L1209.3,801.2 L1209.7,807.2 L1210.2,804.9 L1210.6,806.8 L1211.1,804.8 L1211.5,808.3 L1212.0,805.7 L1212.4,803.8 L1212.9,800.4 L1213.3,803.6 L1213.8,801.8 L1214.2,801.6 L1214.7,806.6 L1215.1,808.5 L1215.6,806.9 L1216.0,807.8 L1216.5,802.3 L1216.9,807.2 L1217.4,801.3 L1217.8,800.8 L1218.3,803.0 L1218.7,802.5 L1219.2,804.5 L1219.6,804.4 L1220.1,803.1 L1220.5,804.7 L1221.0,800.8 L1221.4,800.0 L1221.9,804.0 L1222.3,806.9 L1222.8,805.0 L1223.2,801.8 L1223.7,805.0 L1224.1,802.3 L1224.6,802.3 L1225.0,802.4 L1225.5,802.1 L1225.9,806.3 L1226.4,804.4 L1226.8,803.5 L1227.3,797.0 L1227.7,804.9 L1228.2,796.9 L1228.6,801.8 L1229.1,789.5 L1229.5,799.7 L1230.0,801.4 L1230.4,798.5 L1230.9,795.5 L1231.3,793.1 L1231.8,797.4 L1232.2,798.4 L1232.7,797.8 L1233.1,793.9 L1233.6,798.6 L1234.0,796.8 L1234.5,797.3 L1234.9,794.7 L1235.4,796.1 L1235.8,792.3 L1236.3,792.1 L1236.7,788.1 L1237.2,784.0 L1237.6,788.7 L1238.1,787.5 L1238.5,784.7 L1239.0,786.7 L1239.4,787.6 L1239.9,791.4 L1240.3,789.5 L1240.8,791.5 L1241.2,799.2 L1241.7,788.4 L1242.1,792.0 L1242.6,799.0 L1243.0,792.5 L1243.5,798.2 L1243.9,795.9 L1244.4,798.0 L1244.8,799.4 L1245.3,800.6 L1245.7,801.2 L1246.2,797.7 L1246.6,799.0 L1247.1,800.5 L1247.5,803.0 L1248.0,799.6 L1248.4,802.4 L1248.9,801.7 L1249.3,806.6 L1249.8,809.1 L1250.2,798.3 L1250.7,804.4 L1251.1,806.9 L1251.6,804.5 L1252.0,799.7 L1252.5,808.3 L1252.9,809.2 L1253.4,807.2 L1253.8,804.8 L1254.3,806.7 L1254.7,805.4 L1255.2,805.6 L1255.6,808.1 L1256.1,809.7 L1256.5,808.4 L1257.0,805.6 L1257.4,805.1 L1257.9,809.2 L1258.3,804.1 L1258.8,805.8 L1259.2,809.8 L1259.7,806.4 L1260.1,808.5 L1260.6,807.4 L1261.0,809.4 L1261.5,810.9 L1261.9,808.3 L1262.4,808.1 L1262.8,810.9 L1263.3,811.8 L1263.7,810.5 L1264.2,808.1 L1264.6,813.3 L1265.1,807.6 L1265.5,808.9 L1266.0,809.8 L1266.4,813.3 L1266.9,808.2 L1267.3,808.8 L1267.8,812.9 L1268.2,817.3 L1268.7,810.0 L1269.1,809.0 L1269.6,808.3 L1270.0,814.6 L1270.5,810.6 L1270.9,815.5 L1271.4,808.8 L1271.8,809.6 L1272.3,810.9 L1272.7,808.9 L1273.2,809.6 L1273.6,812.9 L1274.1,809.7 L1274.5,808.2 L1275.0,810.4 L1275.4,814.4 L1275.9,812.2 L1276.3,813.9 L1276.8,810.9 L1277.2,811.2 L1277.7,811.0 L1278.1,811.5 L1278.6,811.2 L1279.0,806.3 L1279.5,815.8 L1279.9,817.1 L1280.4,812.9 L1280.8,813.9 L1281.3,809.7 L1281.7,810.6 L1282.2,814.6 L1282.6,808.3 L1283.1,815.6 L1283.5,815.1 L1284.0,807.1 L1284.4,812.7 L1284.9,815.3 L1285.3,811.4 L1285.8,813.6 L1286.2,808.2 L1286.7,814.6 L1287.1,813.8 L1287.6,815.9 L1288.0,809.3 L1288.5,812.6 L1288.9,813.8 L1289.4,811.6 L1289.8,812.7 L1290.3,815.8 L1290.7,811.9 L1291.2,808.6 L1291.6,812.1 L1292.1,810.7 L1292.5,810.4 L1293.0,814.8 L1293.4,811.6 L1293.9,809.1 L1294.3,808.1 L1294.8,811.5 L1295.2,814.9 L1295.7,813.0 L1296.1,813.4 L1296.6,808.2 L1297.0,813.9 L1297.5,810.1 L1297.9,814.7 L1298.4,815.4 L1298.8,812.2 L1299.3,808.5 L1299.7,815.0 L1300.2,812.9 L1300.6,812.0 L1301.1,810.2 L1301.5,809.9 L1302.0,812.0 L1302.4,810.8 L1302.9,814.0 L1303.3,806.1 L1303.8,812.4 L1304.2,816.9 L1304.7,814.1 L1305.1,808.7 L1305.6,814.3 L1306.0,811.2 L1306.5,811.0 L1306.9,810.6 L1307.4,808.6 L1307.8,810.9 L1308.3,812.3 L1308.7,810.3 L1309.2,809.2 L1309.6,811.8 L1310.1,808.7 L1310.5,811.1 L1311.0,810.7 L1311.4,814.0 L1311.9,810.7 L1312.3,818.0 L1312.8,810.0 L1313.2,813.4 L1313.7,810.0 L1314.1,810.2 L1314.6,805.4 L1315.0,813.4 L1315.5,810.2 L1315.9,812.2 L1316.4,813.1 L1316.8,814.5 L1317.3,806.1 L1317.7,811.5 L1318.2,811.6 L1318.6,808.9 L1319.1,810.0 L1319.5,810.2 L1320.0,811.2 L1320.4,806.9 L1320.9,807.4 L1321.3,811.6 L1321.8,808.8 L1322.2,806.0 L1322.7,813.8 L1323.1,811.7 L1323.6,811.3 L1324.0,809.7 L1324.5,814.8 L1324.9,808.2 L1325.4,810.1 L1325.8,813.3 L1326.3,810.1 L1326.7,808.9 L1327.2,811.5 L1327.6,810.5 L1328.1,809.0 L1328.5,806.7 L1329.0,809.5 L1329.4,808.2 L1329.9,812.3 L1330.3,809.6 L1330.8,814.5 L1331.2,816.7 L1331.7,815.8 L1332.1,810.2 L1332.6,808.6 L1333.0,806.5 L1333.5,807.1 L1333.9,808.0 L1334.4,801.9 L1334.8,806.9 L1335.3,805.9 L1335.7,805.7 L1336.2,807.3 L1336.6,814.2 L1337.1,806.1 L1337.5,815.0 L1338.0,806.3 L1338.4,805.8 L1338.9,808.8 L1339.3,808.0 L1339.8,811.9 L1340.2,807.8 L1340.7,809.4 L1341.1,807.2 L1341.6,804.7 L1342.0,808.5 L1342.5,812.9 L1342.9,809.9 L1343.4,807.7 L1343.8,806.7 L1344.3,805.6 L1344.7,813.2 L1345.2,807.7 L1345.6,806.7 L1346.1,803.9 L1346.5,805.1 L1347.0,806.3 L1347.4,808.9 L1347.9,808.2 L1348.3,799.3 L1348.8,805.7 L1349.2,810.9 L1349.7,810.5 L1350.1,811.4 L1350.6,809.2 L1351.0,807.4 L1351.5,805.1 L1351.9,807.1 L1352.4,807.7 L1352.8,806.8 L1353.3,807.2 L1353.7,807.3 L1354.2,807.9 L1354.6,807.9 L1355.1,807.4 L1355.5,805.0 L1356.0,804.7 L1356.4,807.2 L1356.9,802.3 L1357.3,804.3 L1357.8,806.5 L1358.2,810.6 L1358.7,804.5 L1359.1,801.0 L1359.6,803.1 L1360.0,808.0 L1360.5,802.3 L1360.9,807.7 L1361.4,798.9 L1361.8,800.4 L1362.3,802.7 L1362.7,804.2 L1363.2,807.5 L1363.6,799.7 L1364.1,803.8 L1364.5,806.0 L1365.0,805.8 L1365.4,803.3 L1365.9,804.4 L1366.3,802.2 L1366.8,805.2 L1367.2,805.2 L1367.7,801.6 L1368.1,805.7 L1368.6,802.5 L1369.0,800.8 L1369.5,805.0 L1369.9,807.1 L1370.4,804.1 L1370.8,805.5 L1371.3,803.0 L1371.7,805.7 L1372.2,801.7 L1372.6,801.1 L1373.1,807.9 L1373.5,804.8 L1374.0,800.6 L1374.4,803.8 L1374.9,802.9 L1375.3,807.6 L1375.8,804.5 L1376.2,803.3 L1376.7,805.6 L1377.1,800.8 L1377.6,806.6 L1378.0,804.1 L1378.5,806.7 L1378.9,811.0 L1379.4,812.0 L1379.8,809.6 L1380.3,809.4 L1380.7,800.7 L1381.2,805.3 L1381.6,810.0 L1382.1,810.4 L1382.5,807.5 L1383.0,806.7 L1383.4,811.7 L1383.9,806.9 L1384.3,808.6 L1384.8,806.8 L1385.2,804.0 L1385.7,809.9 L1386.1,812.4 L1386.6,811.1 L1387.0,807.5 L1387.5,811.8 L1387.9,807.4 L1388.4,802.5 L1388.8,809.6 L1389.3,812.2 L1389.7,805.6 L1390.2,809.0 L1390.6,809.9 L1391.1,810.4 L1391.5,814.0 L1392.0,807.3 L1392.4,808.1 L1392.9,811.3 L1393.3,814.1 L1393.8,811.9 L1394.2,810.4 L1394.7,811.1 L1395.1,816.2 L1395.6,814.2 L1396.0,813.7 L1396.5,812.3 L1396.9,814.3 L1397.4,812.6 L1397.8,811.5 L1398.3,809.8 L1398.7,810.6 L1399.2,812.1 L1399.6,806.2 L1400.1,808.8 L1400.5,807.9 L1401.0,812.5 L1401.4,815.9 L1401.9,814.3 L1402.3,812.8 L1402.8,808.6 L1403.2,817.6 L1403.7,813.3 L1404.1,814.7 L1404.6,812.3 L1405.0,813.4 L1405.5,815.0 L1405.9,810.5 L1406.4,814.1 L1406.8,805.9 L1407.3,814.6 L1407.7,813.6 L1408.2,811.5 L1408.6,814.0 L1409.1,820.0 L1409.5,813.1 L1410.0,812.2 L1410.4,809.8 L1410.9,812.0 L1411.3,810.0 L1411.8,814.8 L1412.2,811.5 L1412.7,813.2 L1413.1,814.0 L1413.6,813.4 L1414.0,813.0 L1414.5,813.6 L1414.9,812.1 L1415.4,814.7 L1415.8,814.0 L1416.3,812.2 L1416.7,810.9 L1417.2,817.5 L1417.6,811.7 L1418.1,816.6 L1418.5,814.7 L1419.0,809.2 L1419.4,811.7 L1419.9,809.8 L1420.3,810.8 L1420.8,812.2 L1421.2,817.2 L1421.7,811.7 L1422.1,816.9 L1422.6,811.0 L1423.0,813.6 L1423.5,814.5 L1423.9,813.7 L1424.4,807.6 L1424.8,811.9 L1425.3,808.9 L1425.7,813.2 L1426.2,813.0 L1426.6,811.0 L1427.1,816.1 L1427.5,815.1 L1428.0,811.1 L1428.4,820.0 L1428.9,812.7 L1429.3,815.8 L1429.8,812.0 L1430.2,808.7 L1430.7,816.5 L1431.1,814.5 L1431.6,807.1 L1432.0,812.6 L1432.5,812.2 L1432.9,814.6 L1433.4,813.4 L1433.8,813.3 L1434.3,816.5 L1434.7,810.5 L1435.2,811.1 L1435.6,810.7 L1436.1,812.1 L1436.5,810.7 L1437.0,810.7 L1437.4,809.3 L1437.9,809.8 L1438.3,813.3 L1438.8,811.2 L1439.2,813.1 L1439.7,815.9 L1440.1,814.1 L1440.6,815.5 L1441.0,806.9 L1441.5,810.0 L1441.9,810.8 L1442.4,812.0 L1442.8,811.6 L1443.3,809.6 L1443.7,813.1 L1444.2,812.5 L1444.6,808.5 L1445.1,813.2 L1445.5,809.2 L1446.0,817.8 L1446.4,812.0 L1446.9,811.8 L1447.3,813.6 L1447.8,807.9 L1448.2,805.4 L1448.7,808.7 L1449.1,814.2 L1449.6,812.6 L1450.0,807.6 L1450.5,808.8 L1450.9,814.2 L1451.4,816.0 L1451.8,807.4 L1452.3,810.0 L1452.7,810.6 L1453.2,805.3 L1453.6,811.8 L1454.1,812.5 L1454.5,811.1 L1455.0,808.5 L1455.4,810.1 L1455.9,811.7 L1456.3,808.6 L1456.8,808.8 L1457.2,809.3 L1457.7,812.9 L1458.1,813.8 L1458.6,811.9 L1459.0,809.8 L1459.5,810.6 L1459.9,810.0 L1460.4,806.1 L1460.8,811.5 L1461.3,806.2 L1461.7,808.8 L1462.2,805.8 L1462.6,807.0 L1463.1,810.9 L1463.5,806.9 L1464.0,804.7 L1464.4,802.7 L1464.9,806.4 L1465.3,807.7 L1465.8,809.6 L1466.2,806.5 L1466.7,809.2 L1467.1,806.8 L1467.6,809.3 L1468.0,808.1 L1468.5,805.8 L1468.9,805.4 L1469.4,806.9 L1469.8,807.7 L1470.3,805.1 L1470.7,808.4 L1471.2,804.8 L1471.6,803.2 L1472.1,808.0 L1472.5,802.6 L1473.0,810.1 L1473.4,804.8 L1473.9,805.0 L1474.3,810.2 L1474.8,802.5 L1475.2,809.1 L1475.7,806.5 L1476.1,806.4 L1476.6,808.4 L1477.0,809.1 L1477.5,805.6 L1477.9,805.7 L1478.4,804.1 L1478.8,801.8 L1479.3,801.2 L1479.7,807.3 L1480.2,804.7 L1480.6,802.2 L1481.1,803.7 L1481.5,805.7 L1482.0,803.9 L1482.4,805.8 L1482.9,806.9 L1483.3,808.4 L1483.8,801.6 L1484.2,803.7 L1484.7,804.9 L1485.1,804.4 L1485.6,805.8 L1486.0,798.8 L1486.5,799.9 L1486.9,805.2 L1487.4,807.1 L1487.8,802.3 L1488.3,799.6 L1488.7,798.6 L1489.2,805.0 L1489.6,807.9 L1490.1,805.2 L1490.5,801.0 L1491.0,803.2 L1491.4,796.9 L1491.9,799.1 L1492.3,800.7 L1492.8,799.5 L1493.2,797.4 L1493.7,804.9 L1494.1,803.0 L1494.6,796.6 L1495.0,806.9 L1495.5,805.2 L1495.9,801.0 L1496.4,801.3 L1496.8,796.1 L1497.3,804.5 L1497.7,800.3 L1498.2,804.0 L1498.6,801.8 L1499.1,800.0 L1499.5,799.0 L1500.0,795.5 L1500.4,800.5 L1500.9,800.2 L1501.3,798.7 L1501.8,793.3 L1502.2,795.9 L1502.7,799.3 L1503.1,799.7 L1503.6,803.3 L1504.0,794.0 L1504.5,794.6 L1504.9,796.9 L1505.4,795.5 L1505.8,792.8 L1506.3,797.8 L1506.7,797.0 L1507.2,792.8 L1507.6,792.4 L1508.1,798.7 L1508.5,793.0 L1509.0,788.9 L1509.4,792.9 L1509.9,785.4 L1510.3,791.0 L1510.8,790.1 L1511.2,790.3 L1511.7,790.0 L1512.1,794.8 L1512.6,788.2 L1513.0,788.7 L1513.5,790.6 L1513.9,790.3 L1514.4,789.8 L1514.8,790.0 L1515.3,788.3 L1515.7,785.9 L1516.2,787.7 L1516.6,792.1 L1517.1,790.3 L1517.5,792.3 L1518.0,787.8 L1518.4,795.2 L1518.9,793.9 L1519.3,788.9 L1519.8,788.0 L1520.2,789.5 L1520.7,796.0 L1521.1,796.3 L1521.6,786.1 L1522.0,796.6 L1522.5,797.3 L1522.9,791.8 L1523.4,796.4 L1523.8,794.3 L1524.3,796.6 L1524.7,797.9 L1525.2,794.9 L1525.6,791.7 L1526.1,801.3 L1526.5,800.2 L1527.0,794.7 L1527.4,804.0 L1527.9,804.5 L1528.3,797.9 L1528.8,803.6 L1529.2,801.6 L1529.7,804.7 L1530.1,809.2 L1530.6,807.1 L1531.0,807.1 L1531.5,805.1 L1531.9,808.2 L1532.4,808.3 L1532.8,810.0 L1533.3,811.0 L1533.7,805.5 L1534.2,808.3 L1534.6,802.7 L1535.1,811.6 L1535.5,804.5 L1536.0,810.2 L1536.4,804.2 L1536.9,809.6 L1537.3,803.2 L1537.8,809.8 L1538.2,810.6 L1538.7,807.6 L1539.1,813.7 L1539.6,812.6 L1540.0,807.4 L1540.5,808.6 L1540.9,815.9 L1541.4,808.2 L1541.8,816.7 L1542.3,814.6 L1542.7,809.6 L1543.2,810.1 L1543.6,814.6 L1544.1,813.9 L1544.5,812.9 L1545.0,817.0 L1545.4,817.2 L1545.9,812.6 L1546.3,813.3 L1546.8,813.7 L1547.2,813.8 L1547.7,814.2 L1548.1,818.7 L1548.6,811.2 L1549.0,821.5 L1549.5,819.2 L1549.9,815.0 L1550.4,818.7 L1550.8,817.7 L1551.3,815.4 L1551.7,821.7 L1552.2,817.2 L1552.6,817.2 L1553.1,819.2 L1553.5,815.4 L1554.0,821.3 L1554.4,821.2 L1554.9,814.4 L1555.3,820.1 L1555.8,822.1 L1556.2,819.0 L1556.7,823.2 L1557.1,823.6 L1557.6,819.6 L1558.0,821.7 L1558.5,821.2 L1558.9,816.5 L1559.4,816.0 L1559.8,823.7 L1560.3,817.3 L1560.7,824.3 L1561.2,819.4 L1561.6,821.4 L1562.1,819.4 L1562.5,817.4 L1563.0,820.8 L1563.4,820.9 L1563.9,817.0 L1564.3,819.9 L1564.8,817.6 L1565.2,820.1 L1565.7,816.8 L1566.1,817.6 L1566.6,825.1 L1567.0,823.9 L1567.5,820.6 L1567.9,822.4 L1568.4,821.8 L1568.8,821.4 L1569.3,825.4 L1569.7,821.7 L1570.2,819.1 L1570.6,816.1 L1571.1,815.6 L1571.5,824.3 L1572.0,821.4 L1572.4,823.7 L1572.9,823.0 L1573.3,819.1 L1573.8,819.0 L1574.2,820.2 L1574.7,815.3 L1575.1,817.1 L1575.6,821.0 L1576.0,819.8 L1576.5,821.5 L1576.9,823.9 L1577.4,828.3 L1577.8,826.3 L1578.3,819.6 L1578.7,818.9 L1579.2,822.9 L1579.6,820.9 L1580.1,822.0 L1580.5,821.8 L1581.0,823.3 L1581.4,816.3 L1581.9,822.4 L1582.3,817.0 L1582.8,824.5 L1583.2,820.6 L1583.7,819.7 L1584.1,823.7 L1584.6,824.2 L1585.0,822.3 L1585.5,825.0 L1585.9,818.9 L1586.4,823.6 L1586.8,824.5 L1587.3,822.6 L1587.7,825.8 L1588.2,825.6 L1588.6,828.2 L1589.1,822.4 L1589.5,820.8 L1590.0,821.8 L1590.4,824.8 L1590.9,824.2 L1591.3,823.2 L1591.8,819.3 L1592.2,821.8 L1592.7,825.9 L1593.1,825.2 L1593.6,820.5 L1594.0,824.1 L1594.5,821.5 L1594.9,823.2 L1595.4,820.3 L1595.8,820.1 L1596.3,819.9 L1596.7,821.4 L1597.2,820.2 L1597.6,825.5 L1598.1,822.1 L1598.5,824.3 L1599.0,822.7 L1599.4,823.0 L1599.9,820.3 L1600.3,821.0 L1600.8,823.2 L1601.2,819.5 L1601.7,824.2 L1602.1,820.9 L1602.6,820.0 L1603.0,822.7 L1603.5,824.8 L1603.9,823.2 L1604.4,829.2 L1604.8,826.3 L1605.3,822.3 L1605.7,820.0 L1606.2,817.8 L1606.6,823.5 L1607.1,825.5 L1607.5,822.4 L1608.0,820.8 L1608.4,822.8 L1608.9,821.4 L1609.3,823.6 L1609.8,825.5 L1610.2,823.0 L1610.7,824.8 L1611.1,825.9 L1611.6,820.2 L1612.0,820.3 L1612.5,823.3 L1612.9,815.3 L1613.4,826.5 L1613.8,822.8 L1614.3,824.0 L1614.7,825.3 L1615.2,817.7 L1615.6,826.0 L1616.1,824.3 L1616.5,815.7 L1617.0,819.4 L1617.4,828.8 L1617.9,824.5 L1618.3,825.6 L1618.8,821.9 L1619.2,825.1 L1619.7,817.2 L1620.1,819.4 L1620.6,826.7 L1621.0,824.5 L1621.5,821.2 L1621.9,824.0 L1622.4,820.5 L1622.8,818.8 L1623.3,825.3 L1623.7,822.0 L1624.2,823.4 L1624.6,824.5 L1625.1,824.1 L1625.5,826.3 L1626.0,821.3 L1626.4,821.5 L1626.9,825.4 L1627.3,827.1 L1627.8,820.9 L1628.2,820.0 L1628.7,822.5 L1629.1,824.9 L1629.6,824.7 L1630.0,820.3 L1630.5,824.1 L1630.9,827.9 L1631.4,816.5 L1631.8,823.4 L1632.3,822.9 L1632.7,821.6 L1633.2,824.9 L1633.6,826.0 L1634.1,820.0 L1634.5,824.0 L1635.0,825.8 L1635.4,823.7 L1635.9,825.4 L1636.3,825.4 L1636.8,826.8 L1637.2,824.9 L1637.7,825.0 L1638.1,826.8 L1638.6,823.3 L1639.0,827.9 L1639.5,819.5 L1639.9,824.3 L1640.4,824.4 L1640.8,824.5 L1641.3,821.6 L1641.7,824.4 L1642.2,820.6 L1642.6,822.1 L1643.1,820.7 L1643.5,825.5 L1644.0,823.5 L1644.4,820.6 L1644.9,819.6 L1645.3,824.0 L1645.8,824.7 L1646.2,829.5 L1646.7,826.2 L1647.1,818.5 L1647.6,826.6 L1648.0,825.5 L1648.5,830.5 L1648.9,827.7 L1649.4,827.6 L1649.8,821.6 L1650.3,819.9 L1650.7,823.7 L1651.2,824.0 L1651.6,825.2 L1652.1,816.1 L1652.5,820.3 L1653.0,817.8 L1653.4,825.3 L1653.9,824.8 L1654.3,826.5 L1654.8,823.8 L1655.2,817.3 L1655.7,823.1 L1656.1,823.6 L1656.6,821.2 L1657.0,824.2 L1657.5,822.9 L1657.9,825.1 L1658.4,820.8 L1658.8,818.8 L1659.3,825.5 L1659.7,830.7 L1660.2,818.3 L1660.6,819.1 L1661.1,822.7 L1661.5,820.8 L1662.0,825.5 L1662.4,822.4 L1662.9,824.7 L1663.3,819.7 L1663.8,820.7 L1664.2,823.6 L1664.7,822.1 L1665.1,818.3 L1665.6,826.7 L1666.0,829.7 L1666.5,821.7 L1666.9,819.0 L1667.4,828.0 L1667.8,822.6 L1668.3,825.4 L1668.7,822.4 L1669.2,825.8 L1669.6,819.7 L1670.1,827.7 L1670.5,819.0 L1671.0,824.1 L1671.4,824.6 L1671.9,819.0 L1672.3,824.7 L1672.8,820.9 L1673.2,823.3 L1673.7,823.6 L1674.1,815.9 L1674.6,824.0 L1675.0,817.9 L1675.5,824.0 L1675.9,825.5 L1676.4,819.7 L1676.8,817.0 L1677.3,823.6 L1677.7,825.5 L1678.2,821.2 L1678.6,822.5 L1679.1,824.1 L1679.5,826.9 L1680.0,820.6 L1680.4,822.0 L1680.9,822.0 L1681.3,819.7 L1681.8,821.6 L1682.2,823.5 L1682.7,823.4 L1683.1,826.5 L1683.6,823.6 L1684.0,819.1 L1684.5,820.5 L1684.9,820.3 L1685.4,812.4 L1685.8,824.2 L1686.3,824.4 L1686.7,822.1 L1687.2,828.1 L1687.6,821.5 L1688.1,820.1 L1688.5,819.9 L1689.0,824.2 L1689.4,826.8 L1689.9,826.5 L1690.3,818.9 L1690.8,824.9 L1691.2,817.1 L1691.7,822.7 L1692.1,816.4 L1692.6,822.7 L1693.0,823.7 L1693.5,827.3 L1693.9,821.7 L1694.4,825.3 L1694.8,822.3 L1695.3,822.3 L1695.7,817.3 L1696.2,816.0 L1696.6,827.0 L1697.1,819.2 L1697.5,821.8 L1698.0,823.0 L1698.4,821.3 L1698.9,823.0 L1699.3,824.0 L1699.8,823.1 L1700.2,825.2 L1700.7,831.9 L1701.1,823.2 L1701.6,825.6 L1702.0,825.1 L1702.5,822.0 L1702.9,825.2 L1703.4,820.8 L1703.8,819.0 L1704.3,824.7 L1704.7,827.6 L1705.2,819.4 L1705.6,824.4 L1706.1,823.1 L1706.5,818.7 L1707.0,818.4 L1707.4,813.1 L1707.9,820.5 L1708.3,824.2 L1708.8,825.1 L1709.2,827.9 L1709.7,822.0 L1710.1,819.3 L1710.6,824.2 L1711.0,824.5 L1711.5,815.2 L1711.9,823.6 L1712.4,821.4 L1712.8,828.3 L1713.3,822.9 L1713.7,824.2 L1714.2,820.3 L1714.6,822.3 L1715.1,817.1 L1715.5,821.7 L1716.0,827.8 L1716.4,823.0 L1716.9,819.8 L1717.3,819.3 L1717.8,824.5 L1718.2,822.7 L1718.7,821.3 L1719.1,820.3 L1719.6,824.5 L1720.0,816.8 L1720.5,820.3 L1720.9,820.6 L1721.4,820.1 L1721.8,824.5 L1722.3,824.3 L1722.7,819.6 L1723.2,823.6 L1723.6,820.8 L1724.1,819.7 L1724.5,820.0 L1725.0,820.3 L1725.4,823.1 L1725.9,821.5 L1726.3,818.3 L1726.8,815.9 L1727.2,822.5 L1727.7,824.9 L1728.1,820.0 L1728.6,823.7 L1729.0,825.2 L1729.5,819.7 L1729.9,823.9 L1730.4,819.3 L1730.8,820.0 L1731.3,818.4 L1731.7,820.2 L1732.2,821.3 L1732.6,828.7 L1733.1,820.2 L1733.5,822.8 L1734.0,821.9 L1734.4,821.0 L1734.9,820.5 L1735.3,820.9 L1735.8,818.8 L1736.2,817.3 L1736.7,819.1 L1737.1,824.7 L1737.6,821.1 L1738.0,819.3 L1738.5,825.2 L1738.9,821.9 L1739.4,822.1 L1739.8,820.4 L1740.3,824.7 L1740.7,820.1 L1741.2,817.5 L1741.6,813.6 L1742.1,816.7 L1742.5,820.6 L1743.0,818.8 L1743.4,817.2 L1743.9,819.9 L1744.3,819.4 L1744.8,816.8 L1745.2,819.3 L1745.7,820.0 L1746.1,817.6 L1746.6,822.0 L1747.0,828.2 L1747.5,820.8 L1747.9,824.5 L1748.4,821.0 L1748.8,818.6 L1749.3,821.4 L1749.7,822.0 L1750.2,823.9 L1750.6,824.3 L1751.1,824.7 L1751.5,820.0 L1752.0,820.1 L1752.4,825.0 L1752.9,816.5 L1753.3,822.7 L1753.8,822.2 L1754.2,821.6 L1754.7,815.9 L1755.1,818.7 L1755.6,816.2 L1756.0,824.3 L1756.5,818.8 L1756.9,819.6 L1757.4,822.0 L1757.8,823.4 L1758.3,818.2 L1758.7,819.5 L1759.2,820.6 L1759.6,823.2 L1760.1,822.7 L1760.5,825.7 L1761.0,819.1 L1761.4,817.5 L1761.9,817.4 L1762.3,821.7 L1762.8,821.1 L1763.2,823.2 L1763.7,818.4 L1764.1,816.3 L1764.6,818.7 L1765.0,819.4 L1765.5,824.1 L1765.9,820.3 L1766.4,822.9 L1766.8,821.7 L1767.3,820.0 L1767.7,819.7 L1768.2,815.8 L1768.6,821.7 L1769.1,824.4 L1769.5,821.1 L1770.0,817.1 L1770.4,818.6 L1770.9,816.5 L1771.3,820.2 L1771.8,817.1 L1772.2,820.3 L1772.7,823.4 L1773.1,819.1 L1773.6,812.7 L1774.0,824.5 L1774.5,820.9 L1774.9,821.1 L1775.4,828.8 L1775.8,817.6 L1776.3,820.9 L1776.7,818.4 L1777.2,823.1 L1777.6,827.0 L1778.1,821.2 L1778.5,823.7 L1779.0,820.9 L1779.4,819.7 L1779.9,825.3 L1780.3,820.2 L1780.8,819.3 L1781.2,823.3 L1781.7,823.4 L1782.1,822.6 L1782.6,816.7 L1783.0,816.0 L1783.5,822.0 L1783.9,825.8 L1784.4,818.2 L1784.8,822.2 L1785.3,820.7 L1785.7,821.4 L1786.2,825.1 L1786.6,819.3 L1787.1,821.9 L1787.5,822.2 L1788.0,820.6 L1788.4,824.1 L1788.9,824.0 L1789.3,821.6 L1789.8,824.1 L1790.2,818.8 L1790.7,820.1 L1791.1,817.9 L1791.6,821.2 L1792.0,820.4 L1792.5,823.7 L1792.9,825.1 L1793.4,824.8 L1793.8,824.5 L1794.3,824.2 L1794.7,826.9 L1795.2,817.0 L1795.6,824.0 L1796.1,822.1 L1796.5,818.1 L1797.0,820.3 L1797.4,818.6 L1797.9,821.7 L1798.3,822.2 L1798.8,821.0 L1799.2,817.2 L1799.7,818.5 L1800.1,820.6 L1800.6,819.3 L1801.0,818.9 L1801.5,817.0 L1801.9,820.8 L1802.4,823.4 L1802.8,819.8 L1803.3,821.6 L1803.7,817.4 L1804.2,819.5 L1804.6,826.1 L1805.1,817.4 L1805.5,828.0 L1806.0,820.0 L1806.4,817.0 L1806.9,821.9 L1807.3,822.5 L1807.8,824.0 L1808.2,825.3 L1808.7,821.8 L1809.1,824.6 L1809.6,824.8 L1810.0,825.5 L1810.5,827.2 L1810.9,823.8 L1811.4,821.0 L1811.8,821.5 L1812.3,823.3 L1812.7,817.7 L1813.2,824.0 L1813.6,821.3 L1814.1,820.2 L1814.5,825.2 L1815.0,825.2 L1815.4,818.7 L1815.9,821.1 L1816.3,820.4 L1816.8,816.6 L1817.2,824.2 L1817.7,821.9 L1818.1,816.6 L1818.6,823.3 L1819.0,825.4 L1819.5,819.7 L1819.9,820.7 L1820.4,822.3 L1820.8,826.3 L1821.3,819.3 L1821.7,823.7 L1822.2,824.8 L1822.6,821.4 L1823.1,821.0 L1823.5,819.2 L1824.0,819.2 L1824.4,820.5 L1824.9,818.3 L1825.3,823.3 L1825.8,829.5 L1826.2,824.7 L1826.7,819.8 L1827.1,821.5 L1827.6,820.8 L1828.0,817.5 L1828.5,828.3 L1828.9,814.8 L1829.4,820.2 L1829.8,820.7 L1830.3,818.8 L1830.7,824.7 L1831.2,819.3 L1831.6,818.5 L1832.1,822.7 L1832.5,822.3 L1833.0,817.1 L1833.4,822.2 L1833.9,823.1 L1834.3,830.4 L1834.8,822.9 L1835.2,830.3 L1835.7,820.1 L1836.1,820.4 L1836.6,824.9 L1837.0,827.8 L1837.5,817.7 L1837.9,823.4 L1838.4,818.4 L1838.8,823.1 L1839.3,818.9 L1839.7,822.9 L1840.2,821.9 L1840.6,819.3 L1841.1,826.9 L1841.5,824.9 L1842.0,820.5 L1842.4,819.2 L1842.9,821.2 L1843.3,820.3 L1843.8,821.7 L1844.2,826.9 L1844.7,818.4 L1845.1,823.9 L1845.6,825.2 L1846.0,820.1 L1846.5,824.0 L1846.9,825.2 L1847.4,830.2 L1847.8,821.9 L1848.3,825.2 L1848.7,823.2 L1849.2,821.1 L1849.6,826.7 L1850.1,828.0 L1850.5,820.4 L1851.0,821.0 L1851.4,817.0 L1851.9,822.9 L1852.3,825.7 L1852.8,821.7 L1853.2,824.2 L1853.7,821.6 L1854.1,819.6 L1854.6,820.4 L1855.0,825.7 L1855.5,826.2 L1855.9,821.7 L1856.4,820.3 L1856.8,816.8 L1857.3,824.8 L1857.7,825.5 L1858.2,820.6 L1858.6,824.4 L1859.1,824.7 L1859.5,825.0 L1860.0,829.3 L1860.4,822.3 L1860.9,825.8 L1861.3,826.4 L1861.8,825.6 L1862.2,823.7 L1862.7,825.4 L1863.1,823.5 L1863.6,827.6 L1864.0,828.2 L1864.5,820.6 L1864.9,824.7 L1865.4,823.1 L1865.8,821.7 L1866.3,820.7 L1866.7,831.5 L1867.2,824.8 L1867.6,821.3 L1868.1,824.6 L1868.5,821.4 L1869.0,825.6 L1869.4,822.4 L1869.9,817.9 L1870.3,824.7 L1870.8,824.6 L1871.2,817.5 L1871.7,825.1 L1872.1,824.7 L1872.6,824.5 L1873.0,823.2 L1873.5,828.9 L1873.9,824.3 L1874.4,817.1 L1874.8,823.4 L1875.3,824.5 L1875.7,823.8 L1876.2,826.0 L1876.6,822.8 L1877.1,821.7 L1877.5,818.7 L1878.0,823.9 L1878.4,826.1 L1878.9,823.1 L1879.3,821.7 L1879.8,822.5 L1880.2,824.2 L1880.7,819.3 L1881.1,823.2 L1881.6,816.9 L1882.0,820.9 L1882.5,826.5 L1882.9,825.6 L1883.4,822.8 L1883.8,824.2 L1884.3,823.7 L1884.7,817.8 L1885.2,820.4 L1885.6,827.1 L1886.1,821.2 L1886.5,823.0 L1887.0,821.0 L1887.4,821.9 L1887.9,823.3 L1888.3,822.1 L1888.8,822.5 L1889.2,830.4 L1889.7,822.0 L1890.1,834.4 L1890.6,828.4 L1891.0,815.6 L1891.5,822.5 L1891.9,829.1 L1892.4,823.7 L1892.8,820.4 L1893.3,823.7 L1893.7,825.0 L1894.2,822.0 L1894.6,818.6 L1895.1,825.3 L1895.5,821.8 L1896.0,826.8 L1896.4,825.4 L1896.9,823.5 L1897.3,819.1 L1897.8,824.4 L1898.2,823.5 L1898.7,830.7 L1899.1,821.3 L1899.6,822.6 L1900.0,820.8 L1900.5,823.0 L1900.9,822.4 L1901.4,827.5 L1901.8,828.9 L1902.3,823.1 L1902.7,824.1 L1903.2,825.7 L1903.6,816.5 L1904.1,826.1 L1904.5,820.5 L1905.0,820.4 L1905.4,824.3 L1905.9,818.1 L1906.3,822.0 L1906.8,822.5 L1907.2,823.2 L1907.7,826.5 L1908.1,819.5 L1908.6,822.3 L1909.0,823.6 L1909.5,822.7 L1909.9,822.7 L1910.4,820.2 L1910.8,814.8 L1911.3,821.4 L1911.7,825.5 L1912.2,820.9 L1912.6,824.8 L1913.1,830.5 L1913.5,826.7 L1914.0,824.0 L1914.4,824.9 L1914.9,821.9 L1915.3,826.9 L1915.8,823.3 L1916.2,822.9 L1916.7,815.5 L1917.1,820.0 L1917.6,819.4 L1918.0,821.6 L1918.5,817.7 L1918.9,826.5 L1919.4,827.3 L1919.8,824.3 L1920.3,827.1 L1920.7,823.1 L1921.2,821.4 L1921.6,818.8 L1922.1,825.1 L1922.5,823.1 L1923.0,824.7 L1923.4,821.8 L1923.9,819.2 L1924.3,819.3 L1924.8,822.7 L1925.2,824.4 L1925.7,824.1 L1926.1,822.6 L1926.6,827.5 L1927.0,823.4 L1927.5,821.0 L1927.9,820.3 L1928.4,820.6 L1928.8,823.0 L1929.3,822.9 L1929.7,824.5 L1930.2,822.3 L1930.6,825.5 L1931.1,825.7 L1931.5,826.2 L1932.0,825.7 L1932.4,821.9 L1932.9,824.7 L1933.3,822.2 L1933.8,826.6 L1934.2,824.8 L1934.7,824.1 L1935.1,823.9 L1935.6,821.2 L1936.0,825.1 L1936.5,832.8 L1936.9,825.4 L1937.4,821.7 L1937.8,826.0 L1938.3,822.8 L1938.7,823.0 L1939.2,822.4 L1939.6,822.0 L1940.1,826.5 L1940.5,819.8 L1941.0,821.5 L1941.4,824.6 L1941.9,825.6 L1942.3,823.3 L1942.8,827.7 L1943.2,829.7 L1943.7,817.5 L1944.1,819.7 L1944.6,823.2 L1945.0,819.1 L1945.5,825.8 L1945.9,823.4 L1946.4,820.7 L1946.8,823.5 L1947.3,825.2 L1947.7,827.3 L1948.2,819.3 L1948.6,827.9 L1949.1,821.9 L1949.5,821.1 L1950.0,825.4 L1950.4,823.8 L1950.9,819.8 L1951.3,822.8 L1951.8,821.2 L1952.2,825.6 L1952.7,830.3 L1953.1,820.7 L1953.6,828.0 L1954.0,822.5 L1954.5,819.8 L1954.9,829.3 L1955.4,824.0 L1955.8,824.4 L1956.3,821.6 L1956.7,827.7 L1957.2,823.1 L1957.6,824.2 L1958.1,825.2 L1958.5,827.5 L1959.0,825.2 L1959.4,823.9 L1959.9,822.6 L1960.3,820.5 L1960.8,826.1 L1961.2,827.7 L1961.7,825.8 L1962.1,826.5 L1962.6,823.9 L1963.0,824.6 L1963.5,820.3 L1963.9,827.4 L1964.4,829.5 L1964.8,819.5 L1965.3,819.9 L1965.7,825.2 L1966.2,826.9 L1966.6,821.1 L1967.1,824.9 L1967.5,824.4 L1968.0,822.1 L1968.4,823.0 L1968.9,823.8 L1969.3,822.1 L1969.8,826.0 L1970.2,825.0 L1970.7,817.9 L1971.1,826.3 L1971.6,820.5 L1972.0,818.7 L1972.5,827.1 L1972.9,823.3 L1973.4,824.1 L1973.8,825.0 L1974.3,819.8 L1974.7,829.1 L1975.2,821.0 L1975.6,832.1 L1976.1,826.2 L1976.5,825.9 L1977.0,823.9 L1977.4,823.1 L1977.9,820.7 L1978.3,823.3 L1978.8,822.6 L1979.2,825.9 L1979.7,822.4 L1980.1,827.0 L1980.6,822.4 L1981.0,823.6 L1981.5,827.4 L1981.9,824.0 L1982.4,827.1 L1982.8,824.5 L1983.3,819.9 L1983.7,820.7 L1984.2,821.3 L1984.6,818.7 L1985.1,825.0 L1985.5,828.1 L1986.0,828.4 L1986.4,821.2 L1986.9,824.3 L1987.3,823.7 L1987.8,819.1 L1988.2,817.6 L1988.7,822.9 L1989.1,824.0 L1989.6,822.3 L1990.0,819.2 L1990.5,828.3 L1990.9,824.6 L1991.4,823.9 L1991.8,820.8 L1992.3,820.4 L1992.7,829.2 L1993.2,829.0 L1993.6,825.0 L1994.1,820.6 L1994.5,817.8 L1995.0,823.5 L1995.4,821.8 L1995.9,824.0 L1996.3,826.3 L1996.8,821.7 L1997.2,824.5 L1997.7,823.9 L1998.1,823.9 L1998.6,818.6 L1999.0,821.4 L1999.5,823.7 L1999.9,822.4 L2000.4,826.1 L2000.8,827.1 L2001.3,823.3 L2001.7,830.5 L2002.2,826.0 L2002.6,825.5 L2003.1,821.3 L2003.5,821.4 L2004.0,824.0 L2004.4,819.9 L2004.9,824.3 L2005.3,820.1 L2005.8,822.1 L2006.2,827.4 L2006.7,823.4 L2007.1,822.8 L2007.6,825.4 L2008.0,818.9 L2008.5,824.5 L2008.9,822.9 L2009.4,822.0 L2009.8,823.1 L2010.3,823.8 L2010.7,824.5 L2011.2,818.0 L2011.6,821.7 L2012.1,826.1 L2012.5,819.6 L2013.0,827.1 L2013.4,822.3 L2013.9,819.2 L2014.3,832.1 L2014.8,824.9 L2015.2,826.3 L2015.7,822.0 L2016.1,825.6 L2016.6,820.9 L2017.0,824.8 L2017.5,824.7 L2017.9,827.4 L2018.4,825.0 L2018.8,827.5 L2019.3,826.9 L2019.7,830.9 L2020.2,826.9 L2020.6,823.1 L2021.1,826.4 L2021.5,820.7 L2022.0,823.7 L2022.4,825.7 L2022.9,825.3 L2023.3,823.4 L2023.8,820.7 L2024.2,823.8 L2024.7,817.3 L2025.1,826.1 L2025.6,825.1 L2026.0,819.5 L2026.5,824.1 L2026.9,824.4 L2027.4,823.7 L2027.8,828.3 L2028.3,826.0 L2028.7,820.3 L2029.2,818.4 L2029.6,828.5 L2030.1,823.1 L2030.5,819.6 L2031.0,819.4 L2031.4,829.3 L2031.9,826.3 L2032.3,818.6 L2032.8,821.9 L2033.2,822.4 L2033.7,825.3 L2034.1,822.0 L2034.6,825.7 L2035.0,824.0 L2035.5,820.6 L2035.9,824.8 L2036.4,824.1 L2036.8,821.8 L2037.3,819.1 L2037.7,821.6 L2038.2,817.6 L2038.6,819.6 L2039.1,823.1 L2039.5,821.2 L2040.0,824.7 L2040.4,822.1 L2040.9,829.6 L2041.3,827.8 L2041.8,826.0 L2042.2,824.6 L2042.7,821.1 L2043.1,823.6 L2043.6,825.2 L2044.0,818.4 L2044.5,826.8 L2044.9,823.8 L2045.4,820.9 L2045.8,824.0 L2046.3,825.7 L2046.7,822.0 L2047.2,824.7 L2047.6,825.7 L2048.1,823.9 L2048.5,823.7 L2049.0,827.5 L2049.4,828.6 L2049.9,824.3 L2050.3,822.0 L2050.8,827.2 L2051.2,822.2 L2051.7,822.7 L2052.1,824.3 L2052.6,826.2 L2053.0,823.8 L2053.5,820.2 L2053.9,823.2 L2054.4,826.8 L2054.8,826.4 L2055.3,826.6 L2055.7,823.3 L2056.2,823.9 L2056.6,827.0 L2057.1,822.6 L2057.5,828.3 L2058.0,820.5 L2058.4,829.3 L2058.9,821.5 L2059.3,825.5 L2059.8,824.0 L2060.2,820.9 L2060.7,827.1 L2061.1,825.2 L2061.6,825.7 L2062.0,829.4 L2062.5,828.8 L2062.9,827.2 L2063.4,826.3 L2063.8,827.1 L2064.3,826.1 L2064.7,824.0 L2065.2,827.8 L2065.6,821.0 L2066.1,821.8 L2066.5,825.2 L2067.0,824.5 L2067.4,826.6 L2067.9,823.2 L2068.3,825.6 L2068.8,824.4 L2069.2,830.6 L2069.7,822.6 L2070.1,826.2 L2070.6,824.3 L2071.0,828.7 L2071.5,824.6 L2071.9,822.6 L2072.4,821.7 L2072.8,820.3 L2073.3,817.7 L2073.7,826.2 L2074.2,818.8 L2074.6,820.7 L2075.1,823.5 L2075.5,820.2 L2076.0,823.8 L2076.4,823.5 L2076.9,818.6 L2077.3,826.8 L2077.8,824.2 L2078.2,823.6 L2078.7,818.0 L2079.1,824.2 L2079.6,823.8 L2080.0,827.2 L2080.5,826.3 L2080.9,828.8 L2081.4,820.0 L2081.8,827.0 L2082.3,827.1 L2082.7,822.0 L2083.2,823.7 L2083.6,823.1 L2084.1,823.8 L2084.5,824.6 L2085.0,826.1 L2085.4,824.4 L2085.9,820.1 L2086.3,825.9 L2086.8,822.8 L2087.2,825.3 L2087.7,827.0 L2088.1,820.5 L2088.6,820.6 L2089.0,825.0 L2089.5,824.4 L2089.9,825.6 L2090.4,820.5 L2090.8,825.8 L2091.3,824.7 L2091.7,819.3 L2092.2,830.8 L2092.6,823.2 L2093.1,825.4 L2093.5,827.0 L2094.0,823.9 L2094.4,821.6 L2094.9,824.5 L2095.3,821.5 L2095.8,822.7 L2096.2,824.9 L2096.7,822.6 L2097.1,826.7 L2097.6,826.9 L2098.0,827.6 L2098.5,830.2 L2098.9,830.4 L2099.4,826.0 L2099.8,824.6 L2100.3,826.7 L2100.7,827.8 L2101.2,820.6 L2101.6,827.4 L2102.1,825.0 L2102.5,825.7 L2103.0,830.2 L2103.4,830.9 L2103.9,820.2 L2104.3,827.1 L2104.8,828.4 L2105.2,823.0 L2105.7,826.1 L2106.1,828.3 L2106.6,825.2 L2107.0,827.4 L2107.5,820.9 L2107.9,825.5 L2108.4,822.2 L2108.8,828.9 L2109.3,819.6 L2109.7,822.4 L2110.2,820.9 L2110.6,819.5 L2111.1,828.7 L2111.5,826.7 L2112.0,823.8 L2112.4,822.3 L2112.9,823.1 L2113.3,822.5 L2113.8,827.2 L2114.2,827.0 L2114.7,828.5 L2115.1,825.9 L2115.6,825.3 L2116.0,820.0 L2116.5,827.7 L2116.9,826.1 L2117.4,826.7 L2117.8,829.9 L2118.3,823.2 L2118.7,817.5 L2119.2,824.3 L2119.6,827.7 L2120.1,825.6 L2120.5,826.1 L2121.0,823.5 L2121.4,826.7 L2121.9,824.8 L2122.3,830.6 L2122.8,825.0 L2123.2,818.3 L2123.7,820.3 L2124.1,823.0 L2124.6,824.8 L2125.0,828.4 L2125.5,826.9 L2125.9,821.5 L2126.4,824.2 L2126.8,825.4 L2127.3,819.1 L2127.7,832.4 L2128.2,822.5 L2128.6,827.4 L2129.1,826.2 L2129.5,818.5 L2130.0,829.3 L2130.4,829.2 L2130.9,825.3 L2131.3,831.3 L2131.8,826.8 L2132.2,827.4 L2132.7,828.3 L2133.1,818.9 L2133.6,827.7 L2134.0,825.4 L2134.5,825.8 L2134.9,820.4 L2135.4,828.5 L2135.8,826.3 L2136.3,823.0 L2136.7,825.6 L2137.2,830.1 L2137.6,828.7 L2138.1,824.3 L2138.5,824.7 L2139.0,832.8 L2139.4,821.4 L2139.9,826.2 L2140.3,828.3 L2140.8,829.3 L2141.2,821.9 L2141.7,828.0 L2142.1,825.3 L2142.6,824.7 L2143.0,831.1 L2143.5,830.6 L2143.9,827.7 L2144.4,826.8 L2144.8,821.9 L2145.3,822.7 L2145.7,823.1 L2146.2,829.4 L2146.6,820.2 L2147.1,825.5 L2147.5,820.1 L2148.0,822.6 L2148.4,819.7 L2148.9,822.4 L2149.3,829.4 L2149.8,826.8 L2150.2,827.4 L2150.7,824.6 L2151.1,823.9 L2151.6,826.1 L2152.0,828.4 L2152.5,822.1 L2152.9,827.8 L2153.4,825.5 L2153.8,829.4 L2154.3,826.1 L2154.7,825.8 L2155.2,826.0 L2155.6,823.2 L2156.1,827.6 L2156.5,822.7 L2157.0,826.8 L2157.4,826.9 L2157.9,824.8 L2158.3,827.9 L2158.8,824.3 L2159.2,824.4 L2159.7,820.3 L2160.1,824.2 L2160.6,826.3 L2161.0,832.2 L2161.5,821.7" fill="none" stroke="#f93d3d" stroke-width="7.4" stroke-linejoin="round" stroke-linecap="butt"/>
<path d="M181.5,475.5 L181.9,470.5 L182.4,471.6 L182.8,472.4 L183.3,469.6 L183.7,470.9 L184.2,470.5 L184.6,466.7 L185.1,473.3 L185.5,472.6 L186.0,469.8 L186.4,470.9 L186.9,472.7 L187.3,471.2 L187.8,471.2 L188.2,468.5 L188.7,473.1 L189.1,472.3 L189.6,472.7 L190.0,468.5 L190.5,475.4 L190.9,472.3 L191.4,471.5 L191.8,477.3 L192.3,473.0 L192.7,469.8 L193.2,471.9 L193.6,467.4 L194.1,474.5 L194.5,470.8 L195.0,469.5 L195.4,473.3 L195.9,467.4 L196.3,472.8 L196.8,467.5 L197.2,470.9 L197.7,469.9 L198.1,476.1 L198.6,477.0 L199.0,472.5 L199.5,475.1 L199.9,472.5 L200.4,473.5 L200.8,470.1 L201.3,467.7 L201.7,467.6 L202.2,472.5 L202.6,476.5 L203.1,471.5 L203.5,469.0 L204.0,474.3 L204.4,471.0 L204.9,471.3 L205.3,472.1 L205.8,471.6 L206.2,471.5 L206.7,469.3 L207.1,473.7 L207.6,472.3 L208.0,474.9 L208.5,471.3 L208.9,468.0 L209.4,472.1 L209.8,476.1 L210.3,471.3 L210.7,470.0 L211.2,469.4 L211.6,469.9 L212.1,471.8 L212.5,470.0 L213.0,475.8 L213.4,471.4 L213.9,472.0 L214.3,474.8 L214.8,475.0 L215.2,471.2 L215.7,472.7 L216.1,473.9 L216.6,472.0 L217.0,468.4 L217.5,473.5 L217.9,473.8 L218.4,472.8 L218.8,470.2 L219.3,472.2 L219.7,471.6 L220.2,472.2 L220.6,475.4 L221.1,475.5 L221.5,473.7 L222.0,473.9 L222.4,474.5 L222.9,473.0 L223.3,472.7 L223.8,471.1 L224.2,472.1 L224.7,477.3 L225.1,474.5 L225.6,472.3 L226.0,472.3 L226.5,471.4 L226.9,473.7 L227.4,473.2 L227.8,469.0 L228.3,473.6 L228.7,471.8 L229.2,476.3 L229.6,473.0 L230.1,475.9 L230.5,470.9 L231.0,471.5 L231.4,473.2 L231.9,475.1 L232.3,474.0 L232.8,469.8 L233.2,472.9 L233.7,472.8 L234.1,471.9 L234.6,471.3 L235.0,476.5 L235.5,471.8 L235.9,470.8 L236.4,474.0 L236.8,472.9 L237.3,472.6 L237.7,474.5 L238.2,473.8 L238.6,473.7 L239.1,475.3 L239.5,473.8 L240.0,471.6 L240.4,471.8 L240.9,471.4 L241.3,473.2 L241.8,470.6 L242.2,469.0 L242.7,473.3 L243.1,470.1 L243.6,468.6 L244.0,473.6 L244.5,471.1 L244.9,473.8 L245.4,471.6 L245.8,470.3 L246.3,470.0 L246.7,471.6 L247.2,472.1 L247.6,470.9 L248.1,472.2 L248.5,469.4 L249.0,472.7 L249.4,468.5 L249.9,472.1 L250.3,474.3 L250.8,475.4 L251.2,476.8 L251.7,469.3 L252.1,474.5 L252.6,475.7 L253.0,475.4 L253.5,471.1 L253.9,474.0 L254.4,477.3 L254.8,470.0 L255.3,474.6 L255.7,476.0 L256.2,471.7 L256.6,474.3 L257.1,470.5 L257.5,470.8 L258.0,470.3 L258.4,472.2 L258.9,471.7 L259.3,474.5 L259.8,470.8 L260.2,472.9 L260.7,475.4 L261.1,474.4 L261.6,470.1 L262.0,474.6 L262.5,471.9 L262.9,473.5 L263.4,473.0 L263.8,475.1 L264.3,472.8 L264.7,468.5 L265.2,469.6 L265.6,474.5 L266.1,472.7 L266.5,476.1 L267.0,474.1 L267.4,471.5 L267.9,475.2 L268.3,470.8 L268.8,468.2 L269.2,477.6 L269.7,468.7 L270.1,474.2 L270.6,474.6 L271.0,472.8 L271.5,468.8 L271.9,474.9 L272.4,469.5 L272.8,469.9 L273.3,472.3 L273.7,475.0 L274.2,474.0 L274.6,475.3 L275.1,472.5 L275.5,472.9 L276.0,470.5 L276.4,472.2 L276.9,474.2 L277.3,472.1 L277.8,473.8 L278.2,471.3 L278.7,471.4 L279.1,473.1 L279.6,473.0 L280.0,475.0 L280.5,474.3 L280.9,477.9 L281.4,473.5 L281.8,473.3 L282.3,471.2 L282.7,473.5 L283.2,475.1 L283.6,472.2 L284.1,473.9 L284.5,475.7 L285.0,473.8 L285.4,472.7 L285.9,475.9 L286.3,473.9 L286.8,474.7 L287.2,476.8 L287.7,477.0 L288.1,473.7 L288.6,473.2 L289.0,475.1 L289.5,474.3 L289.9,470.2 L290.4,476.9 L290.8,473.9 L291.3,475.4 L291.7,470.9 L292.2,476.2 L292.6,471.8 L293.1,472.7 L293.5,469.7 L294.0,472.5 L294.4,472.6 L294.9,473.1 L295.3,474.9 L295.8,474.3 L296.2,476.3 L296.7,473.0 L297.1,471.9 L297.6,474.0 L298.0,474.9 L298.5,475.5 L298.9,474.3 L299.4,468.9 L299.8,474.3 L300.3,477.1 L300.7,474.1 L301.2,472.8 L301.6,474.8 L302.1,473.2 L302.5,475.9 L303.0,474.5 L303.4,477.8 L303.9,475.8 L304.3,472.9 L304.8,475.7 L305.2,476.4 L305.7,473.1 L306.1,473.4 L306.6,469.1 L307.0,476.0 L307.5,472.5 L307.9,469.1 L308.4,470.0 L308.8,473.5 L309.3,475.8 L309.7,473.9 L310.2,475.1 L310.6,471.4 L311.1,470.9 L311.5,476.1 L312.0,475.6 L312.4,474.6 L312.9,477.4 L313.3,472.2 L313.8,473.3 L314.2,476.7 L314.7,478.6 L315.1,474.5 L315.6,478.1 L316.0,472.6 L316.5,474.4 L316.9,473.2 L317.4,470.3 L317.8,474.7 L318.3,476.5 L318.7,474.0 L319.2,474.1 L319.6,477.6 L320.1,471.9 L320.5,471.4 L321.0,473.1 L321.4,471.5 L321.9,476.8 L322.3,474.3 L322.8,471.6 L323.2,472.3 L323.7,480.3 L324.1,472.9 L324.6,472.6 L325.0,474.6 L325.5,474.9 L325.9,473.6 L326.4,471.1 L326.8,470.8 L327.3,475.1 L327.7,473.8 L328.2,470.2 L328.6,476.3 L329.1,475.1 L329.5,472.6 L330.0,472.3 L330.4,473.2 L330.9,471.0 L331.3,469.3 L331.8,472.8 L332.2,468.6 L332.7,472.2 L333.1,467.5 L333.6,470.0 L334.0,469.7 L334.5,474.0 L334.9,467.8 L335.4,467.1 L335.8,468.6 L336.3,467.4 L336.7,468.5 L337.2,470.8 L337.6,471.9 L338.1,474.4 L338.5,469.7 L339.0,477.7 L339.4,476.3 L339.9,471.2 L340.3,466.5 L340.8,471.7 L341.2,472.4 L341.7,467.2 L342.1,472.3 L342.6,471.5 L343.0,470.2 L343.5,474.0 L343.9,475.6 L344.4,472.7 L344.8,474.1 L345.3,471.4 L345.7,470.4 L346.2,472.0 L346.6,473.1 L347.1,471.1 L347.5,467.9 L348.0,474.6 L348.4,470.2 L348.9,474.0 L349.3,477.4 L349.8,473.2 L350.2,470.6 L350.7,470.3 L351.1,476.7 L351.6,474.6 L352.0,475.9 L352.5,476.4 L352.9,473.8 L353.4,473.1 L353.8,471.9 L354.3,467.4 L354.7,471.1 L355.2,474.4 L355.6,474.1 L356.1,475.1 L356.5,473.7 L357.0,474.4 L357.4,476.2 L357.9,473.0 L358.3,474.6 L358.8,471.3 L359.2,476.7 L359.7,474.4 L360.1,475.4 L360.6,477.9 L361.0,477.4 L361.5,475.4 L361.9,477.4 L362.4,472.2 L362.8,476.0 L363.3,475.0 L363.7,470.9 L364.2,477.5 L364.6,473.1 L365.1,476.3 L365.5,473.8 L366.0,477.0 L366.4,477.9 L366.9,473.4 L367.3,471.9 L367.8,474.8 L368.2,476.7 L368.7,473.8 L369.1,473.1 L369.6,475.4 L370.0,468.0 L370.5,472.6 L370.9,470.9 L371.4,474.7 L371.8,472.4 L372.3,471.7 L372.7,473.7 L373.2,471.6 L373.6,475.0 L374.1,473.4 L374.5,474.0 L375.0,473.3 L375.4,477.0 L375.9,474.8 L376.3,476.3 L376.8,476.3 L377.2,473.3 L377.7,476.2 L378.1,475.6 L378.6,475.7 L379.0,474.5 L379.5,474.8 L379.9,477.9 L380.4,481.0 L380.8,474.1 L381.3,476.7 L381.7,474.5 L382.2,477.0 L382.6,476.2 L383.1,477.4 L383.5,468.5 L384.0,473.3 L384.4,472.3 L384.9,474.1 L385.3,472.8 L385.8,473.5 L386.2,477.1 L386.7,480.2 L387.1,469.8 L387.6,475.2 L388.0,476.2 L388.5,475.0 L388.9,473.6 L389.4,471.0 L389.8,472.1 L390.3,476.4 L390.7,477.7 L391.2,475.6 L391.6,473.5 L392.1,475.6 L392.5,474.8 L393.0,476.4 L393.4,475.1 L393.9,473.4 L394.3,475.5 L394.8,473.2 L395.2,478.2 L395.7,479.1 L396.1,473.6 L396.6,476.9 L397.0,473.6 L397.5,478.2 L397.9,477.9 L398.4,475.3 L398.8,478.1 L399.3,474.9 L399.7,474.4 L400.2,474.6 L400.6,475.5 L401.1,474.9 L401.5,475.7 L402.0,473.8 L402.4,476.6 L402.9,477.0 L403.3,473.8 L403.8,472.3 L404.2,477.8 L404.7,479.2 L405.1,476.2 L405.6,473.6 L406.0,477.1 L406.5,480.0 L406.9,472.2 L407.4,477.1 L407.8,474.9 L408.3,473.4 L408.7,476.4 L409.2,472.5 L409.6,476.3 L410.1,478.5 L410.5,475.6 L411.0,472.9 L411.4,470.8 L411.9,472.3 L412.3,471.5 L412.8,479.4 L413.2,475.1 L413.7,473.1 L414.1,472.5 L414.6,473.1 L415.0,474.9 L415.5,472.7 L415.9,479.2 L416.4,473.9 L416.8,474.2 L417.3,477.1 L417.7,479.9 L418.2,479.3 L418.6,474.8 L419.1,476.4 L419.5,476.3 L420.0,477.3 L420.4,476.4 L420.9,473.1 L421.3,472.0 L421.8,475.1 L422.2,472.3 L422.7,478.2 L423.1,475.2 L423.6,472.5 L424.0,473.7 L424.5,473.3 L424.9,474.4 L425.4,477.2 L425.8,472.2 L426.3,471.4 L426.7,476.3 L427.2,475.0 L427.6,475.6 L428.1,476.4 L428.5,475.2 L429.0,477.5 L429.4,473.6 L429.9,475.5 L430.3,473.1 L430.8,472.1 L431.2,475.9 L431.7,475.9 L432.1,470.5 L432.6,472.5 L433.0,475.9 L433.5,477.9 L433.9,474.2 L434.4,475.3 L434.8,472.3 L435.3,480.7 L435.7,475.7 L436.2,476.4 L436.6,475.9 L437.1,476.8 L437.5,476.4 L438.0,474.5 L438.4,477.0 L438.9,475.5 L439.3,478.3 L439.8,473.8 L440.2,474.5 L440.7,477.5 L441.1,479.0 L441.6,476.4 L442.0,474.4 L442.5,475.8 L442.9,475.1 L443.4,480.4 L443.8,478.0 L444.3,478.5 L444.7,476.1 L445.2,474.1 L445.6,478.2 L446.1,479.6 L446.5,477.4 L447.0,476.0 L447.4,478.1 L447.9,474.6 L448.3,477.0 L448.8,473.9 L449.2,473.5 L449.7,477.0 L450.1,476.7 L450.6,480.4 L451.0,475.6 L451.5,476.1 L451.9,473.4 L452.4,471.9 L452.8,472.2 L453.3,476.9 L453.7,472.8 L454.2,477.7 L454.6,478.5 L455.1,475.2 L455.5,480.0 L456.0,476.9 L456.4,478.7 L456.9,475.1 L457.3,477.2 L457.8,472.6 L458.2,476.0 L458.7,473.8 L459.1,474.7 L459.6,476.5 L460.0,475.8 L460.5,475.5 L460.9,477.4 L461.4,477.5 L461.8,472.5 L462.3,476.6 L462.7,476.8 L463.2,473.7 L463.6,476.2 L464.1,472.3 L464.5,478.3 L465.0,474.5 L465.4,474.7 L465.9,477.2 L466.3,474.0 L466.8,475.8 L467.2,472.4 L467.7,473.5 L468.1,471.6 L468.6,474.2 L469.0,477.0 L469.5,475.4 L469.9,477.1 L470.4,473.0 L470.8,473.5 L471.3,474.5 L471.7,476.7 L472.2,475.8 L472.6,474.6 L473.1,476.2 L473.5,475.0 L474.0,475.7 L474.4,478.8 L474.9,474.7 L475.3,476.5 L475.8,479.8 L476.2,476.5 L476.7,477.7 L477.1,474.6 L477.6,480.3 L478.0,470.9 L478.5,473.4 L478.9,473.3 L479.4,478.6 L479.8,475.3 L480.3,473.7 L480.7,471.7 L481.2,475.8 L481.6,475.5 L482.1,473.8 L482.5,472.1 L483.0,473.0 L483.4,476.0 L483.9,476.1 L484.3,475.7 L484.8,475.5 L485.2,472.2 L485.7,476.1 L486.1,473.2 L486.6,475.3 L487.0,476.3 L487.5,473.6 L487.9,472.3 L488.4,476.2 L488.8,474.7 L489.3,473.1 L489.7,468.3 L490.2,474.9 L490.6,476.3 L491.1,477.5 L491.5,473.6 L492.0,473.6 L492.4,473.9 L492.9,476.7 L493.3,472.5 L493.8,475.1 L494.2,473.4 L494.7,475.8 L495.1,471.2 L495.6,475.1 L496.0,473.0 L496.5,473.6 L496.9,475.2 L497.4,476.6 L497.8,470.3 L498.3,476.5 L498.7,475.7 L499.2,473.9 L499.6,477.5 L500.1,474.8 L500.5,477.4 L501.0,473.5 L501.4,473.4 L501.9,478.3 L502.3,480.4 L502.8,476.8 L503.2,477.3 L503.7,473.9 L504.1,471.5 L504.6,473.6 L505.0,477.5 L505.5,470.4 L505.9,473.8 L506.4,470.6 L506.8,475.0 L507.3,476.5 L507.7,471.6 L508.2,473.6 L508.6,477.7 L509.1,474.7 L509.5,472.2 L510.0,472.0 L510.4,470.5 L510.9,476.6 L511.3,473.0 L511.8,476.9 L512.2,476.7 L512.7,473.6 L513.1,474.2 L513.6,477.2 L514.0,475.7 L514.5,475.8 L514.9,471.1 L515.4,476.2 L515.8,471.6 L516.3,468.3 L516.7,472.2 L517.2,474.9 L517.6,479.0 L518.1,473.7 L518.5,471.7 L519.0,479.7 L519.4,475.6 L519.9,475.0 L520.3,473.4 L520.8,473.4 L521.2,478.5 L521.7,474.4 L522.1,473.8 L522.6,474.1 L523.0,478.8 L523.5,473.8 L523.9,476.0 L524.4,474.7 L524.8,474.4 L525.3,471.9 L525.7,475.4 L526.2,477.5 L526.6,473.6 L527.1,471.3 L527.5,469.9 L528.0,472.6 L528.4,471.0 L528.9,471.2 L529.3,471.4 L529.8,467.9 L530.2,472.3 L530.7,470.2 L531.1,468.4 L531.6,467.8 L532.0,468.0 L532.5,464.6 L532.9,460.8 L533.4,463.2 L533.8,456.8 L534.3,452.7 L534.7,446.7 L535.2,445.6 L535.6,438.0 L536.1,433.3 L536.5,429.3 L537.0,422.6 L537.4,420.7 L537.9,417.8 L538.3,418.2 L538.8,422.8 L539.2,428.5 L539.7,437.4 L540.1,442.1 L540.6,446.6 L541.0,453.8 L541.5,455.7 L541.9,457.4 L542.4,457.9 L542.8,464.6 L543.3,465.9 L543.7,466.7 L544.2,466.6 L544.6,466.5 L545.1,468.2 L545.5,469.5 L546.0,468.8 L546.4,468.9 L546.9,468.3 L547.3,470.4 L547.8,470.7 L548.2,469.1 L548.7,472.6 L549.1,472.6 L549.6,472.3 L550.0,469.7 L550.5,469.0 L550.9,466.2 L551.4,469.7 L551.8,462.4 L552.3,465.4 L552.7,464.5 L553.2,466.0 L553.6,462.9 L554.1,459.3 L554.5,456.4 L555.0,455.7 L555.4,455.5 L555.9,453.8 L556.3,452.4 L556.8,451.3 L557.2,452.9 L557.7,456.7 L558.1,453.6 L558.6,458.1 L559.0,463.7 L559.5,463.3 L559.9,463.0 L560.4,467.1 L560.8,465.2 L561.3,467.9 L561.7,472.1 L562.2,473.6 L562.6,466.2 L563.1,471.9 L563.5,475.0 L564.0,469.8 L564.4,472.3 L564.9,475.8 L565.3,472.0 L565.8,474.7 L566.2,474.0 L566.7,469.9 L567.1,474.9 L567.6,473.8 L568.0,476.7 L568.5,479.8 L568.9,476.7 L569.4,474.1 L569.8,475.7 L570.3,474.9 L570.7,476.7 L571.2,471.4 L571.6,472.5 L572.1,470.9 L572.5,476.9 L573.0,475.6 L573.4,474.4 L573.9,474.5 L574.3,474.8 L574.8,473.9 L575.2,475.2 L575.7,474.9 L576.1,479.1 L576.6,476.5 L577.0,473.8 L577.5,474.3 L577.9,478.1 L578.4,476.4 L578.8,476.1 L579.3,477.2 L579.7,479.4 L580.2,473.6 L580.6,475.1 L581.1,473.1 L581.5,478.1 L582.0,475.8 L582.4,474.8 L582.9,474.3 L583.3,477.5 L583.8,476.0 L584.2,475.7 L584.7,480.1 L585.1,475.0 L585.6,474.3 L586.0,482.7 L586.5,476.0 L586.9,475.5 L587.4,475.1 L587.8,476.6 L588.3,478.6 L588.7,478.2 L589.2,477.4 L589.6,475.5 L590.1,472.6 L590.5,476.1 L591.0,478.3 L591.4,477.1 L591.9,474.7 L592.3,477.5 L592.8,475.2 L593.2,476.0 L593.7,473.3 L594.1,475.4 L594.6,476.7 L595.0,476.3 L595.5,478.4 L595.9,480.6 L596.4,479.1 L596.8,475.4 L597.3,474.5 L597.7,474.6 L598.2,473.8 L598.6,475.8 L599.1,476.6 L599.5,476.3 L600.0,476.9 L600.4,477.4 L600.9,477.0 L601.3,475.5 L601.8,480.6 L602.2,478.8 L602.7,474.4 L603.1,474.6 L603.6,475.3 L604.0,476.3 L604.5,478.7 L604.9,478.2 L605.4,478.6 L605.8,478.8 L606.3,478.9 L606.7,478.0 L607.2,477.1 L607.6,475.5 L608.1,471.8 L608.5,475.4 L609.0,479.6 L609.4,474.2 L609.9,473.6 L610.3,476.9 L610.8,474.6 L611.2,473.1 L611.7,476.9 L612.1,473.4 L612.6,472.0 L613.0,467.9 L613.5,470.2 L613.9,470.9 L614.4,473.3 L614.8,475.4 L615.3,476.3 L615.7,474.8 L616.2,476.6 L616.6,473.1 L617.1,477.4 L617.5,477.6 L618.0,475.5 L618.4,475.0 L618.9,476.9 L619.3,474.4 L619.8,478.0 L620.2,478.3 L620.7,475.8 L621.1,477.9 L621.6,479.8 L622.0,479.1 L622.5,478.2 L622.9,475.3 L623.4,474.9 L623.8,475.0 L624.3,477.4 L624.7,481.5 L625.2,479.7 L625.6,480.3 L626.1,480.0 L626.5,473.4 L627.0,476.4 L627.4,475.9 L627.9,479.7 L628.3,480.9 L628.8,475.7 L629.2,477.3 L629.7,478.2 L630.1,475.6 L630.6,475.0 L631.0,474.9 L631.5,478.6 L631.9,474.6 L632.4,478.8 L632.8,475.9 L633.3,477.2 L633.7,479.1 L634.2,474.4 L634.6,474.2 L635.1,477.0 L635.5,473.9 L636.0,474.7 L636.4,476.3 L636.9,476.9 L637.3,473.5 L637.8,475.0 L638.2,477.0 L638.7,478.8 L639.1,471.5 L639.6,478.9 L640.0,478.1 L640.5,473.9 L640.9,473.1 L641.4,477.3 L641.8,475.4 L642.3,476.6 L642.7,478.2 L643.2,475.2 L643.6,475.9 L644.1,476.0 L644.5,476.6 L645.0,478.7 L645.4,478.9 L645.9,475.7 L646.3,474.3 L646.8,479.8 L647.2,475.9 L647.7,475.8 L648.1,472.8 L648.6,477.3 L649.0,474.0 L649.5,474.7 L649.9,472.7 L650.4,474.4 L650.8,475.5 L651.3,471.8 L651.7,473.0 L652.2,474.7 L652.6,471.9 L653.1,471.4 L653.5,472.0 L654.0,470.7 L654.4,475.4 L654.9,472.1 L655.3,476.0 L655.8,476.1 L656.2,470.9 L656.7,473.1 L657.1,471.7 L657.6,470.2 L658.0,472.2 L658.5,472.6 L658.9,474.7 L659.4,475.2 L659.8,470.2 L660.3,471.4 L660.7,473.2 L661.2,474.2 L661.6,465.9 L662.1,474.0 L662.5,470.6 L663.0,474.3 L663.4,469.9 L663.9,469.0 L664.3,471.0 L664.8,473.6 L665.2,471.3 L665.7,466.2 L666.1,473.0 L666.6,467.7 L667.0,468.9 L667.5,468.3 L667.9,466.7 L668.4,467.8 L668.8,468.3 L669.3,469.0 L669.7,470.2 L670.2,469.4 L670.6,467.0 L671.1,470.4 L671.5,473.7 L672.0,474.1 L672.4,472.3 L672.9,473.1 L673.3,473.5 L673.8,474.5 L674.2,475.5 L674.7,471.5 L675.1,472.1 L675.6,476.3 L676.0,476.5 L676.5,476.4 L676.9,467.8 L677.4,472.6 L677.8,466.0 L678.3,475.1 L678.7,473.8 L679.2,473.7 L679.6,473.4 L680.1,476.9 L680.5,473.8 L681.0,477.0 L681.4,475.8 L681.9,475.1 L682.3,475.4 L682.8,475.0 L683.2,472.8 L683.7,477.2 L684.1,477.1 L684.6,475.0 L685.0,476.8 L685.5,477.1 L685.9,472.1 L686.4,474.6 L686.8,474.0 L687.3,473.1 L687.7,476.1 L688.2,473.6 L688.6,474.6 L689.1,476.0 L689.5,476.0 L690.0,475.7 L690.4,479.9 L690.9,474.0 L691.3,475.7 L691.8,472.3 L692.2,476.0 L692.7,477.6 L693.1,477.8 L693.6,473.7 L694.0,474.4 L694.5,477.8 L694.9,474.8 L695.4,477.1 L695.8,472.5 L696.3,477.3 L696.7,476.4 L697.2,475.7 L697.6,473.6 L698.1,475.3 L698.5,475.9 L699.0,476.2 L699.4,475.7 L699.9,475.8 L700.3,476.9 L700.8,479.5 L701.2,471.4 L701.7,472.3 L702.1,471.5 L702.6,473.3 L703.0,471.0 L703.5,476.4 L703.9,475.6 L704.4,474.8 L704.8,473.6 L705.3,475.2 L705.7,475.1 L706.2,475.4 L706.6,473.0 L707.1,476.0 L707.5,470.8 L708.0,476.3 L708.4,466.5 L708.9,472.4 L709.3,471.3 L709.8,475.8 L710.2,470.5 L710.7,477.6 L711.1,470.0 L711.6,478.0 L712.0,474.3 L712.5,473.0 L712.9,473.6 L713.4,477.2 L713.8,473.9 L714.3,466.3 L714.7,473.6 L715.2,471.4 L715.6,467.2 L716.1,472.3 L716.5,467.3 L717.0,469.8 L717.4,469.5 L717.9,467.2 L718.3,469.7 L718.8,465.4 L719.2,467.6 L719.7,465.9 L720.1,466.8 L720.6,471.4 L721.0,466.7 L721.5,463.1 L721.9,464.9 L722.4,463.6 L722.8,465.8 L723.3,466.4 L723.7,466.2 L724.2,466.1 L724.6,464.4 L725.1,466.2 L725.5,467.0 L726.0,463.0 L726.4,464.5 L726.9,465.3 L727.3,468.3 L727.8,467.9 L728.2,463.7 L728.7,465.2 L729.1,461.4 L729.6,462.2 L730.0,463.8 L730.5,464.7 L730.9,465.0 L731.4,462.0 L731.8,459.4 L732.3,462.8 L732.7,460.7 L733.2,461.2 L733.6,460.2 L734.1,461.4 L734.5,460.8 L735.0,460.2 L735.4,456.2 L735.9,458.6 L736.3,454.7 L736.8,455.3 L737.2,458.5 L737.7,454.2 L738.1,449.7 L738.6,454.5 L739.0,452.3 L739.5,451.4 L739.9,447.9 L740.4,446.7 L740.8,443.9 L741.3,441.4 L741.7,444.8 L742.2,439.1 L742.6,437.3 L743.1,435.9 L743.5,439.3 L744.0,435.2 L744.4,430.6 L744.9,429.6 L745.3,429.1 L745.8,428.0 L746.2,420.4 L746.7,423.8 L747.1,419.2 L747.6,416.5 L748.0,415.7 L748.5,417.3 L748.9,418.7 L749.4,414.3 L749.8,414.4 L750.3,410.6 L750.7,413.3 L751.2,414.7 L751.6,410.9 L752.1,414.7 L752.5,419.2 L753.0,415.0 L753.4,419.7 L753.9,423.6 L754.3,420.4 L754.8,425.1 L755.2,427.6 L755.7,430.8 L756.1,427.6 L756.6,434.7 L757.0,434.7 L757.5,438.3 L757.9,439.7 L758.4,439.2 L758.8,440.9 L759.3,437.3 L759.7,439.7 L760.2,442.1 L760.6,445.0 L761.1,449.0 L761.5,444.1 L762.0,448.5 L762.4,447.2 L762.9,447.3 L763.3,454.6 L763.8,452.2 L764.2,456.7 L764.7,456.7 L765.1,452.9 L765.6,451.7 L766.0,461.4 L766.5,456.9 L766.9,456.0 L767.4,460.5 L767.8,459.6 L768.3,458.2 L768.7,459.7 L769.2,461.6 L769.6,461.9 L770.1,463.4 L770.5,460.7 L771.0,460.7 L771.4,463.0 L771.9,462.9 L772.3,465.2 L772.8,462.5 L773.2,462.8 L773.7,460.3 L774.1,466.2 L774.6,459.9 L775.0,463.9 L775.5,461.8 L775.9,464.5 L776.4,465.0 L776.8,459.3 L777.3,462.5 L777.7,459.3 L778.2,466.7 L778.6,462.6 L779.1,460.0 L779.5,461.7 L780.0,465.9 L780.4,466.3 L780.9,466.1 L781.3,462.0 L781.8,463.7 L782.2,467.6 L782.7,462.0 L783.1,462.8 L783.6,461.8 L784.0,462.1 L784.5,468.3 L784.9,467.6 L785.4,467.5 L785.8,467.8 L786.3,468.7 L786.7,469.8 L787.2,466.5 L787.6,465.9 L788.1,464.6 L788.5,469.9 L789.0,467.1 L789.4,465.6 L789.9,468.6 L790.3,469.2 L790.8,470.5 L791.2,470.2 L791.7,466.2 L792.1,466.4 L792.6,468.1 L793.0,466.9 L793.5,470.0 L793.9,471.3 L794.4,469.8 L794.8,465.4 L795.3,465.8 L795.7,470.9 L796.2,465.3 L796.6,468.5 L797.1,467.5 L797.5,464.7 L798.0,462.3 L798.4,463.8 L798.9,459.8 L799.3,459.7 L799.8,458.7 L800.2,455.4 L800.7,454.9 L801.1,452.4 L801.6,447.1 L802.0,445.1 L802.5,439.4 L802.9,431.7 L803.4,429.3 L803.8,422.9 L804.3,414.5 L804.7,402.2 L805.2,397.5 L805.6,384.4 L806.1,369.2 L806.5,350.3 L807.0,325.1 L807.4,302.6 L807.9,271.0 L808.3,245.3 L808.8,205.0 L809.2,175.2 L809.7,144.1 L810.1,129.9 L810.6,130.5 L811.0,146.9 L811.5,171.5 L811.9,202.6 L812.4,231.6 L812.8,271.0 L813.3,296.1 L813.7,327.6 L814.2,350.6 L814.6,367.6 L815.1,384.1 L815.5,392.3 L816.0,411.8 L816.4,415.6 L816.9,425.1 L817.3,427.6 L817.8,435.1 L818.2,437.6 L818.7,444.1 L819.1,448.2 L819.6,451.6 L820.0,456.5 L820.5,456.6 L820.9,457.9 L821.4,458.8 L821.8,464.2 L822.3,459.5 L822.7,464.5 L823.2,458.3 L823.6,461.1 L824.1,463.8 L824.5,462.0 L825.0,468.4 L825.4,466.9 L825.9,457.3 L826.3,457.5 L826.8,457.8 L827.2,459.5 L827.7,455.5 L828.1,451.0 L828.6,443.9 L829.0,441.1 L829.5,432.2 L829.9,429.6 L830.4,428.6 L830.8,424.2 L831.3,415.2 L831.7,415.6 L832.2,418.7 L832.6,417.5 L833.1,420.5 L833.5,428.1 L834.0,433.8 L834.4,438.4 L834.9,442.0 L835.3,446.5 L835.8,451.4 L836.2,453.5 L836.7,460.7 L837.1,462.3 L837.6,464.9 L838.0,469.0 L838.5,469.8 L838.9,470.9 L839.4,469.5 L839.8,468.9 L840.3,474.7 L840.7,468.3 L841.2,468.9 L841.6,469.0 L842.1,472.0 L842.5,472.9 L843.0,474.5 L843.4,471.8 L843.9,468.3 L844.3,472.9 L844.8,474.8 L845.2,473.5 L845.7,473.8 L846.1,475.5 L846.6,477.3 L847.0,473.6 L847.5,470.5 L847.9,472.7 L848.4,473.9 L848.8,470.5 L849.3,476.2 L849.7,472.6 L850.2,475.6 L850.6,475.3 L851.1,474.5 L851.5,478.9 L852.0,473.7 L852.4,473.2 L852.9,475.1 L853.3,476.3 L853.8,474.5 L854.2,472.3 L854.7,476.2 L855.1,476.4 L855.6,480.1 L856.0,475.2 L856.5,476.4 L856.9,475.0 L857.4,473.2 L857.8,476.7 L858.3,478.4 L858.7,474.0 L859.2,474.4 L859.6,473.0 L860.1,478.6 L860.5,474.7 L861.0,478.1 L861.4,475.2 L861.9,477.3 L862.3,475.4 L862.8,471.2 L863.2,476.2 L863.7,477.1 L864.1,471.3 L864.6,475.3 L865.0,474.4 L865.5,472.7 L865.9,474.8 L866.4,471.5 L866.8,476.9 L867.3,479.3 L867.7,474.0 L868.2,476.6 L868.6,479.6 L869.1,476.4 L869.5,475.0 L870.0,474.6 L870.4,477.3 L870.9,476.4 L871.3,477.5 L871.8,472.0 L872.2,477.2 L872.7,473.6 L873.1,475.9 L873.6,473.0 L874.0,472.2 L874.5,474.4 L874.9,474.1 L875.4,475.7 L875.8,478.0 L876.3,478.8 L876.7,476.6 L877.2,474.8 L877.6,475.0 L878.1,477.2 L878.5,478.4 L879.0,475.0 L879.4,475.5 L879.9,474.4 L880.3,476.9 L880.8,478.6 L881.2,469.8 L881.7,476.5 L882.1,474.5 L882.6,470.4 L883.0,476.2 L883.5,475.4 L883.9,476.7 L884.4,473.2 L884.8,481.3 L885.3,476.9 L885.7,476.0 L886.2,480.3 L886.6,478.5 L887.1,479.1 L887.5,479.8 L888.0,472.4 L888.4,480.5 L888.9,475.7 L889.3,476.9 L889.8,478.3 L890.2,474.8 L890.7,477.4 L891.1,478.5 L891.6,476.7 L892.0,477.7 L892.5,472.8 L892.9,473.6 L893.4,473.4 L893.8,476.5 L894.3,483.8 L894.7,476.1 L895.2,475.6 L895.6,476.2 L896.1,478.9 L896.5,478.6 L897.0,474.5 L897.4,479.3 L897.9,476.7 L898.3,478.2 L898.8,471.6 L899.2,472.5 L899.7,477.5 L900.1,472.4 L900.6,477.6 L901.0,477.7 L901.5,477.5 L901.9,478.0 L902.4,477.9 L902.8,478.4 L903.3,476.6 L903.7,477.5 L904.2,484.1 L904.6,480.0 L905.1,478.7 L905.5,478.2 L906.0,475.7 L906.4,478.0 L906.9,477.1 L907.3,479.9 L907.8,475.7 L908.2,472.0 L908.7,475.6 L909.1,478.4 L909.6,482.7 L910.0,479.8 L910.5,475.3 L910.9,476.9 L911.4,475.4 L911.8,477.0 L912.3,475.3 L912.7,473.3 L913.2,477.6 L913.6,476.7 L914.1,475.7 L914.5,476.9 L915.0,480.9 L915.4,476.8 L915.9,476.0 L916.3,479.0 L916.8,473.4 L917.2,478.6 L917.7,475.1 L918.1,475.4 L918.6,478.0 L919.0,481.7 L919.5,476.3 L919.9,479.9 L920.4,478.5 L920.8,474.6 L921.3,479.8 L921.7,475.8 L922.2,474.3 L922.6,475.9 L923.1,476.0 L923.5,479.0 L924.0,476.1 L924.4,481.2 L924.9,478.5 L925.3,476.2 L925.8,475.5 L926.2,477.5 L926.7,472.4 L927.1,472.1 L927.6,475.1 L928.0,478.7 L928.5,477.9 L928.9,477.8 L929.4,477.4 L929.8,472.9 L930.3,476.7 L930.7,473.1 L931.2,478.9 L931.6,477.4 L932.1,477.7 L932.5,479.0 L933.0,478.7 L933.4,478.4 L933.9,478.5 L934.3,476.4 L934.8,474.9 L935.2,478.7 L935.7,481.3 L936.1,480.4 L936.6,477.7 L937.0,479.6 L937.5,477.4 L937.9,479.4 L938.4,477.2 L938.8,478.6 L939.3,482.5 L939.7,479.7 L940.2,481.2 L940.6,475.9 L941.1,476.0 L941.5,477.6 L942.0,479.1 L942.4,477.5 L942.9,480.3 L943.3,476.9 L943.8,481.3 L944.2,480.4 L944.7,475.8 L945.1,479.7 L945.6,478.3 L946.0,481.3 L946.5,477.8 L946.9,479.3 L947.4,479.4 L947.8,471.8 L948.3,474.0 L948.7,478.9 L949.2,478.8 L949.6,481.4 L950.1,479.4 L950.5,475.9 L951.0,479.5 L951.4,477.3 L951.9,478.6 L952.3,478.1 L952.8,479.8 L953.2,475.7 L953.7,476.4 L954.1,474.5 L954.6,484.7 L955.0,477.9 L955.5,478.2 L955.9,477.5 L956.4,478.7 L956.8,479.0 L957.3,481.0 L957.7,479.4 L958.2,479.1 L958.6,476.5 L959.1,477.4 L959.5,480.3 L960.0,477.7 L960.4,478.5 L960.9,473.1 L961.3,478.6 L961.8,477.9 L962.2,480.2 L962.7,471.3 L963.1,477.5 L963.6,477.1 L964.0,477.6 L964.5,476.2 L964.9,478.2 L965.4,479.1 L965.8,477.1 L966.3,475.6 L966.7,475.3 L967.2,474.7 L967.6,475.7 L968.1,473.8 L968.5,470.4 L969.0,476.8 L969.4,468.6 L969.9,471.1 L970.3,467.8 L970.8,470.1 L971.2,469.0 L971.7,471.5 L972.1,470.2 L972.6,469.9 L973.0,474.5 L973.5,477.8 L973.9,476.5 L974.4,476.7 L974.8,474.5 L975.3,476.8 L975.7,478.0 L976.2,475.5 L976.6,479.2 L977.1,477.4 L977.5,478.7 L978.0,477.2 L978.4,477.7 L978.9,479.7 L979.3,480.1 L979.8,480.0 L980.2,477.1 L980.7,477.9 L981.1,479.4 L981.6,475.2 L982.0,481.5 L982.5,479.9 L982.9,479.1 L983.4,477.1 L983.8,480.5 L984.3,478.3 L984.7,483.4 L985.2,480.2 L985.6,476.2 L986.1,481.5 L986.5,478.8 L987.0,478.7 L987.4,479.1 L987.9,479.2 L988.3,480.1 L988.8,481.3 L989.2,480.5 L989.7,478.0 L990.1,476.7 L990.6,477.9 L991.0,480.3 L991.5,481.1 L991.9,483.0 L992.4,476.0 L992.8,479.4 L993.3,478.9 L993.7,478.5 L994.2,479.7 L994.6,478.9 L995.1,479.0 L995.5,478.1 L996.0,480.3 L996.4,481.7 L996.9,483.1 L997.3,478.4 L997.8,477.3 L998.2,479.0 L998.7,477.8 L999.1,482.1 L999.6,478.1 L1000.0,480.0 L1000.5,476.5 L1000.9,478.6 L1001.4,480.0 L1001.8,483.2 L1002.3,478.5 L1002.7,480.7 L1003.2,474.7 L1003.6,476.0 L1004.1,476.1 L1004.5,476.3 L1005.0,478.1 L1005.4,478.4 L1005.9,473.4 L1006.3,478.2 L1006.8,474.5 L1007.2,480.9 L1007.7,477.3 L1008.1,477.0 L1008.6,476.3 L1009.0,476.4 L1009.5,476.1 L1009.9,474.1 L1010.4,477.0 L1010.8,475.9 L1011.3,476.9 L1011.7,474.8 L1012.2,476.1 L1012.6,472.6 L1013.1,481.8 L1013.5,471.6 L1014.0,471.2 L1014.4,473.2 L1014.9,472.5 L1015.3,466.3 L1015.8,462.5 L1016.2,461.3 L1016.7,460.3 L1017.1,458.7 L1017.6,457.7 L1018.0,457.6 L1018.5,454.6 L1018.9,447.2 L1019.4,445.6 L1019.8,441.8 L1020.3,438.2 L1020.7,429.9 L1021.2,424.0 L1021.6,423.1 L1022.1,421.2 L1022.5,414.2 L1023.0,418.8 L1023.4,419.5 L1023.9,418.1 L1024.3,419.4 L1024.8,426.4 L1025.2,432.1 L1025.7,439.2 L1026.1,438.9 L1026.6,451.9 L1027.0,455.1 L1027.5,451.6 L1027.9,452.3 L1028.4,459.3 L1028.8,463.7 L1029.3,468.4 L1029.7,469.3 L1030.2,469.0 L1030.6,466.1 L1031.1,472.4 L1031.5,473.8 L1032.0,471.9 L1032.4,474.0 L1032.9,474.7 L1033.3,474.4 L1033.8,472.5 L1034.2,475.8 L1034.7,472.1 L1035.1,479.1 L1035.6,474.9 L1036.0,478.7 L1036.5,476.4 L1036.9,479.3 L1037.4,478.4 L1037.8,480.1 L1038.3,477.0 L1038.7,475.0 L1039.2,478.1 L1039.6,478.2 L1040.1,475.9 L1040.5,477.9 L1041.0,476.1 L1041.4,480.4 L1041.9,479.3 L1042.3,479.9 L1042.8,485.4 L1043.2,480.1 L1043.7,480.7 L1044.1,481.3 L1044.6,479.5 L1045.0,478.6 L1045.5,482.2 L1045.9,482.8 L1046.4,474.0 L1046.8,480.2 L1047.3,480.0 L1047.7,480.0 L1048.2,484.4 L1048.6,480.5 L1049.1,483.2 L1049.5,479.5 L1050.0,479.4 L1050.4,481.8 L1050.9,478.8 L1051.3,480.3 L1051.8,478.4 L1052.2,479.1 L1052.7,483.1 L1053.1,483.1 L1053.6,479.5 L1054.0,479.5 L1054.5,487.9 L1054.9,480.6 L1055.4,479.8 L1055.8,482.5 L1056.3,479.6 L1056.7,480.5 L1057.2,483.3 L1057.6,483.6 L1058.1,481.1 L1058.5,484.8 L1059.0,481.8 L1059.4,481.7 L1059.9,482.1 L1060.3,481.2 L1060.8,483.1 L1061.2,482.7 L1061.7,480.6 L1062.1,482.8 L1062.6,481.1 L1063.0,481.0 L1063.5,481.9 L1063.9,484.4 L1064.4,482.5 L1064.8,484.4 L1065.3,484.8 L1065.7,481.2 L1066.2,480.3 L1066.6,480.4 L1067.1,482.9 L1067.5,484.0 L1068.0,485.2 L1068.4,478.4 L1068.9,483.0 L1069.3,482.9 L1069.8,485.9 L1070.2,481.2 L1070.7,481.0 L1071.1,477.5 L1071.6,478.7 L1072.0,477.8 L1072.5,478.3 L1072.9,479.0 L1073.4,477.9 L1073.8,481.4 L1074.3,482.8 L1074.7,483.7 L1075.2,481.6 L1075.6,484.0 L1076.1,484.0 L1076.5,478.4 L1077.0,481.3 L1077.4,479.2 L1077.9,479.8 L1078.3,482.6 L1078.8,482.2 L1079.2,485.7 L1079.7,486.8 L1080.1,482.8 L1080.6,481.2 L1081.0,481.2 L1081.5,481.4 L1081.9,482.7 L1082.4,479.7 L1082.8,482.6 L1083.3,480.8 L1083.7,483.8 L1084.2,484.4 L1084.6,485.1 L1085.1,481.0 L1085.5,478.6 L1086.0,478.2 L1086.4,481.7 L1086.9,479.3 L1087.3,478.9 L1087.8,481.9 L1088.2,480.8 L1088.7,484.7 L1089.1,487.5 L1089.6,482.3 L1090.0,483.1 L1090.5,478.6 L1090.9,482.3 L1091.4,480.3 L1091.8,479.6 L1092.3,478.1 L1092.7,486.0 L1093.2,479.0 L1093.6,480.1 L1094.1,483.0 L1094.5,483.5 L1095.0,483.2 L1095.4,482.7 L1095.9,480.5 L1096.3,484.3 L1096.8,483.0 L1097.2,479.3 L1097.7,486.0 L1098.1,481.5 L1098.6,484.1 L1099.0,478.6 L1099.5,479.2 L1099.9,480.8 L1100.4,480.8 L1100.8,484.8 L1101.3,479.1 L1101.7,483.1 L1102.2,480.3 L1102.6,483.7 L1103.1,483.0 L1103.5,481.3 L1104.0,487.4 L1104.4,482.4 L1104.9,485.3 L1105.3,480.3 L1105.8,483.3 L1106.2,484.0 L1106.7,483.9 L1107.1,482.4 L1107.6,480.9 L1108.0,475.6 L1108.5,481.2 L1108.9,480.5 L1109.4,482.0 L1109.8,484.5 L1110.3,487.6 L1110.7,484.0 L1111.2,485.4 L1111.6,484.7 L1112.1,484.9 L1112.5,484.5 L1113.0,482.5 L1113.4,482.5 L1113.9,484.1 L1114.3,487.8 L1114.8,485.8 L1115.2,487.7 L1115.7,481.0 L1116.1,484.2 L1116.6,484.3 L1117.0,484.4 L1117.5,480.0 L1117.9,479.0 L1118.4,478.4 L1118.8,482.3 L1119.3,488.5 L1119.7,483.8 L1120.2,480.6 L1120.6,483.8 L1121.1,482.2 L1121.5,483.2 L1122.0,481.8 L1122.4,479.9 L1122.9,481.6 L1123.3,484.3 L1123.8,483.4 L1124.2,485.3 L1124.7,480.0 L1125.1,484.7 L1125.6,482.5 L1126.0,482.8 L1126.5,484.9 L1126.9,481.6 L1127.4,482.4 L1127.8,483.4 L1128.3,483.9 L1128.7,484.7 L1129.2,486.0 L1129.6,484.2 L1130.1,481.9 L1130.5,488.4 L1131.0,482.9 L1131.4,483.7 L1131.9,481.1 L1132.3,478.1 L1132.8,481.7 L1133.2,483.9 L1133.7,485.0 L1134.1,483.6 L1134.6,485.1 L1135.0,485.4 L1135.5,485.1 L1135.9,482.7 L1136.4,482.8 L1136.8,482.1 L1137.3,480.7 L1137.7,485.9 L1138.2,480.0 L1138.6,482.7 L1139.1,483.8 L1139.5,478.9 L1140.0,485.7 L1140.4,483.5 L1140.9,484.5 L1141.3,482.6 L1141.8,479.1 L1142.2,482.4 L1142.7,482.1 L1143.1,484.1 L1143.6,483.0 L1144.0,478.3 L1144.5,484.9 L1144.9,484.7 L1145.4,484.8 L1145.8,484.0 L1146.3,481.2 L1146.7,483.9 L1147.2,482.1 L1147.6,489.5 L1148.1,482.7 L1148.5,480.9 L1149.0,482.7 L1149.4,486.8 L1149.9,482.3 L1150.3,478.0 L1150.8,486.4 L1151.2,483.4 L1151.7,481.4 L1152.1,484.3 L1152.6,481.0 L1153.0,480.7 L1153.5,485.3 L1153.9,481.9 L1154.4,484.3 L1154.8,483.4 L1155.3,485.7 L1155.7,484.4 L1156.2,479.9 L1156.6,486.0 L1157.1,483.5 L1157.5,486.5 L1158.0,484.6 L1158.4,487.2 L1158.9,482.9 L1159.3,478.6 L1159.8,482.1 L1160.2,483.7 L1160.7,481.5 L1161.1,480.9 L1161.6,485.1 L1162.0,481.5 L1162.5,484.5 L1162.9,482.7 L1163.4,479.3 L1163.8,480.6 L1164.3,482.0 L1164.7,483.2 L1165.2,480.7 L1165.6,479.5 L1166.1,480.3 L1166.5,481.3 L1167.0,480.4 L1167.4,481.3 L1167.9,487.1 L1168.3,483.8 L1168.8,481.4 L1169.2,483.1 L1169.7,486.9 L1170.1,485.3 L1170.6,484.0 L1171.0,481.0 L1171.5,479.8 L1171.9,482.4 L1172.4,482.6 L1172.8,479.0 L1173.3,479.3 L1173.7,482.0 L1174.2,477.1 L1174.6,478.2 L1175.1,482.0 L1175.5,483.5 L1176.0,483.1 L1176.4,484.7 L1176.9,486.0 L1177.3,484.5 L1177.8,482.1 L1178.2,487.7 L1178.7,487.1 L1179.1,485.5 L1179.6,481.5 L1180.0,484.0 L1180.5,478.3 L1180.9,482.0 L1181.4,476.8 L1181.8,481.0 L1182.3,484.3 L1182.7,482.5 L1183.2,486.2 L1183.6,482.2 L1184.1,481.9 L1184.5,480.6 L1185.0,482.5 L1185.4,481.5 L1185.9,484.4 L1186.3,485.4 L1186.8,482.7 L1187.2,479.3 L1187.7,483.0 L1188.1,484.6 L1188.6,483.0 L1189.0,482.2 L1189.5,483.6 L1189.9,484.4 L1190.4,475.4 L1190.8,484.5 L1191.3,482.8 L1191.7,482.2 L1192.2,479.5 L1192.6,480.4 L1193.1,480.0 L1193.5,474.1 L1194.0,478.2 L1194.4,476.1 L1194.9,478.8 L1195.3,477.1 L1195.8,475.4 L1196.2,476.0 L1196.7,477.2 L1197.1,475.4 L1197.6,475.2 L1198.0,471.1 L1198.5,468.8 L1198.9,469.0 L1199.4,465.2 L1199.8,464.6 L1200.3,465.2 L1200.7,459.2 L1201.2,458.5 L1201.6,460.8 L1202.1,455.2 L1202.5,452.7 L1203.0,445.4 L1203.4,440.6 L1203.9,436.6 L1204.3,435.1 L1204.8,426.3 L1205.2,415.1 L1205.7,413.4 L1206.1,408.5 L1206.6,403.3 L1207.0,396.0 L1207.5,397.3 L1207.9,402.9 L1208.4,399.1 L1208.8,407.0 L1209.3,410.8 L1209.7,416.3 L1210.2,424.4 L1210.6,433.6 L1211.1,439.5 L1211.5,440.4 L1212.0,446.2 L1212.4,449.4 L1212.9,450.2 L1213.3,459.2 L1213.8,464.1 L1214.2,466.3 L1214.7,463.9 L1215.1,469.6 L1215.6,470.5 L1216.0,468.4 L1216.5,470.3 L1216.9,470.7 L1217.4,473.0 L1217.8,477.3 L1218.3,471.9 L1218.7,472.1 L1219.2,477.7 L1219.6,476.8 L1220.1,472.9 L1220.5,474.9 L1221.0,475.1 L1221.4,475.5 L1221.9,477.5 L1222.3,479.0 L1222.8,476.4 L1223.2,477.0 L1223.7,474.9 L1224.1,479.0 L1224.6,479.8 L1225.0,476.2 L1225.5,475.1 L1225.9,481.4 L1226.4,478.8 L1226.8,474.7 L1227.3,472.6 L1227.7,475.1 L1228.2,477.9 L1228.6,473.6 L1229.1,474.1 L1229.5,473.4 L1230.0,475.6 L1230.4,476.7 L1230.9,470.0 L1231.3,471.1 L1231.8,470.1 L1232.2,468.1 L1232.7,466.1 L1233.1,470.3 L1233.6,468.3 L1234.0,468.6 L1234.5,469.2 L1234.9,463.9 L1235.4,464.7 L1235.8,461.5 L1236.3,461.0 L1236.7,460.7 L1237.2,458.4 L1237.6,454.3 L1238.1,460.1 L1238.5,456.4 L1239.0,452.8 L1239.4,449.8 L1239.9,454.0 L1240.3,455.1 L1240.8,455.9 L1241.2,456.7 L1241.7,454.0 L1242.1,456.8 L1242.6,452.5 L1243.0,457.1 L1243.5,460.1 L1243.9,458.0 L1244.4,460.3 L1244.8,462.2 L1245.3,463.6 L1245.7,467.8 L1246.2,463.3 L1246.6,470.0 L1247.1,465.5 L1247.5,467.9 L1248.0,468.5 L1248.4,470.7 L1248.9,470.6 L1249.3,473.6 L1249.8,473.4 L1250.2,479.1 L1250.7,475.6 L1251.1,474.6 L1251.6,476.4 L1252.0,477.1 L1252.5,475.6 L1252.9,474.0 L1253.4,475.5 L1253.8,478.5 L1254.3,480.5 L1254.7,480.0 L1255.2,478.8 L1255.6,480.2 L1256.1,477.7 L1256.5,479.3 L1257.0,481.8 L1257.4,481.3 L1257.9,482.3 L1258.3,479.0 L1258.8,480.4 L1259.2,477.5 L1259.7,481.8 L1260.1,479.0 L1260.6,477.4 L1261.0,479.4 L1261.5,481.3 L1261.9,476.0 L1262.4,478.1 L1262.8,483.5 L1263.3,481.5 L1263.7,481.3 L1264.2,478.1 L1264.6,485.3 L1265.1,484.1 L1265.5,483.4 L1266.0,479.4 L1266.4,483.3 L1266.9,484.8 L1267.3,481.7 L1267.8,481.9 L1268.2,481.4 L1268.7,483.7 L1269.1,481.7 L1269.6,481.5 L1270.0,478.9 L1270.5,477.9 L1270.9,483.1 L1271.4,484.1 L1271.8,482.6 L1272.3,484.4 L1272.7,480.8 L1273.2,482.6 L1273.6,484.2 L1274.1,483.4 L1274.5,487.8 L1275.0,481.1 L1275.4,482.5 L1275.9,482.5 L1276.3,481.4 L1276.8,484.8 L1277.2,478.5 L1277.7,485.4 L1278.1,484.5 L1278.6,482.9 L1279.0,485.1 L1279.5,487.3 L1279.9,482.8 L1280.4,484.3 L1280.8,483.9 L1281.3,484.3 L1281.7,482.1 L1282.2,481.5 L1282.6,484.3 L1283.1,481.5 L1283.5,484.6 L1284.0,484.4 L1284.4,481.8 L1284.9,483.8 L1285.3,483.3 L1285.8,482.8 L1286.2,485.5 L1286.7,483.0 L1287.1,483.4 L1287.6,478.5 L1288.0,484.1 L1288.5,479.6 L1288.9,481.9 L1289.4,486.1 L1289.8,486.2 L1290.3,480.9 L1290.7,478.8 L1291.2,482.6 L1291.6,481.2 L1292.1,483.2 L1292.5,479.6 L1293.0,485.0 L1293.4,485.8 L1293.9,479.1 L1294.3,480.7 L1294.8,481.2 L1295.2,484.9 L1295.7,479.2 L1296.1,484.1 L1296.6,482.9 L1297.0,481.4 L1297.5,484.5 L1297.9,478.3 L1298.4,479.2 L1298.8,480.3 L1299.3,483.6 L1299.7,481.4 L1300.2,480.5 L1300.6,483.6 L1301.1,481.2 L1301.5,480.5 L1302.0,480.9 L1302.4,482.4 L1302.9,488.1 L1303.3,480.2 L1303.8,483.4 L1304.2,482.1 L1304.7,481.2 L1305.1,484.6 L1305.6,482.9 L1306.0,482.9 L1306.5,480.6 L1306.9,480.0 L1307.4,482.7 L1307.8,481.3 L1308.3,480.4 L1308.7,482.7 L1309.2,478.0 L1309.6,478.6 L1310.1,482.0 L1310.5,480.4 L1311.0,482.3 L1311.4,479.0 L1311.9,482.4 L1312.3,479.0 L1312.8,483.3 L1313.2,481.8 L1313.7,480.9 L1314.1,483.3 L1314.6,480.7 L1315.0,478.4 L1315.5,483.4 L1315.9,481.1 L1316.4,483.5 L1316.8,481.4 L1317.3,483.8 L1317.7,479.3 L1318.2,478.3 L1318.6,477.9 L1319.1,482.6 L1319.5,476.5 L1320.0,476.7 L1320.4,477.2 L1320.9,480.5 L1321.3,480.9 L1321.8,478.3 L1322.2,482.1 L1322.7,481.3 L1323.1,483.5 L1323.6,482.8 L1324.0,479.0 L1324.5,480.8 L1324.9,479.8 L1325.4,480.8 L1325.8,479.8 L1326.3,479.1 L1326.7,480.7 L1327.2,479.6 L1327.6,481.4 L1328.1,480.1 L1328.5,479.9 L1329.0,482.2 L1329.4,481.8 L1329.9,482.0 L1330.3,480.4 L1330.8,478.5 L1331.2,479.5 L1331.7,479.6 L1332.1,475.5 L1332.6,477.2 L1333.0,483.0 L1333.5,479.1 L1333.9,472.5 L1334.4,478.5 L1334.8,479.2 L1335.3,476.2 L1335.7,483.9 L1336.2,481.5 L1336.6,481.0 L1337.1,478.9 L1337.5,480.5 L1338.0,481.1 L1338.4,479.8 L1338.9,476.7 L1339.3,478.2 L1339.8,478.2 L1340.2,478.9 L1340.7,476.2 L1341.1,479.0 L1341.6,478.1 L1342.0,478.1 L1342.5,477.7 L1342.9,473.9 L1343.4,479.1 L1343.8,479.1 L1344.3,474.5 L1344.7,477.2 L1345.2,475.6 L1345.6,476.8 L1346.1,480.3 L1346.5,479.3 L1347.0,482.1 L1347.4,477.4 L1347.9,474.6 L1348.3,477.4 L1348.8,472.0 L1349.2,481.4 L1349.7,477.7 L1350.1,477.6 L1350.6,476.6 L1351.0,474.4 L1351.5,476.2 L1351.9,474.7 L1352.4,475.2 L1352.8,476.9 L1353.3,473.3 L1353.7,479.6 L1354.2,473.9 L1354.6,478.6 L1355.1,475.5 L1355.5,473.9 L1356.0,477.3 L1356.4,476.7 L1356.9,475.9 L1357.3,476.2 L1357.8,474.6 L1358.2,476.4 L1358.7,473.9 L1359.1,475.0 L1359.6,477.5 L1360.0,471.9 L1360.5,473.3 L1360.9,473.0 L1361.4,473.0 L1361.8,471.7 L1362.3,473.6 L1362.7,473.7 L1363.2,472.4 L1363.6,468.7 L1364.1,473.7 L1364.5,473.8 L1365.0,472.2 L1365.4,469.1 L1365.9,468.6 L1366.3,474.3 L1366.8,473.6 L1367.2,470.5 L1367.7,466.5 L1368.1,470.3 L1368.6,467.1 L1369.0,470.0 L1369.5,464.8 L1369.9,467.0 L1370.4,465.1 L1370.8,466.6 L1371.3,462.9 L1371.7,466.1 L1372.2,463.1 L1372.6,462.1 L1373.1,465.7 L1373.5,465.5 L1374.0,460.9 L1374.4,466.1 L1374.9,466.8 L1375.3,467.3 L1375.8,471.8 L1376.2,466.4 L1376.7,468.4 L1377.1,465.4 L1377.6,466.8 L1378.0,470.0 L1378.5,472.4 L1378.9,473.6 L1379.4,476.3 L1379.8,477.2 L1380.3,478.2 L1380.7,475.8 L1381.2,477.3 L1381.6,474.7 L1382.1,477.3 L1382.5,477.9 L1383.0,476.0 L1383.4,470.2 L1383.9,476.1 L1384.3,483.7 L1384.8,478.3 L1385.2,477.5 L1385.7,479.2 L1386.1,481.3 L1386.6,479.6 L1387.0,478.6 L1387.5,476.6 L1387.9,479.2 L1388.4,477.5 L1388.8,481.2 L1389.3,484.0 L1389.7,483.3 L1390.2,479.7 L1390.6,478.6 L1391.1,477.3 L1391.5,481.2 L1392.0,481.7 L1392.4,482.5 L1392.9,481.7 L1393.3,478.3 L1393.8,476.6 L1394.2,483.3 L1394.7,478.8 L1395.1,484.9 L1395.6,475.9 L1396.0,478.2 L1396.5,478.6 L1396.9,481.3 L1397.4,482.3 L1397.8,479.9 L1398.3,482.8 L1398.7,478.7 L1399.2,480.2 L1399.6,478.3 L1400.1,479.4 L1400.5,479.0 L1401.0,481.0 L1401.4,488.0 L1401.9,477.4 L1402.3,480.0 L1402.8,481.9 L1403.2,480.3 L1403.7,483.3 L1404.1,477.8 L1404.6,481.8 L1405.0,478.3 L1405.5,481.7 L1405.9,479.9 L1406.4,479.5 L1406.8,477.0 L1407.3,473.9 L1407.7,475.6 L1408.2,479.7 L1408.6,477.4 L1409.1,479.4 L1409.5,474.8 L1410.0,479.3 L1410.4,480.3 L1410.9,473.6 L1411.3,479.7 L1411.8,483.8 L1412.2,478.1 L1412.7,482.1 L1413.1,479.8 L1413.6,481.3 L1414.0,478.6 L1414.5,478.1 L1414.9,479.1 L1415.4,479.3 L1415.8,478.9 L1416.3,478.6 L1416.7,483.4 L1417.2,479.9 L1417.6,478.8 L1418.1,479.6 L1418.5,482.8 L1419.0,476.5 L1419.4,482.5 L1419.9,483.1 L1420.3,484.7 L1420.8,481.5 L1421.2,481.4 L1421.7,484.1 L1422.1,484.3 L1422.6,486.8 L1423.0,483.7 L1423.5,482.3 L1423.9,480.2 L1424.4,482.9 L1424.8,483.8 L1425.3,486.3 L1425.7,483.6 L1426.2,486.0 L1426.6,485.5 L1427.1,481.0 L1427.5,480.4 L1428.0,481.8 L1428.4,483.1 L1428.9,482.0 L1429.3,485.5 L1429.8,485.5 L1430.2,486.8 L1430.7,484.8 L1431.1,483.3 L1431.6,485.3 L1432.0,482.4 L1432.5,484.8 L1432.9,482.7 L1433.4,486.7 L1433.8,478.0 L1434.3,485.9 L1434.7,486.3 L1435.2,484.3 L1435.6,484.8 L1436.1,484.1 L1436.5,486.5 L1437.0,487.7 L1437.4,484.4 L1437.9,488.3 L1438.3,483.3 L1438.8,485.6 L1439.2,485.4 L1439.7,481.5 L1440.1,485.2 L1440.6,483.2 L1441.0,486.8 L1441.5,483.1 L1441.9,480.9 L1442.4,481.5 L1442.8,484.2 L1443.3,485.0 L1443.7,485.5 L1444.2,483.4 L1444.6,487.0 L1445.1,483.8 L1445.5,484.2 L1446.0,486.4 L1446.4,483.5 L1446.9,479.7 L1447.3,485.8 L1447.8,484.5 L1448.2,483.9 L1448.7,487.9 L1449.1,483.7 L1449.6,486.6 L1450.0,485.5 L1450.5,490.8 L1450.9,480.7 L1451.4,485.0 L1451.8,485.5 L1452.3,487.7 L1452.7,484.5 L1453.2,483.8 L1453.6,487.9 L1454.1,483.4 L1454.5,484.8 L1455.0,484.1 L1455.4,485.3 L1455.9,481.6 L1456.3,483.3 L1456.8,484.1 L1457.2,484.2 L1457.7,486.6 L1458.1,485.8 L1458.6,486.7 L1459.0,485.7 L1459.5,488.5 L1459.9,484.0 L1460.4,484.5 L1460.8,480.6 L1461.3,480.9 L1461.7,485.0 L1462.2,483.4 L1462.6,480.0 L1463.1,484.6 L1463.5,484.7 L1464.0,482.8 L1464.4,486.0 L1464.9,484.6 L1465.3,485.2 L1465.8,487.2 L1466.2,483.7 L1466.7,487.5 L1467.1,484.6 L1467.6,484.8 L1468.0,488.5 L1468.5,486.6 L1468.9,484.8 L1469.4,484.9 L1469.8,485.1 L1470.3,481.2 L1470.7,486.0 L1471.2,484.5 L1471.6,481.2 L1472.1,481.4 L1472.5,485.1 L1473.0,480.3 L1473.4,488.2 L1473.9,481.3 L1474.3,484.3 L1474.8,478.4 L1475.2,484.3 L1475.7,483.7 L1476.1,485.9 L1476.6,485.0 L1477.0,483.5 L1477.5,488.6 L1477.9,485.0 L1478.4,481.4 L1478.8,483.9 L1479.3,476.9 L1479.7,482.0 L1480.2,486.0 L1480.6,482.1 L1481.1,484.1 L1481.5,481.8 L1482.0,486.3 L1482.4,484.7 L1482.9,484.2 L1483.3,486.2 L1483.8,487.6 L1484.2,485.5 L1484.7,479.9 L1485.1,484.6 L1485.6,484.4 L1486.0,481.6 L1486.5,480.9 L1486.9,483.8 L1487.4,483.7 L1487.8,483.6 L1488.3,481.6 L1488.7,483.4 L1489.2,483.8 L1489.6,482.5 L1490.1,484.0 L1490.5,481.8 L1491.0,479.7 L1491.4,483.1 L1491.9,485.0 L1492.3,489.1 L1492.8,478.4 L1493.2,482.1 L1493.7,481.2 L1494.1,483.6 L1494.6,481.0 L1495.0,483.2 L1495.5,485.1 L1495.9,481.1 L1496.4,482.6 L1496.8,486.1 L1497.3,484.0 L1497.7,477.9 L1498.2,485.9 L1498.6,479.8 L1499.1,481.9 L1499.5,480.1 L1500.0,479.7 L1500.4,479.1 L1500.9,482.3 L1501.3,479.7 L1501.8,479.1 L1502.2,480.8 L1502.7,481.6 L1503.1,476.2 L1503.6,481.7 L1504.0,477.8 L1504.5,480.9 L1504.9,482.2 L1505.4,479.5 L1505.8,479.6 L1506.3,477.2 L1506.7,476.5 L1507.2,473.5 L1507.6,476.8 L1508.1,475.4 L1508.5,471.0 L1509.0,476.6 L1509.4,479.0 L1509.9,476.1 L1510.3,477.1 L1510.8,473.0 L1511.2,470.5 L1511.7,472.2 L1512.1,470.9 L1512.6,468.5 L1513.0,472.4 L1513.5,469.1 L1513.9,465.9 L1514.4,466.6 L1514.8,464.9 L1515.3,465.2 L1515.7,465.3 L1516.2,458.0 L1516.6,454.7 L1517.1,458.7 L1517.5,459.1 L1518.0,450.0 L1518.4,446.6 L1518.9,442.9 L1519.3,442.1 L1519.8,438.3 L1520.2,433.0 L1520.7,430.6 L1521.1,421.7 L1521.6,416.2 L1522.0,408.2 L1522.5,407.3 L1522.9,399.9 L1523.4,393.8 L1523.8,382.8 L1524.3,381.9 L1524.7,374.2 L1525.2,371.0 L1525.6,368.3 L1526.1,365.8 L1526.5,367.6 L1527.0,367.6 L1527.4,374.5 L1527.9,381.1 L1528.3,385.8 L1528.8,395.4 L1529.2,404.7 L1529.7,407.1 L1530.1,412.3 L1530.6,418.7 L1531.0,426.7 L1531.5,435.2 L1531.9,436.1 L1532.4,439.8 L1532.8,440.3 L1533.3,446.9 L1533.7,450.4 L1534.2,450.8 L1534.6,454.4 L1535.1,455.7 L1535.5,461.1 L1536.0,464.5 L1536.4,464.1 L1536.9,465.6 L1537.3,465.6 L1537.8,465.0 L1538.2,466.0 L1538.7,468.3 L1539.1,470.7 L1539.6,471.3 L1540.0,474.1 L1540.5,474.0 L1540.9,476.4 L1541.4,475.7 L1541.8,474.2 L1542.3,475.6 L1542.7,472.4 L1543.2,480.4 L1543.6,476.0 L1544.1,476.8 L1544.5,481.8 L1545.0,475.5 L1545.4,477.0 L1545.9,479.0 L1546.3,478.5 L1546.8,480.2 L1547.2,480.3 L1547.7,480.7 L1548.1,478.8 L1548.6,480.8 L1549.0,478.9 L1549.5,481.2 L1549.9,482.4 L1550.4,476.0 L1550.8,479.6 L1551.3,481.0 L1551.7,476.8 L1552.2,474.5 L1552.6,482.0 L1553.1,479.8 L1553.5,483.0 L1554.0,481.1 L1554.4,481.0 L1554.9,480.6 L1555.3,482.3 L1555.8,480.7 L1556.2,482.0 L1556.7,485.0 L1557.1,482.7 L1557.6,484.3 L1558.0,482.9 L1558.5,481.9 L1558.9,480.4 L1559.4,484.6 L1559.8,481.3 L1560.3,484.1 L1560.7,479.8 L1561.2,483.9 L1561.6,484.3 L1562.1,482.2 L1562.5,480.1 L1563.0,483.3 L1563.4,483.8 L1563.9,482.6 L1564.3,482.5 L1564.8,486.1 L1565.2,483.7 L1565.7,482.8 L1566.1,485.5 L1566.6,483.4 L1567.0,481.8 L1567.5,485.3 L1567.9,482.8 L1568.4,486.1 L1568.8,482.7 L1569.3,484.9 L1569.7,487.0 L1570.2,485.4 L1570.6,485.6 L1571.1,485.2 L1571.5,485.8 L1572.0,484.1 L1572.4,485.1 L1572.9,483.7 L1573.3,488.4 L1573.8,482.1 L1574.2,485.7 L1574.7,481.4 L1575.1,484.6 L1575.6,486.6 L1576.0,481.7 L1576.5,488.4 L1576.9,482.6 L1577.4,483.0 L1577.8,485.8 L1578.3,483.1 L1578.7,487.8 L1579.2,486.5 L1579.6,478.9 L1580.1,481.6 L1580.5,483.2 L1581.0,485.9 L1581.4,482.6 L1581.9,482.9 L1582.3,485.3 L1582.8,481.5 L1583.2,484.3 L1583.7,480.8 L1584.1,486.2 L1584.6,487.4 L1585.0,482.1 L1585.5,479.6 L1585.9,481.0 L1586.4,486.6 L1586.8,483.1 L1587.3,486.7 L1587.7,481.1 L1588.2,481.5 L1588.6,482.9 L1589.1,485.7 L1589.5,483.2 L1590.0,481.7 L1590.4,484.8 L1590.9,484.4 L1591.3,485.4 L1591.8,484.1 L1592.2,483.4 L1592.7,485.0 L1593.1,479.5 L1593.6,485.4 L1594.0,487.3 L1594.5,485.5 L1594.9,482.0 L1595.4,480.8 L1595.8,487.5 L1596.3,484.0 L1596.7,485.2 L1597.2,486.6 L1597.6,484.9 L1598.1,486.1 L1598.5,488.7 L1599.0,483.9 L1599.4,489.1 L1599.9,485.9 L1600.3,485.9 L1600.8,487.3 L1601.2,487.2 L1601.7,487.6 L1602.1,486.6 L1602.6,484.2 L1603.0,489.0 L1603.5,485.0 L1603.9,483.5 L1604.4,487.3 L1604.8,487.0 L1605.3,485.7 L1605.7,485.9 L1606.2,486.5 L1606.6,488.7 L1607.1,483.9 L1607.5,481.4 L1608.0,483.2 L1608.4,485.9 L1608.9,484.4 L1609.3,483.2 L1609.8,486.0 L1610.2,485.9 L1610.7,483.8 L1611.1,484.8 L1611.6,482.6 L1612.0,482.6 L1612.5,483.3 L1612.9,481.2 L1613.4,485.2 L1613.8,484.3 L1614.3,483.3 L1614.7,484.7 L1615.2,484.7 L1615.6,482.9 L1616.1,483.5 L1616.5,483.4 L1617.0,488.2 L1617.4,481.3 L1617.9,484.3 L1618.3,485.9 L1618.8,481.6 L1619.2,482.0 L1619.7,482.1 L1620.1,480.7 L1620.6,487.6 L1621.0,484.8 L1621.5,483.0 L1621.9,484.0 L1622.4,485.6 L1622.8,484.3 L1623.3,483.0 L1623.7,486.2 L1624.2,483.1 L1624.6,483.9 L1625.1,484.9 L1625.5,482.9 L1626.0,484.6 L1626.4,482.9 L1626.9,490.2 L1627.3,483.4 L1627.8,485.8 L1628.2,482.4 L1628.7,481.6 L1629.1,483.7 L1629.6,483.4 L1630.0,483.6 L1630.5,484.4 L1630.9,486.4 L1631.4,488.9 L1631.8,489.6 L1632.3,485.7 L1632.7,489.6 L1633.2,489.1 L1633.6,483.9 L1634.1,484.0 L1634.5,484.9 L1635.0,489.6 L1635.4,485.3 L1635.9,485.3 L1636.3,488.8 L1636.8,485.0 L1637.2,484.5 L1637.7,485.7 L1638.1,484.5 L1638.6,478.9 L1639.0,481.6 L1639.5,486.1 L1639.9,481.6 L1640.4,487.8 L1640.8,485.3 L1641.3,486.3 L1641.7,486.4 L1642.2,481.6 L1642.6,483.8 L1643.1,482.9 L1643.5,485.4 L1644.0,487.7 L1644.4,483.2 L1644.9,483.6 L1645.3,479.2 L1645.8,482.9 L1646.2,483.4 L1646.7,483.8 L1647.1,485.7 L1647.6,487.5 L1648.0,484.4 L1648.5,485.4 L1648.9,481.2 L1649.4,485.9 L1649.8,484.5 L1650.3,480.4 L1650.7,485.0 L1651.2,482.9 L1651.6,486.9 L1652.1,485.7 L1652.5,484.5 L1653.0,487.6 L1653.4,483.5 L1653.9,483.4 L1654.3,484.3 L1654.8,484.5 L1655.2,482.4 L1655.7,485.6 L1656.1,485.4 L1656.6,483.5 L1657.0,481.3 L1657.5,487.4 L1657.9,487.5 L1658.4,486.7 L1658.8,487.1 L1659.3,489.0 L1659.7,485.8 L1660.2,488.5 L1660.6,484.4 L1661.1,482.8 L1661.5,484.8 L1662.0,484.1 L1662.4,485.7 L1662.9,488.4 L1663.3,485.1 L1663.8,486.4 L1664.2,488.9 L1664.7,488.5 L1665.1,485.0 L1665.6,483.5 L1666.0,489.9 L1666.5,483.0 L1666.9,481.5 L1667.4,481.2 L1667.8,488.1 L1668.3,482.1 L1668.7,484.7 L1669.2,485.0 L1669.6,488.4 L1670.1,482.7 L1670.5,486.0 L1671.0,486.4 L1671.4,488.7 L1671.9,485.2 L1672.3,486.4 L1672.8,485.0 L1673.2,487.7 L1673.7,487.2 L1674.1,484.2 L1674.6,486.3 L1675.0,481.7 L1675.5,485.0 L1675.9,482.6 L1676.4,483.5 L1676.8,486.7 L1677.3,489.3 L1677.7,485.1 L1678.2,484.4 L1678.6,484.1 L1679.1,486.6 L1679.5,484.4 L1680.0,486.8 L1680.4,487.9 L1680.9,485.9 L1681.3,483.9 L1681.8,486.9 L1682.2,484.1 L1682.7,481.8 L1683.1,488.0 L1683.6,489.7 L1684.0,488.6 L1684.5,485.0 L1684.9,478.1 L1685.4,483.6 L1685.8,486.1 L1686.3,483.2 L1686.7,486.9 L1687.2,482.1 L1687.6,485.4 L1688.1,485.1 L1688.5,485.2 L1689.0,481.3 L1689.4,484.0 L1689.9,484.9 L1690.3,483.8 L1690.8,481.9 L1691.2,483.6 L1691.7,482.5 L1692.1,485.7 L1692.6,487.2 L1693.0,485.4 L1693.5,485.0 L1693.9,483.5 L1694.4,484.2 L1694.8,479.2 L1695.3,483.5 L1695.7,485.4 L1696.2,482.3 L1696.6,485.2 L1697.1,480.4 L1697.5,483.9 L1698.0,483.0 L1698.4,484.0 L1698.9,482.7 L1699.3,486.9 L1699.8,474.5 L1700.2,478.3 L1700.7,480.1 L1701.1,482.1 L1701.6,480.6 L1702.0,480.5 L1702.5,478.2 L1702.9,478.4 L1703.4,479.3 L1703.8,484.4 L1704.3,478.8 L1704.7,486.6 L1705.2,482.6 L1705.6,479.4 L1706.1,481.7 L1706.5,482.1 L1707.0,477.2 L1707.4,476.5 L1707.9,483.8 L1708.3,478.7 L1708.8,483.2 L1709.2,483.1 L1709.7,478.0 L1710.1,483.4 L1710.6,483.6 L1711.0,485.5 L1711.5,482.8 L1711.9,483.9 L1712.4,483.8 L1712.8,482.6 L1713.3,487.0 L1713.7,485.5 L1714.2,486.5 L1714.6,483.7 L1715.1,485.6 L1715.5,481.2 L1716.0,482.4 L1716.4,486.4 L1716.9,483.7 L1717.3,483.0 L1717.8,484.1 L1718.2,480.3 L1718.7,484.3 L1719.1,485.1 L1719.6,483.5 L1720.0,481.9 L1720.5,488.5 L1720.9,485.5 L1721.4,482.3 L1721.8,483.4 L1722.3,481.2 L1722.7,481.0 L1723.2,480.5 L1723.6,482.8 L1724.1,485.6 L1724.5,486.4 L1725.0,484.6 L1725.4,487.3 L1725.9,486.4 L1726.3,482.4 L1726.8,482.6 L1727.2,484.6 L1727.7,485.2 L1728.1,486.0 L1728.6,480.3 L1729.0,478.8 L1729.5,487.8 L1729.9,483.1 L1730.4,486.4 L1730.8,484.4 L1731.3,481.1 L1731.7,487.2 L1732.2,485.2 L1732.6,487.7 L1733.1,486.0 L1733.5,482.6 L1734.0,485.0 L1734.4,487.6 L1734.9,483.9 L1735.3,485.7 L1735.8,487.8 L1736.2,482.7 L1736.7,484.9 L1737.1,486.3 L1737.6,488.1 L1738.0,485.6 L1738.5,484.1 L1738.9,486.6 L1739.4,483.8 L1739.8,486.1 L1740.3,485.9 L1740.7,484.5 L1741.2,486.7 L1741.6,487.3 L1742.1,481.8 L1742.5,486.0 L1743.0,484.6 L1743.4,484.4 L1743.9,485.1 L1744.3,487.3 L1744.8,484.1 L1745.2,483.5 L1745.7,481.5 L1746.1,484.2 L1746.6,484.8 L1747.0,482.9 L1747.5,484.5 L1747.9,486.4 L1748.4,488.4 L1748.8,484.5 L1749.3,489.6 L1749.7,487.4 L1750.2,487.2 L1750.6,486.4 L1751.1,485.1 L1751.5,483.3 L1752.0,484.5 L1752.4,484.6 L1752.9,484.6 L1753.3,487.6 L1753.8,488.7 L1754.2,485.5 L1754.7,486.5 L1755.1,482.7 L1755.6,479.8 L1756.0,483.9 L1756.5,484.6 L1756.9,487.3 L1757.4,489.7 L1757.8,484.9 L1758.3,487.1 L1758.7,486.8 L1759.2,485.4 L1759.6,487.4 L1760.1,486.9 L1760.5,489.5 L1761.0,483.6 L1761.4,480.6 L1761.9,485.6 L1762.3,486.9 L1762.8,487.0 L1763.2,483.5 L1763.7,486.4 L1764.1,484.1 L1764.6,487.1 L1765.0,483.7 L1765.5,482.5 L1765.9,486.5 L1766.4,481.2 L1766.8,480.6 L1767.3,485.8 L1767.7,484.4 L1768.2,479.0 L1768.6,486.8 L1769.1,481.5 L1769.5,483.4 L1770.0,484.2 L1770.4,488.9 L1770.9,484.3 L1771.3,486.4 L1771.8,484.4 L1772.2,486.1 L1772.7,481.9 L1773.1,485.0 L1773.6,483.9 L1774.0,483.3 L1774.5,486.6 L1774.9,488.7 L1775.4,487.5 L1775.8,485.5 L1776.3,487.3 L1776.7,482.6 L1777.2,485.4 L1777.6,485.8 L1778.1,484.6 L1778.5,484.2 L1779.0,485.0 L1779.4,483.6 L1779.9,484.6 L1780.3,486.9 L1780.8,480.9 L1781.2,487.7 L1781.7,485.5 L1782.1,484.6 L1782.6,482.0 L1783.0,483.8 L1783.5,483.9 L1783.9,487.0 L1784.4,487.0 L1784.8,488.0 L1785.3,485.0 L1785.7,479.6 L1786.2,481.5 L1786.6,482.8 L1787.1,484.5 L1787.5,480.6 L1788.0,483.9 L1788.4,484.8 L1788.9,483.7 L1789.3,484.8 L1789.8,490.4 L1790.2,485.5 L1790.7,490.0 L1791.1,485.8 L1791.6,483.1 L1792.0,485.3 L1792.5,482.7 L1792.9,483.1 L1793.4,477.9 L1793.8,483.1 L1794.3,480.7 L1794.7,484.5 L1795.2,482.2 L1795.6,480.9 L1796.1,479.3 L1796.5,481.5 L1797.0,480.7 L1797.4,479.9 L1797.9,485.8 L1798.3,481.0 L1798.8,482.9 L1799.2,484.0 L1799.7,481.5 L1800.1,481.8 L1800.6,481.0 L1801.0,481.4 L1801.5,479.8 L1801.9,478.8 L1802.4,477.0 L1802.8,474.6 L1803.3,473.6 L1803.7,471.9 L1804.2,472.3 L1804.6,473.1 L1805.1,466.2 L1805.5,464.4 L1806.0,460.8 L1806.4,460.2 L1806.9,460.2 L1807.3,454.9 L1807.8,454.3 L1808.2,447.1 L1808.7,451.2 L1809.1,452.6 L1809.6,450.8 L1810.0,449.9 L1810.5,456.6 L1810.9,458.0 L1811.4,464.9 L1811.8,462.1 L1812.3,465.1 L1812.7,466.5 L1813.2,469.5 L1813.6,467.1 L1814.1,475.7 L1814.5,475.4 L1815.0,474.7 L1815.4,475.6 L1815.9,478.7 L1816.3,479.3 L1816.8,478.4 L1817.2,479.5 L1817.7,481.0 L1818.1,479.7 L1818.6,480.3 L1819.0,480.4 L1819.5,480.7 L1819.9,479.0 L1820.4,480.2 L1820.8,483.6 L1821.3,484.9 L1821.7,483.4 L1822.2,475.8 L1822.6,480.6 L1823.1,484.6 L1823.5,487.2 L1824.0,486.1 L1824.4,483.2 L1824.9,483.1 L1825.3,483.1 L1825.8,487.7 L1826.2,484.2 L1826.7,481.3 L1827.1,485.2 L1827.6,484.8 L1828.0,478.6 L1828.5,481.8 L1828.9,485.5 L1829.4,485.2 L1829.8,480.3 L1830.3,483.3 L1830.7,486.1 L1831.2,485.9 L1831.6,483.3 L1832.1,485.0 L1832.5,486.4 L1833.0,485.7 L1833.4,482.3 L1833.9,489.6 L1834.3,485.0 L1834.8,481.3 L1835.2,483.7 L1835.7,478.1 L1836.1,482.6 L1836.6,484.3 L1837.0,490.2 L1837.5,485.8 L1837.9,486.2 L1838.4,486.8 L1838.8,485.1 L1839.3,483.1 L1839.7,487.5 L1840.2,486.1 L1840.6,488.6 L1841.1,487.5 L1841.5,483.2 L1842.0,484.2 L1842.4,484.3 L1842.9,484.3 L1843.3,486.0 L1843.8,484.6 L1844.2,483.4 L1844.7,488.4 L1845.1,488.0 L1845.6,484.5 L1846.0,481.6 L1846.5,482.4 L1846.9,482.4 L1847.4,482.6 L1847.8,482.7 L1848.3,485.5 L1848.7,485.6 L1849.2,485.7 L1849.6,482.4 L1850.1,484.9 L1850.5,488.5 L1851.0,484.7 L1851.4,483.4 L1851.9,490.2 L1852.3,484.8 L1852.8,482.9 L1853.2,486.5 L1853.7,483.5 L1854.1,484.6 L1854.6,487.8 L1855.0,484.2 L1855.5,482.2 L1855.9,486.9 L1856.4,487.1 L1856.8,482.2 L1857.3,484.3 L1857.7,487.5 L1858.2,485.8 L1858.6,487.1 L1859.1,484.9 L1859.5,483.5 L1860.0,483.6 L1860.4,484.3 L1860.9,485.8 L1861.3,480.0 L1861.8,481.9 L1862.2,485.9 L1862.7,486.9 L1863.1,483.4 L1863.6,484.2 L1864.0,481.7 L1864.5,481.5 L1864.9,485.5 L1865.4,485.2 L1865.8,484.1 L1866.3,482.0 L1866.7,484.6 L1867.2,484.3 L1867.6,484.0 L1868.1,484.2 L1868.5,483.3 L1869.0,485.2 L1869.4,485.2 L1869.9,488.8 L1870.3,488.3 L1870.8,485.2 L1871.2,482.4 L1871.7,486.2 L1872.1,483.3 L1872.6,487.9 L1873.0,481.5 L1873.5,484.0 L1873.9,488.5 L1874.4,485.3 L1874.8,486.9 L1875.3,486.5 L1875.7,483.7 L1876.2,486.2 L1876.6,481.9 L1877.1,482.6 L1877.5,487.8 L1878.0,483.1 L1878.4,484.7 L1878.9,481.9 L1879.3,487.4 L1879.8,482.9 L1880.2,483.5 L1880.7,483.8 L1881.1,482.9 L1881.6,481.4 L1882.0,483.5 L1882.5,483.0 L1882.9,484.0 L1883.4,482.1 L1883.8,482.2 L1884.3,483.5 L1884.7,484.6 L1885.2,483.1 L1885.6,485.3 L1886.1,485.0 L1886.5,487.6 L1887.0,486.3 L1887.4,485.6 L1887.9,486.7 L1888.3,483.2 L1888.8,487.6 L1889.2,485.3 L1889.7,484.2 L1890.1,486.3 L1890.6,482.8 L1891.0,488.7 L1891.5,485.2 L1891.9,481.6 L1892.4,482.6 L1892.8,484.0 L1893.3,483.9 L1893.7,485.9 L1894.2,486.7 L1894.6,486.9 L1895.1,485.7 L1895.5,482.2 L1896.0,486.2 L1896.4,486.2 L1896.9,479.4 L1897.3,482.8 L1897.8,483.6 L1898.2,482.7 L1898.7,486.5 L1899.1,485.3 L1899.6,484.6 L1900.0,482.1 L1900.5,480.6 L1900.9,483.4 L1901.4,484.0 L1901.8,484.1 L1902.3,481.3 L1902.7,482.2 L1903.2,484.2 L1903.6,485.5 L1904.1,483.4 L1904.5,483.9 L1905.0,484.2 L1905.4,484.3 L1905.9,487.3 L1906.3,483.2 L1906.8,485.5 L1907.2,482.3 L1907.7,487.7 L1908.1,486.7 L1908.6,487.2 L1909.0,485.1 L1909.5,484.5 L1909.9,481.9 L1910.4,485.4 L1910.8,487.7 L1911.3,478.8 L1911.7,488.6 L1912.2,483.1 L1912.6,486.0 L1913.1,483.3 L1913.5,484.7 L1914.0,486.7 L1914.4,484.1 L1914.9,487.8 L1915.3,483.7 L1915.8,485.1 L1916.2,482.9 L1916.7,483.6 L1917.1,483.8 L1917.6,485.5 L1918.0,488.0 L1918.5,484.8 L1918.9,482.4 L1919.4,483.9 L1919.8,482.0 L1920.3,485.7 L1920.7,484.5 L1921.2,481.9 L1921.6,483.4 L1922.1,486.3 L1922.5,485.5 L1923.0,483.4 L1923.4,486.2 L1923.9,485.3 L1924.3,483.1 L1924.8,484.6 L1925.2,488.1 L1925.7,481.4 L1926.1,485.9 L1926.6,483.5 L1927.0,485.3 L1927.5,484.9 L1927.9,484.8 L1928.4,484.0 L1928.8,484.6 L1929.3,486.2 L1929.7,485.6 L1930.2,481.1 L1930.6,484.8 L1931.1,486.3 L1931.5,485.1 L1932.0,483.5 L1932.4,479.1 L1932.9,484.3 L1933.3,484.2 L1933.8,485.8 L1934.2,480.6 L1934.7,482.2 L1935.1,481.4 L1935.6,481.5 L1936.0,477.8 L1936.5,480.2 L1936.9,480.3 L1937.4,480.4 L1937.8,484.5 L1938.3,479.3 L1938.7,479.4 L1939.2,482.6 L1939.6,478.9 L1940.1,482.6 L1940.5,480.7 L1941.0,478.0 L1941.4,477.7 L1941.9,479.9 L1942.3,479.6 L1942.8,480.7 L1943.2,479.4 L1943.7,481.7 L1944.1,478.6 L1944.6,479.2 L1945.0,480.3 L1945.5,478.6 L1945.9,481.3 L1946.4,482.2 L1946.8,480.1 L1947.3,479.7 L1947.7,486.3 L1948.2,482.9 L1948.6,483.0 L1949.1,482.0 L1949.5,487.2 L1950.0,483.8 L1950.4,480.7 L1950.9,485.6 L1951.3,482.1 L1951.8,484.9 L1952.2,483.8 L1952.7,487.1 L1953.1,485.5 L1953.6,483.5 L1954.0,487.1 L1954.5,489.7 L1954.9,482.5 L1955.4,486.0 L1955.8,484.4 L1956.3,484.5 L1956.7,481.0 L1957.2,481.8 L1957.6,487.3 L1958.1,484.8 L1958.5,483.7 L1959.0,489.0 L1959.4,487.7 L1959.9,486.3 L1960.3,482.2 L1960.8,484.2 L1961.2,487.4 L1961.7,479.9 L1962.1,481.0 L1962.6,483.0 L1963.0,487.0 L1963.5,485.4 L1963.9,485.9 L1964.4,485.2 L1964.8,485.0 L1965.3,487.3 L1965.7,492.4 L1966.2,485.4 L1966.6,487.3 L1967.1,483.6 L1967.5,488.2 L1968.0,485.2 L1968.4,485.7 L1968.9,484.6 L1969.3,484.2 L1969.8,485.0 L1970.2,484.1 L1970.7,483.3 L1971.1,490.0 L1971.6,486.9 L1972.0,487.9 L1972.5,486.5 L1972.9,481.8 L1973.4,484.8 L1973.8,482.8 L1974.3,483.1 L1974.7,484.7 L1975.2,485.3 L1975.6,485.2 L1976.1,485.4 L1976.5,484.6 L1977.0,485.1 L1977.4,487.5 L1977.9,489.3 L1978.3,486.8 L1978.8,483.9 L1979.2,485.5 L1979.7,487.2 L1980.1,487.9 L1980.6,488.8 L1981.0,488.9 L1981.5,487.0 L1981.9,485.3 L1982.4,482.5 L1982.8,488.4 L1983.3,487.4 L1983.7,484.0 L1984.2,485.8 L1984.6,484.7 L1985.1,484.1 L1985.5,488.4 L1986.0,483.4 L1986.4,489.7 L1986.9,484.3 L1987.3,483.2 L1987.8,485.3 L1988.2,490.6 L1988.7,484.9 L1989.1,486.3 L1989.6,479.9 L1990.0,486.0 L1990.5,481.3 L1990.9,484.0 L1991.4,487.4 L1991.8,484.1 L1992.3,486.3 L1992.7,484.1 L1993.2,483.8 L1993.6,485.2 L1994.1,487.2 L1994.5,485.1 L1995.0,484.6 L1995.4,482.3 L1995.9,480.6 L1996.3,484.5 L1996.8,483.7 L1997.2,484.8 L1997.7,486.7 L1998.1,486.7 L1998.6,483.7 L1999.0,486.7 L1999.5,486.6 L1999.9,485.0 L2000.4,480.2 L2000.8,483.4 L2001.3,485.2 L2001.7,487.4 L2002.2,485.1 L2002.6,482.7 L2003.1,488.6 L2003.5,485.2 L2004.0,483.9 L2004.4,486.1 L2004.9,486.6 L2005.3,485.1 L2005.8,484.0 L2006.2,484.1 L2006.7,487.4 L2007.1,485.5 L2007.6,487.0 L2008.0,481.3 L2008.5,484.1 L2008.9,484.2 L2009.4,484.0 L2009.8,480.8 L2010.3,484.3 L2010.7,489.0 L2011.2,486.2 L2011.6,484.2 L2012.1,483.7 L2012.5,482.4 L2013.0,485.9 L2013.4,483.4 L2013.9,484.0 L2014.3,486.9 L2014.8,487.4 L2015.2,486.9 L2015.7,481.9 L2016.1,484.3 L2016.6,488.2 L2017.0,482.9 L2017.5,488.2 L2017.9,485.0 L2018.4,486.9 L2018.8,484.0 L2019.3,482.8 L2019.7,483.6 L2020.2,489.4 L2020.6,485.3 L2021.1,483.2 L2021.5,487.6 L2022.0,482.2 L2022.4,485.0 L2022.9,485.7 L2023.3,485.3 L2023.8,485.7 L2024.2,484.7 L2024.7,479.4 L2025.1,485.2 L2025.6,484.3 L2026.0,484.0 L2026.5,485.8 L2026.9,486.8 L2027.4,485.7 L2027.8,488.6 L2028.3,490.0 L2028.7,485.5 L2029.2,483.7 L2029.6,481.2 L2030.1,485.5 L2030.5,480.7 L2031.0,489.1 L2031.4,488.2 L2031.9,485.2 L2032.3,487.9 L2032.8,484.3 L2033.2,483.4 L2033.7,487.2 L2034.1,482.9 L2034.6,485.6 L2035.0,484.9 L2035.5,488.8 L2035.9,486.1 L2036.4,488.9 L2036.8,487.3 L2037.3,483.8 L2037.7,482.8 L2038.2,480.4 L2038.6,485.0 L2039.1,478.8 L2039.5,483.3 L2040.0,479.9 L2040.4,484.0 L2040.9,486.7 L2041.3,482.7 L2041.8,483.1 L2042.2,483.3 L2042.7,485.1 L2043.1,481.2 L2043.6,484.8 L2044.0,484.3 L2044.5,482.4 L2044.9,483.0 L2045.4,488.4 L2045.8,487.5 L2046.3,486.8 L2046.7,483.7 L2047.2,484.4 L2047.6,481.9 L2048.1,480.4 L2048.5,482.6 L2049.0,481.7 L2049.4,480.3 L2049.9,480.9 L2050.3,484.9 L2050.8,483.1 L2051.2,480.6 L2051.7,488.8 L2052.1,480.5 L2052.6,484.9 L2053.0,482.2 L2053.5,485.7 L2053.9,484.0 L2054.4,485.8 L2054.8,483.4 L2055.3,482.1 L2055.7,487.2 L2056.2,483.8 L2056.6,483.4 L2057.1,483.5 L2057.5,482.1 L2058.0,484.3 L2058.4,487.2 L2058.9,487.1 L2059.3,484.7 L2059.8,485.3 L2060.2,485.0 L2060.7,481.4 L2061.1,485.7 L2061.6,482.6 L2062.0,477.6 L2062.5,482.6 L2062.9,478.7 L2063.4,480.7 L2063.8,480.6 L2064.3,477.6 L2064.7,478.1 L2065.2,479.8 L2065.6,472.9 L2066.1,470.8 L2066.5,473.6 L2067.0,471.9 L2067.4,475.7 L2067.9,471.9 L2068.3,469.6 L2068.8,467.0 L2069.2,461.9 L2069.7,462.2 L2070.1,463.6 L2070.6,464.0 L2071.0,462.0 L2071.5,463.0 L2071.9,464.5 L2072.4,462.1 L2072.8,463.7 L2073.3,463.9 L2073.7,470.5 L2074.2,465.0 L2074.6,472.4 L2075.1,474.2 L2075.5,469.3 L2076.0,474.0 L2076.4,478.7 L2076.9,475.5 L2077.3,477.0 L2077.8,478.4 L2078.2,481.3 L2078.7,479.9 L2079.1,477.6 L2079.6,476.9 L2080.0,477.0 L2080.5,481.2 L2080.9,475.7 L2081.4,479.6 L2081.8,482.7 L2082.3,479.4 L2082.7,482.1 L2083.2,483.0 L2083.6,485.1 L2084.1,480.4 L2084.5,483.5 L2085.0,483.1 L2085.4,483.1 L2085.9,479.1 L2086.3,483.8 L2086.8,481.0 L2087.2,482.9 L2087.7,481.4 L2088.1,487.8 L2088.6,483.8 L2089.0,488.6 L2089.5,482.5 L2089.9,483.1 L2090.4,486.7 L2090.8,482.6 L2091.3,484.5 L2091.7,486.3 L2092.2,483.1 L2092.6,482.4 L2093.1,483.2 L2093.5,486.0 L2094.0,484.8 L2094.4,486.6 L2094.9,483.0 L2095.3,482.5 L2095.8,481.1 L2096.2,483.0 L2096.7,482.2 L2097.1,482.8 L2097.6,480.4 L2098.0,480.3 L2098.5,480.9 L2098.9,483.7 L2099.4,481.0 L2099.8,480.7 L2100.3,484.2 L2100.7,484.7 L2101.2,480.7 L2101.6,480.4 L2102.1,476.6 L2102.5,476.9 L2103.0,480.3 L2103.4,483.5 L2103.9,484.5 L2104.3,482.0 L2104.8,479.0 L2105.2,481.6 L2105.7,477.6 L2106.1,481.1 L2106.6,478.9 L2107.0,481.8 L2107.5,485.2 L2107.9,487.1 L2108.4,482.8 L2108.8,483.3 L2109.3,478.6 L2109.7,480.5 L2110.2,485.3 L2110.6,484.8 L2111.1,484.6 L2111.5,484.3 L2112.0,487.5 L2112.4,483.7 L2112.9,484.2 L2113.3,491.1 L2113.8,483.1 L2114.2,486.1 L2114.7,484.4 L2115.1,488.9 L2115.6,485.1 L2116.0,485.1 L2116.5,485.2 L2116.9,487.7 L2117.4,483.7 L2117.8,482.4 L2118.3,485.1 L2118.7,484.3 L2119.2,486.4 L2119.6,484.7 L2120.1,484.0 L2120.5,485.4 L2121.0,485.2 L2121.4,486.4 L2121.9,484.6 L2122.3,481.0 L2122.8,485.4 L2123.2,485.8 L2123.7,485.6 L2124.1,486.9 L2124.6,485.1 L2125.0,488.6 L2125.5,485.8 L2125.9,489.8 L2126.4,484.2 L2126.8,481.3 L2127.3,484.4 L2127.7,493.0 L2128.2,486.1 L2128.6,486.1 L2129.1,486.7 L2129.5,485.1 L2130.0,486.7 L2130.4,486.6 L2130.9,491.1 L2131.3,489.3 L2131.8,487.3 L2132.2,488.4 L2132.7,488.3 L2133.1,484.4 L2133.6,488.8 L2134.0,484.5 L2134.5,487.7 L2134.9,486.2 L2135.4,487.7 L2135.8,488.5 L2136.3,486.6 L2136.7,484.5 L2137.2,485.3 L2137.6,487.6 L2138.1,485.3 L2138.5,485.0 L2139.0,485.0 L2139.4,484.2 L2139.9,486.3 L2140.3,484.5 L2140.8,486.0 L2141.2,484.3 L2141.7,482.0 L2142.1,487.5 L2142.6,487.9 L2143.0,484.9 L2143.5,488.1 L2143.9,487.2 L2144.4,483.7 L2144.8,488.3 L2145.3,480.7 L2145.7,485.1 L2146.2,487.1 L2146.6,483.4 L2147.1,490.0 L2147.5,485.5 L2148.0,489.8 L2148.4,486.5 L2148.9,488.1 L2149.3,486.1 L2149.8,491.3 L2150.2,487.0 L2150.7,488.3 L2151.1,487.6 L2151.6,486.2 L2152.0,485.0 L2152.5,486.3 L2152.9,487.8 L2153.4,488.0 L2153.8,487.6 L2154.3,486.1 L2154.7,487.6 L2155.2,483.2 L2155.6,485.2 L2156.1,480.9 L2156.5,484.3 L2157.0,485.8 L2157.4,483.3 L2157.9,484.0 L2158.3,488.7 L2158.8,487.8 L2159.2,489.2 L2159.7,489.5 L2160.1,488.5 L2160.6,489.1 L2161.0,488.0 L2161.5,490.1" fill="none" stroke="#079807" stroke-width="7.4" stroke-linejoin="round" stroke-linecap="butt"/>
<g font-family="'Liberation Sans', sans-serif" font-size="76.7" fill="#000" text-anchor="middle">
<text transform="translate(179.0,1594.8) scale(1,1.02)">10</text>
<text transform="translate(463.0,1594.8) scale(1,1.02)">20</text>
<text transform="translate(747.0,1594.8) scale(1,1.02)">30</text>
<text transform="translate(1031.0,1594.8) scale(1,1.02)">40</text>
<text transform="translate(1315.0,1594.8) scale(1,1.02)">50</text>
<text transform="translate(1599.0,1594.8) scale(1,1.02)">60</text>
<text transform="translate(1883.0,1594.8) scale(1,1.02)">70</text>
<text transform="translate(2167.0,1594.8) scale(1,1.02)">80</text>
</g>
<text font-family="'Liberation Sans', sans-serif" font-size="76" fill="#000" text-anchor="middle" transform="translate(69.4,752) rotate(-90)">Intensity(a.u.)</text>
<text font-family="'Liberation Serif', serif" font-size="77.3" fill="#000" text-anchor="middle" x="1173" y="1726.1">2θ (degree)</text>
<g font-family="'Liberation Serif', serif" font-weight="bold" font-size="77.2">
<text transform="translate(1632.1,315.8) scale(0.985,1)" fill="#079807">LFO/BTO</text>
<text transform="translate(1730.5,727.3) scale(1.004,1)" fill="#f00">BTO</text>
<text transform="translate(1739.9,1108.4) scale(0.996,1)" fill="#000">LFO</text>
<text transform="translate(249.9,1421.2) scale(0.981,1)" fill="#f00">PDF#35-0795</text>
<text transform="translate(1609.9,1404.0) scale(0.978,1)" fill="#000">PDF#37-1493</text>
</g>
</svg>
</body></html>
